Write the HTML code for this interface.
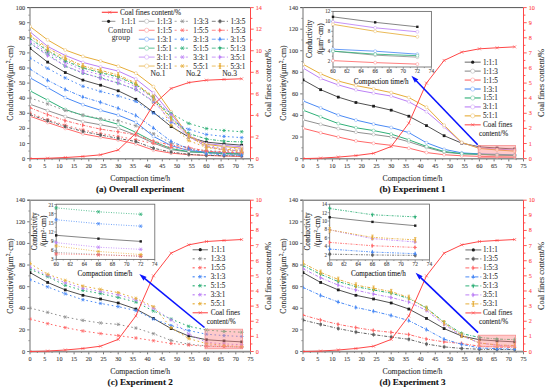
<!DOCTYPE html>
<html><head><meta charset="utf-8"><style>
html,body{margin:0;padding:0;background:#fff;width:550px;height:389px;overflow:hidden}
svg{display:block;font-family:"Liberation Serif",serif}
text{stroke-width:0.1px}
</style></head><body>
<svg width="550" height="389" viewBox="0 0 550 389" font-family="Liberation Serif, serif">
<path d="M27.40 7.60H250.50" stroke="#555" stroke-width="1.0"/>
<path d="M30.00 158.60V161.40" stroke="#555" stroke-width="0.8"/>
<text transform="translate(30.00 168.10) scale(0.920 1)" font-size="6.70" text-anchor="middle" fill="#3a3a3a" stroke="#3a3a3a">0</text>
<path d="M37.35 158.60V160.10" stroke="#555" stroke-width="0.8"/>
<path d="M44.70 158.60V161.40" stroke="#555" stroke-width="0.8"/>
<text transform="translate(44.70 168.10) scale(0.920 1)" font-size="6.70" text-anchor="middle" fill="#3a3a3a" stroke="#3a3a3a">5</text>
<path d="M52.05 158.60V160.10" stroke="#555" stroke-width="0.8"/>
<path d="M59.40 158.60V161.40" stroke="#555" stroke-width="0.8"/>
<text transform="translate(59.40 168.10) scale(0.920 1)" font-size="6.70" text-anchor="middle" fill="#3a3a3a" stroke="#3a3a3a">10</text>
<path d="M66.75 158.60V160.10" stroke="#555" stroke-width="0.8"/>
<path d="M74.10 158.60V161.40" stroke="#555" stroke-width="0.8"/>
<text transform="translate(74.10 168.10) scale(0.920 1)" font-size="6.70" text-anchor="middle" fill="#3a3a3a" stroke="#3a3a3a">15</text>
<path d="M81.45 158.60V160.10" stroke="#555" stroke-width="0.8"/>
<path d="M88.80 158.60V161.40" stroke="#555" stroke-width="0.8"/>
<text transform="translate(88.80 168.10) scale(0.920 1)" font-size="6.70" text-anchor="middle" fill="#3a3a3a" stroke="#3a3a3a">20</text>
<path d="M96.15 158.60V160.10" stroke="#555" stroke-width="0.8"/>
<path d="M103.50 158.60V161.40" stroke="#555" stroke-width="0.8"/>
<text transform="translate(103.50 168.10) scale(0.920 1)" font-size="6.70" text-anchor="middle" fill="#3a3a3a" stroke="#3a3a3a">25</text>
<path d="M110.85 158.60V160.10" stroke="#555" stroke-width="0.8"/>
<path d="M118.20 158.60V161.40" stroke="#555" stroke-width="0.8"/>
<text transform="translate(118.20 168.10) scale(0.920 1)" font-size="6.70" text-anchor="middle" fill="#3a3a3a" stroke="#3a3a3a">30</text>
<path d="M125.55 158.60V160.10" stroke="#555" stroke-width="0.8"/>
<path d="M132.90 158.60V161.40" stroke="#555" stroke-width="0.8"/>
<text transform="translate(132.90 168.10) scale(0.920 1)" font-size="6.70" text-anchor="middle" fill="#3a3a3a" stroke="#3a3a3a">35</text>
<path d="M140.25 158.60V160.10" stroke="#555" stroke-width="0.8"/>
<path d="M147.60 158.60V161.40" stroke="#555" stroke-width="0.8"/>
<text transform="translate(147.60 168.10) scale(0.920 1)" font-size="6.70" text-anchor="middle" fill="#3a3a3a" stroke="#3a3a3a">40</text>
<path d="M154.95 158.60V160.10" stroke="#555" stroke-width="0.8"/>
<path d="M162.30 158.60V161.40" stroke="#555" stroke-width="0.8"/>
<text transform="translate(162.30 168.10) scale(0.920 1)" font-size="6.70" text-anchor="middle" fill="#3a3a3a" stroke="#3a3a3a">45</text>
<path d="M169.65 158.60V160.10" stroke="#555" stroke-width="0.8"/>
<path d="M177.00 158.60V161.40" stroke="#555" stroke-width="0.8"/>
<text transform="translate(177.00 168.10) scale(0.920 1)" font-size="6.70" text-anchor="middle" fill="#3a3a3a" stroke="#3a3a3a">50</text>
<path d="M184.35 158.60V160.10" stroke="#555" stroke-width="0.8"/>
<path d="M191.70 158.60V161.40" stroke="#555" stroke-width="0.8"/>
<text transform="translate(191.70 168.10) scale(0.920 1)" font-size="6.70" text-anchor="middle" fill="#3a3a3a" stroke="#3a3a3a">55</text>
<path d="M199.05 158.60V160.10" stroke="#555" stroke-width="0.8"/>
<path d="M206.40 158.60V161.40" stroke="#555" stroke-width="0.8"/>
<text transform="translate(206.40 168.10) scale(0.920 1)" font-size="6.70" text-anchor="middle" fill="#3a3a3a" stroke="#3a3a3a">60</text>
<path d="M213.75 158.60V160.10" stroke="#555" stroke-width="0.8"/>
<path d="M221.10 158.60V161.40" stroke="#555" stroke-width="0.8"/>
<text transform="translate(221.10 168.10) scale(0.920 1)" font-size="6.70" text-anchor="middle" fill="#3a3a3a" stroke="#3a3a3a">65</text>
<path d="M228.45 158.60V160.10" stroke="#555" stroke-width="0.8"/>
<path d="M235.80 158.60V161.40" stroke="#555" stroke-width="0.8"/>
<text transform="translate(235.80 168.10) scale(0.920 1)" font-size="6.70" text-anchor="middle" fill="#3a3a3a" stroke="#3a3a3a">70</text>
<path d="M243.15 158.60V160.10" stroke="#555" stroke-width="0.8"/>
<path d="M250.50 158.60V161.40" stroke="#555" stroke-width="0.8"/>
<text transform="translate(250.50 168.10) scale(0.920 1)" font-size="6.70" text-anchor="middle" fill="#3a3a3a" stroke="#3a3a3a">75</text>
<path d="M30.00 158.60H27.20" stroke="#555" stroke-width="0.8"/>
<text transform="translate(25.10 160.60) scale(0.920 1)" font-size="6.70" text-anchor="end" fill="#3a3a3a" stroke="#3a3a3a">0</text>
<path d="M30.00 151.05H28.50" stroke="#555" stroke-width="0.8"/>
<path d="M30.00 143.50H27.20" stroke="#555" stroke-width="0.8"/>
<text transform="translate(25.10 145.50) scale(0.920 1)" font-size="6.70" text-anchor="end" fill="#3a3a3a" stroke="#3a3a3a">10</text>
<path d="M30.00 135.95H28.50" stroke="#555" stroke-width="0.8"/>
<path d="M30.00 128.40H27.20" stroke="#555" stroke-width="0.8"/>
<text transform="translate(25.10 130.40) scale(0.920 1)" font-size="6.70" text-anchor="end" fill="#3a3a3a" stroke="#3a3a3a">20</text>
<path d="M30.00 120.85H28.50" stroke="#555" stroke-width="0.8"/>
<path d="M30.00 113.30H27.20" stroke="#555" stroke-width="0.8"/>
<text transform="translate(25.10 115.30) scale(0.920 1)" font-size="6.70" text-anchor="end" fill="#3a3a3a" stroke="#3a3a3a">30</text>
<path d="M30.00 105.75H28.50" stroke="#555" stroke-width="0.8"/>
<path d="M30.00 98.20H27.20" stroke="#555" stroke-width="0.8"/>
<text transform="translate(25.10 100.20) scale(0.920 1)" font-size="6.70" text-anchor="end" fill="#3a3a3a" stroke="#3a3a3a">40</text>
<path d="M30.00 90.65H28.50" stroke="#555" stroke-width="0.8"/>
<path d="M30.00 83.10H27.20" stroke="#555" stroke-width="0.8"/>
<text transform="translate(25.10 85.10) scale(0.920 1)" font-size="6.70" text-anchor="end" fill="#3a3a3a" stroke="#3a3a3a">50</text>
<path d="M30.00 75.55H28.50" stroke="#555" stroke-width="0.8"/>
<path d="M30.00 68.00H27.20" stroke="#555" stroke-width="0.8"/>
<text transform="translate(25.10 70.00) scale(0.920 1)" font-size="6.70" text-anchor="end" fill="#3a3a3a" stroke="#3a3a3a">60</text>
<path d="M30.00 60.45H28.50" stroke="#555" stroke-width="0.8"/>
<path d="M30.00 52.90H27.20" stroke="#555" stroke-width="0.8"/>
<text transform="translate(25.10 54.90) scale(0.920 1)" font-size="6.70" text-anchor="end" fill="#3a3a3a" stroke="#3a3a3a">70</text>
<path d="M30.00 45.35H28.50" stroke="#555" stroke-width="0.8"/>
<path d="M30.00 37.80H27.20" stroke="#555" stroke-width="0.8"/>
<text transform="translate(25.10 39.80) scale(0.920 1)" font-size="6.70" text-anchor="end" fill="#3a3a3a" stroke="#3a3a3a">80</text>
<path d="M30.00 30.25H28.50" stroke="#555" stroke-width="0.8"/>
<path d="M30.00 22.70H27.20" stroke="#555" stroke-width="0.8"/>
<text transform="translate(25.10 24.70) scale(0.920 1)" font-size="6.70" text-anchor="end" fill="#3a3a3a" stroke="#3a3a3a">90</text>
<path d="M30.00 15.15H28.50" stroke="#555" stroke-width="0.8"/>
<path d="M30.00 7.60H27.20" stroke="#555" stroke-width="0.8"/>
<text transform="translate(25.10 9.60) scale(0.920 1)" font-size="6.70" text-anchor="end" fill="#3a3a3a" stroke="#3a3a3a">100</text>
<path d="M250.50 158.60H253.70" stroke="#ff4646" stroke-width="0.9"/>
<text transform="translate(255.80 160.60) scale(0.920 1)" font-size="6.70" text-anchor="start" fill="#ff4646" stroke="#ff4646">0</text>
<path d="M250.50 147.81H252.40" stroke="#ff4646" stroke-width="0.9"/>
<path d="M250.50 137.03H253.70" stroke="#ff4646" stroke-width="0.9"/>
<text transform="translate(255.80 139.03) scale(0.920 1)" font-size="6.70" text-anchor="start" fill="#ff4646" stroke="#ff4646">2</text>
<path d="M250.50 126.24H252.40" stroke="#ff4646" stroke-width="0.9"/>
<path d="M250.50 115.46H253.70" stroke="#ff4646" stroke-width="0.9"/>
<text transform="translate(255.80 117.46) scale(0.920 1)" font-size="6.70" text-anchor="start" fill="#ff4646" stroke="#ff4646">4</text>
<path d="M250.50 104.67H252.40" stroke="#ff4646" stroke-width="0.9"/>
<path d="M250.50 93.89H253.70" stroke="#ff4646" stroke-width="0.9"/>
<text transform="translate(255.80 95.89) scale(0.920 1)" font-size="6.70" text-anchor="start" fill="#ff4646" stroke="#ff4646">6</text>
<path d="M250.50 83.10H252.40" stroke="#ff4646" stroke-width="0.9"/>
<path d="M250.50 72.31H253.70" stroke="#ff4646" stroke-width="0.9"/>
<text transform="translate(255.80 74.31) scale(0.920 1)" font-size="6.70" text-anchor="start" fill="#ff4646" stroke="#ff4646">8</text>
<path d="M250.50 61.53H252.40" stroke="#ff4646" stroke-width="0.9"/>
<path d="M250.50 50.74H253.70" stroke="#ff4646" stroke-width="0.9"/>
<text transform="translate(255.80 52.74) scale(0.920 1)" font-size="6.70" text-anchor="start" fill="#ff4646" stroke="#ff4646">10</text>
<path d="M250.50 39.96H252.40" stroke="#ff4646" stroke-width="0.9"/>
<path d="M250.50 29.17H253.70" stroke="#ff4646" stroke-width="0.9"/>
<text transform="translate(255.80 31.17) scale(0.920 1)" font-size="6.70" text-anchor="start" fill="#ff4646" stroke="#ff4646">12</text>
<path d="M250.50 18.39H252.40" stroke="#ff4646" stroke-width="0.9"/>
<path d="M250.50 7.60H253.70" stroke="#ff4646" stroke-width="0.9"/>
<text transform="translate(255.80 9.60) scale(0.920 1)" font-size="6.70" text-anchor="start" fill="#ff4646" stroke="#ff4646">14</text>
<path d="M30.00 7.60V158.60" stroke="#999999" stroke-width="1.4"/>
<path d="M250.50 7.60V158.60" stroke="#ff4646" stroke-width="1"/>
<path d="M29.30 158.70H250.50" stroke="#8e8e8e" stroke-width="1.6"/>
<defs><clipPath id="clipa"><rect x="30.00" y="7.60" width="220.50" height="152.00"/></clipPath></defs>
<g clip-path="url(#clipa)">
<polyline points="30.00,48.37 47.64,62.11 65.28,72.53 82.92,80.08 100.56,85.21 118.20,90.80 135.84,99.26 153.48,112.39 171.12,126.59 188.76,137.01 206.40,142.14 224.04,143.80 241.68,145.16" fill="none" stroke="#505050" stroke-width="1.00" />
<polyline points="30.00,104.24 47.64,110.58 65.28,116.62 82.92,121.60 100.56,124.78 118.20,128.25 135.84,135.04 153.48,143.05 171.12,149.69 188.76,151.96 206.40,152.56 224.04,153.77 241.68,154.37" fill="none" stroke="#909090" stroke-width="1.00" />
<polyline points="30.00,116.17 47.64,122.51 65.28,128.40 82.92,133.84 100.56,137.16 118.20,140.03 135.84,143.95 153.48,150.14 171.12,153.16 188.76,154.67 206.40,155.43 224.04,156.03 241.68,156.49" fill="none" stroke="#ff6868" stroke-width="1.00" />
<polyline points="30.00,77.81 47.64,87.63 65.28,97.60 82.92,104.69 100.56,110.28 118.20,115.11 135.84,122.21 153.48,136.40 171.12,145.61 188.76,150.60 206.40,151.96 224.04,152.56 241.68,153.47" fill="none" stroke="#4a8af5" stroke-width="1.00" />
<polyline points="30.00,90.80 47.64,100.16 65.28,109.52 82.92,115.41 100.56,119.34 118.20,124.32 135.84,132.33 153.48,141.54 171.12,148.63 188.76,151.65 206.40,152.56 224.04,153.47 241.68,153.92" fill="none" stroke="#30b078" stroke-width="1.00" />
<polyline points="30.00,31.76 47.64,46.41 65.28,55.47 82.92,62.41 100.56,66.94 118.20,71.02 135.84,79.02 153.48,92.91 171.12,114.05 188.76,136.40 206.40,143.65 224.04,145.46 241.68,146.67" fill="none" stroke="#bc80f5" stroke-width="1.00" />
<polyline points="30.00,26.47 47.64,39.91 65.28,50.03 82.92,56.37 100.56,61.05 118.20,66.19 135.84,73.13 153.48,86.57 171.12,111.79 188.76,135.95 206.40,144.41 224.04,146.52 241.68,148.18" fill="none" stroke="#e6ad3a" stroke-width="1.00" />
<polyline points="30.00,97.90 47.64,103.94 65.28,110.43 82.92,115.11 100.56,118.74 118.20,120.70 135.84,125.83 153.48,133.69 171.12,143.20 188.76,148.48 206.40,150.60 224.04,151.65 241.68,152.56" fill="none" stroke="#909090" stroke-width="1.00" stroke-dasharray="1.6 2.7"/>
<polyline points="30.00,113.15 47.64,119.64 65.28,125.23 82.92,129.91 100.56,133.53 118.20,136.40 135.84,139.72 153.48,143.50 171.12,147.43 188.76,149.54 206.40,151.35 224.04,151.81 241.68,152.41" fill="none" stroke="#ff6868" stroke-width="1.00" stroke-dasharray="1.6 2.7"/>
<polyline points="30.00,58.18 47.64,68.30 65.28,77.97 82.92,86.27 100.56,91.41 118.20,95.94 135.84,101.37 153.48,113.15 171.12,122.36 188.76,129.31 206.40,134.44 224.04,136.40 241.68,137.61" fill="none" stroke="#4a8af5" stroke-width="1.00" stroke-dasharray="1.6 2.7"/>
<polyline points="30.00,43.54 47.64,53.96 65.28,66.19 82.92,73.28 100.56,77.66 118.20,83.10 135.84,89.44 153.48,101.97 171.12,113.30 188.76,123.42 206.40,128.55 224.04,130.51 241.68,131.72" fill="none" stroke="#30b078" stroke-width="1.00" stroke-dasharray="1.6 2.7"/>
<polyline points="30.00,40.97 47.64,52.45 65.28,62.56 82.92,70.27 100.56,74.79 118.20,79.32 135.84,86.57 153.48,98.20 171.12,114.51 188.76,134.14 206.40,145.76 224.04,148.03 241.68,149.09" fill="none" stroke="#bc80f5" stroke-width="1.00" stroke-dasharray="1.6 2.7"/>
<polyline points="30.00,35.53 47.64,50.63 65.28,59.24 82.92,67.24 100.56,71.77 118.20,76.30 135.84,84.31 153.48,95.94 171.12,125.23 188.76,140.63 206.40,147.43 224.04,150.14 241.68,151.65" fill="none" stroke="#e6ad3a" stroke-width="1.00" stroke-dasharray="1.6 2.7"/>
<polyline points="30.00,114.66 47.64,120.70 65.28,126.59 82.92,131.42 100.56,135.04 118.20,138.37 135.84,141.54 153.48,148.18 171.12,152.11 188.76,154.37 206.40,155.43 224.04,155.73 241.68,155.88" fill="none" stroke="#606060" stroke-width="1.00" stroke-dasharray="3.0 1.5 0.9 1.5"/>
<polyline points="30.00,107.71 47.64,114.66 65.28,120.70 82.92,125.23 100.56,129.16 118.20,131.87 135.84,134.89 153.48,141.23 171.12,145.16 188.76,147.43 206.40,151.20 224.04,152.41 241.68,153.01" fill="none" stroke="#ff6868" stroke-width="1.00" stroke-dasharray="3.0 1.5 0.9 1.5"/>
<polyline points="30.00,69.06 47.64,80.23 65.28,89.44 82.92,96.99 100.56,102.28 118.20,108.32 135.84,115.41 153.48,127.95 171.12,141.39 188.76,148.63 206.40,153.62 224.04,154.67 241.68,155.28" fill="none" stroke="#4a8af5" stroke-width="1.00" stroke-dasharray="3.0 1.5 0.9 1.5"/>
<polyline points="30.00,38.55 47.64,50.79 65.28,60.90 82.92,68.00 100.56,72.68 118.20,77.06 135.84,84.61 153.48,97.60 171.12,117.83 188.76,133.53 206.40,138.97 224.04,141.23 241.68,141.99" fill="none" stroke="#30b078" stroke-width="1.00" stroke-dasharray="3.0 1.5 0.9 1.5"/>
<polyline points="30.00,42.78 47.64,55.62 65.28,65.89 82.92,72.83 100.56,78.42 118.20,83.10 135.84,89.59 153.48,101.22 171.12,120.85 188.76,136.70 206.40,146.67 224.04,149.84 241.68,151.05" fill="none" stroke="#bc80f5" stroke-width="1.00" stroke-dasharray="3.0 1.5 0.9 1.5"/>
<polyline points="30.00,35.08 47.64,48.07 65.28,57.88 82.92,65.89 100.56,70.27 118.20,74.95 135.84,83.10 153.48,98.50 171.12,118.58 188.76,135.95 206.40,146.67 224.04,149.39 241.68,150.29" fill="none" stroke="#e6ad3a" stroke-width="1.00" stroke-dasharray="3.0 1.5 0.9 1.5"/>
<rect x="28.62" y="46.99" width="2.76" height="2.76" fill="#1e1e1e"/>
<rect x="46.26" y="60.73" width="2.76" height="2.76" fill="#1e1e1e"/>
<rect x="63.90" y="71.15" width="2.76" height="2.76" fill="#1e1e1e"/>
<rect x="81.54" y="78.70" width="2.76" height="2.76" fill="#1e1e1e"/>
<rect x="99.18" y="83.83" width="2.76" height="2.76" fill="#1e1e1e"/>
<rect x="116.82" y="89.42" width="2.76" height="2.76" fill="#1e1e1e"/>
<rect x="134.46" y="97.88" width="2.76" height="2.76" fill="#1e1e1e"/>
<rect x="152.10" y="111.01" width="2.76" height="2.76" fill="#1e1e1e"/>
<rect x="169.74" y="125.21" width="2.76" height="2.76" fill="#1e1e1e"/>
<rect x="187.38" y="135.63" width="2.76" height="2.76" fill="#1e1e1e"/>
<rect x="205.02" y="140.76" width="2.76" height="2.76" fill="#1e1e1e"/>
<rect x="222.66" y="142.42" width="2.76" height="2.76" fill="#1e1e1e"/>
<rect x="240.30" y="143.78" width="2.76" height="2.76" fill="#1e1e1e"/>
<circle cx="30.00" cy="104.24" r="1.50" fill="#fff" stroke="#909090" stroke-width="0.5" stroke-opacity="0.75"/>
<circle cx="47.64" cy="110.58" r="1.50" fill="#fff" stroke="#909090" stroke-width="0.5" stroke-opacity="0.75"/>
<circle cx="65.28" cy="116.62" r="1.50" fill="#fff" stroke="#909090" stroke-width="0.5" stroke-opacity="0.75"/>
<circle cx="82.92" cy="121.60" r="1.50" fill="#fff" stroke="#909090" stroke-width="0.5" stroke-opacity="0.75"/>
<circle cx="100.56" cy="124.78" r="1.50" fill="#fff" stroke="#909090" stroke-width="0.5" stroke-opacity="0.75"/>
<circle cx="118.20" cy="128.25" r="1.50" fill="#fff" stroke="#909090" stroke-width="0.5" stroke-opacity="0.75"/>
<circle cx="135.84" cy="135.04" r="1.50" fill="#fff" stroke="#909090" stroke-width="0.5" stroke-opacity="0.75"/>
<circle cx="153.48" cy="143.05" r="1.50" fill="#fff" stroke="#909090" stroke-width="0.5" stroke-opacity="0.75"/>
<circle cx="171.12" cy="149.69" r="1.50" fill="#fff" stroke="#909090" stroke-width="0.5" stroke-opacity="0.75"/>
<circle cx="188.76" cy="151.96" r="1.50" fill="#fff" stroke="#909090" stroke-width="0.5" stroke-opacity="0.75"/>
<circle cx="206.40" cy="152.56" r="1.50" fill="#fff" stroke="#909090" stroke-width="0.5" stroke-opacity="0.75"/>
<circle cx="224.04" cy="153.77" r="1.50" fill="#fff" stroke="#909090" stroke-width="0.5" stroke-opacity="0.75"/>
<circle cx="241.68" cy="154.37" r="1.50" fill="#fff" stroke="#909090" stroke-width="0.5" stroke-opacity="0.75"/>
<circle cx="30.00" cy="116.17" r="1.50" fill="#fff" stroke="#ff6868" stroke-width="0.5" stroke-opacity="0.75"/>
<circle cx="47.64" cy="122.51" r="1.50" fill="#fff" stroke="#ff6868" stroke-width="0.5" stroke-opacity="0.75"/>
<circle cx="65.28" cy="128.40" r="1.50" fill="#fff" stroke="#ff6868" stroke-width="0.5" stroke-opacity="0.75"/>
<circle cx="82.92" cy="133.84" r="1.50" fill="#fff" stroke="#ff6868" stroke-width="0.5" stroke-opacity="0.75"/>
<circle cx="100.56" cy="137.16" r="1.50" fill="#fff" stroke="#ff6868" stroke-width="0.5" stroke-opacity="0.75"/>
<circle cx="118.20" cy="140.03" r="1.50" fill="#fff" stroke="#ff6868" stroke-width="0.5" stroke-opacity="0.75"/>
<circle cx="135.84" cy="143.95" r="1.50" fill="#fff" stroke="#ff6868" stroke-width="0.5" stroke-opacity="0.75"/>
<circle cx="153.48" cy="150.14" r="1.50" fill="#fff" stroke="#ff6868" stroke-width="0.5" stroke-opacity="0.75"/>
<circle cx="171.12" cy="153.16" r="1.50" fill="#fff" stroke="#ff6868" stroke-width="0.5" stroke-opacity="0.75"/>
<circle cx="188.76" cy="154.67" r="1.50" fill="#fff" stroke="#ff6868" stroke-width="0.5" stroke-opacity="0.75"/>
<circle cx="206.40" cy="155.43" r="1.50" fill="#fff" stroke="#ff6868" stroke-width="0.5" stroke-opacity="0.75"/>
<circle cx="224.04" cy="156.03" r="1.50" fill="#fff" stroke="#ff6868" stroke-width="0.5" stroke-opacity="0.75"/>
<circle cx="241.68" cy="156.49" r="1.50" fill="#fff" stroke="#ff6868" stroke-width="0.5" stroke-opacity="0.75"/>
<circle cx="30.00" cy="77.81" r="1.50" fill="#fff" stroke="#4a8af5" stroke-width="0.5" stroke-opacity="0.75"/>
<circle cx="47.64" cy="87.63" r="1.50" fill="#fff" stroke="#4a8af5" stroke-width="0.5" stroke-opacity="0.75"/>
<circle cx="65.28" cy="97.60" r="1.50" fill="#fff" stroke="#4a8af5" stroke-width="0.5" stroke-opacity="0.75"/>
<circle cx="82.92" cy="104.69" r="1.50" fill="#fff" stroke="#4a8af5" stroke-width="0.5" stroke-opacity="0.75"/>
<circle cx="100.56" cy="110.28" r="1.50" fill="#fff" stroke="#4a8af5" stroke-width="0.5" stroke-opacity="0.75"/>
<circle cx="118.20" cy="115.11" r="1.50" fill="#fff" stroke="#4a8af5" stroke-width="0.5" stroke-opacity="0.75"/>
<circle cx="135.84" cy="122.21" r="1.50" fill="#fff" stroke="#4a8af5" stroke-width="0.5" stroke-opacity="0.75"/>
<circle cx="153.48" cy="136.40" r="1.50" fill="#fff" stroke="#4a8af5" stroke-width="0.5" stroke-opacity="0.75"/>
<circle cx="171.12" cy="145.61" r="1.50" fill="#fff" stroke="#4a8af5" stroke-width="0.5" stroke-opacity="0.75"/>
<circle cx="188.76" cy="150.60" r="1.50" fill="#fff" stroke="#4a8af5" stroke-width="0.5" stroke-opacity="0.75"/>
<circle cx="206.40" cy="151.96" r="1.50" fill="#fff" stroke="#4a8af5" stroke-width="0.5" stroke-opacity="0.75"/>
<circle cx="224.04" cy="152.56" r="1.50" fill="#fff" stroke="#4a8af5" stroke-width="0.5" stroke-opacity="0.75"/>
<circle cx="241.68" cy="153.47" r="1.50" fill="#fff" stroke="#4a8af5" stroke-width="0.5" stroke-opacity="0.75"/>
<circle cx="30.00" cy="90.80" r="1.50" fill="#fff" stroke="#30b078" stroke-width="0.5" stroke-opacity="0.75"/>
<circle cx="47.64" cy="100.16" r="1.50" fill="#fff" stroke="#30b078" stroke-width="0.5" stroke-opacity="0.75"/>
<circle cx="65.28" cy="109.52" r="1.50" fill="#fff" stroke="#30b078" stroke-width="0.5" stroke-opacity="0.75"/>
<circle cx="82.92" cy="115.41" r="1.50" fill="#fff" stroke="#30b078" stroke-width="0.5" stroke-opacity="0.75"/>
<circle cx="100.56" cy="119.34" r="1.50" fill="#fff" stroke="#30b078" stroke-width="0.5" stroke-opacity="0.75"/>
<circle cx="118.20" cy="124.32" r="1.50" fill="#fff" stroke="#30b078" stroke-width="0.5" stroke-opacity="0.75"/>
<circle cx="135.84" cy="132.33" r="1.50" fill="#fff" stroke="#30b078" stroke-width="0.5" stroke-opacity="0.75"/>
<circle cx="153.48" cy="141.54" r="1.50" fill="#fff" stroke="#30b078" stroke-width="0.5" stroke-opacity="0.75"/>
<circle cx="171.12" cy="148.63" r="1.50" fill="#fff" stroke="#30b078" stroke-width="0.5" stroke-opacity="0.75"/>
<circle cx="188.76" cy="151.65" r="1.50" fill="#fff" stroke="#30b078" stroke-width="0.5" stroke-opacity="0.75"/>
<circle cx="206.40" cy="152.56" r="1.50" fill="#fff" stroke="#30b078" stroke-width="0.5" stroke-opacity="0.75"/>
<circle cx="224.04" cy="153.47" r="1.50" fill="#fff" stroke="#30b078" stroke-width="0.5" stroke-opacity="0.75"/>
<circle cx="241.68" cy="153.92" r="1.50" fill="#fff" stroke="#30b078" stroke-width="0.5" stroke-opacity="0.75"/>
<circle cx="30.00" cy="31.76" r="1.50" fill="#fff" stroke="#bc80f5" stroke-width="0.5" stroke-opacity="0.75"/>
<circle cx="47.64" cy="46.41" r="1.50" fill="#fff" stroke="#bc80f5" stroke-width="0.5" stroke-opacity="0.75"/>
<circle cx="65.28" cy="55.47" r="1.50" fill="#fff" stroke="#bc80f5" stroke-width="0.5" stroke-opacity="0.75"/>
<circle cx="82.92" cy="62.41" r="1.50" fill="#fff" stroke="#bc80f5" stroke-width="0.5" stroke-opacity="0.75"/>
<circle cx="100.56" cy="66.94" r="1.50" fill="#fff" stroke="#bc80f5" stroke-width="0.5" stroke-opacity="0.75"/>
<circle cx="118.20" cy="71.02" r="1.50" fill="#fff" stroke="#bc80f5" stroke-width="0.5" stroke-opacity="0.75"/>
<circle cx="135.84" cy="79.02" r="1.50" fill="#fff" stroke="#bc80f5" stroke-width="0.5" stroke-opacity="0.75"/>
<circle cx="153.48" cy="92.91" r="1.50" fill="#fff" stroke="#bc80f5" stroke-width="0.5" stroke-opacity="0.75"/>
<circle cx="171.12" cy="114.05" r="1.50" fill="#fff" stroke="#bc80f5" stroke-width="0.5" stroke-opacity="0.75"/>
<circle cx="188.76" cy="136.40" r="1.50" fill="#fff" stroke="#bc80f5" stroke-width="0.5" stroke-opacity="0.75"/>
<circle cx="206.40" cy="143.65" r="1.50" fill="#fff" stroke="#bc80f5" stroke-width="0.5" stroke-opacity="0.75"/>
<circle cx="224.04" cy="145.46" r="1.50" fill="#fff" stroke="#bc80f5" stroke-width="0.5" stroke-opacity="0.75"/>
<circle cx="241.68" cy="146.67" r="1.50" fill="#fff" stroke="#bc80f5" stroke-width="0.5" stroke-opacity="0.75"/>
<circle cx="30.00" cy="26.47" r="1.50" fill="#fff" stroke="#e6ad3a" stroke-width="0.5" stroke-opacity="0.75"/>
<circle cx="47.64" cy="39.91" r="1.50" fill="#fff" stroke="#e6ad3a" stroke-width="0.5" stroke-opacity="0.75"/>
<circle cx="65.28" cy="50.03" r="1.50" fill="#fff" stroke="#e6ad3a" stroke-width="0.5" stroke-opacity="0.75"/>
<circle cx="82.92" cy="56.37" r="1.50" fill="#fff" stroke="#e6ad3a" stroke-width="0.5" stroke-opacity="0.75"/>
<circle cx="100.56" cy="61.05" r="1.50" fill="#fff" stroke="#e6ad3a" stroke-width="0.5" stroke-opacity="0.75"/>
<circle cx="118.20" cy="66.19" r="1.50" fill="#fff" stroke="#e6ad3a" stroke-width="0.5" stroke-opacity="0.75"/>
<circle cx="135.84" cy="73.13" r="1.50" fill="#fff" stroke="#e6ad3a" stroke-width="0.5" stroke-opacity="0.75"/>
<circle cx="153.48" cy="86.57" r="1.50" fill="#fff" stroke="#e6ad3a" stroke-width="0.5" stroke-opacity="0.75"/>
<circle cx="171.12" cy="111.79" r="1.50" fill="#fff" stroke="#e6ad3a" stroke-width="0.5" stroke-opacity="0.75"/>
<circle cx="188.76" cy="135.95" r="1.50" fill="#fff" stroke="#e6ad3a" stroke-width="0.5" stroke-opacity="0.75"/>
<circle cx="206.40" cy="144.41" r="1.50" fill="#fff" stroke="#e6ad3a" stroke-width="0.5" stroke-opacity="0.75"/>
<circle cx="224.04" cy="146.52" r="1.50" fill="#fff" stroke="#e6ad3a" stroke-width="0.5" stroke-opacity="0.75"/>
<circle cx="241.68" cy="148.18" r="1.50" fill="#fff" stroke="#e6ad3a" stroke-width="0.5" stroke-opacity="0.75"/>
<path d="M28.05 97.90L31.95 97.90M29.02 96.21L30.98 99.59M30.98 96.21L29.02 99.59" stroke="#909090" stroke-width="0.75" fill="none"/>
<path d="M45.69 103.94L49.59 103.94M46.66 102.25L48.62 105.63M48.62 102.25L46.66 105.63" stroke="#909090" stroke-width="0.75" fill="none"/>
<path d="M63.33 110.43L67.23 110.43M64.31 108.74L66.25 112.12M66.25 108.74L64.31 112.12" stroke="#909090" stroke-width="0.75" fill="none"/>
<path d="M80.97 115.11L84.87 115.11M81.95 113.42L83.89 116.80M83.89 113.42L81.95 116.80" stroke="#909090" stroke-width="0.75" fill="none"/>
<path d="M98.61 118.74L102.51 118.74M99.59 117.05L101.53 120.42M101.53 117.05L99.59 120.42" stroke="#909090" stroke-width="0.75" fill="none"/>
<path d="M116.25 120.70L120.15 120.70M117.23 119.01L119.17 122.39M119.17 119.01L117.23 122.39" stroke="#909090" stroke-width="0.75" fill="none"/>
<path d="M133.89 125.83L137.79 125.83M134.87 124.14L136.81 127.52M136.81 124.14L134.87 127.52" stroke="#909090" stroke-width="0.75" fill="none"/>
<path d="M151.53 133.69L155.43 133.69M152.51 132.00L154.46 135.37M154.46 132.00L152.51 135.37" stroke="#909090" stroke-width="0.75" fill="none"/>
<path d="M169.17 143.20L173.07 143.20M170.15 141.51L172.09 144.89M172.09 141.51L170.15 144.89" stroke="#909090" stroke-width="0.75" fill="none"/>
<path d="M186.81 148.48L190.71 148.48M187.78 146.79L189.73 150.17M189.73 146.79L187.78 150.17" stroke="#909090" stroke-width="0.75" fill="none"/>
<path d="M204.45 150.60L208.35 150.60M205.43 148.91L207.38 152.29M207.38 148.91L205.43 152.29" stroke="#909090" stroke-width="0.75" fill="none"/>
<path d="M222.09 151.65L225.99 151.65M223.06 149.97L225.01 153.34M225.01 149.97L223.06 153.34" stroke="#909090" stroke-width="0.75" fill="none"/>
<path d="M239.73 152.56L243.63 152.56M240.71 150.87L242.66 154.25M242.66 150.87L240.71 154.25" stroke="#909090" stroke-width="0.75" fill="none"/>
<path d="M28.05 113.15L31.95 113.15M29.02 111.46L30.98 114.84M30.98 111.46L29.02 114.84" stroke="#ff6868" stroke-width="0.75" fill="none"/>
<path d="M45.69 119.64L49.59 119.64M46.66 117.95L48.62 121.33M48.62 117.95L46.66 121.33" stroke="#ff6868" stroke-width="0.75" fill="none"/>
<path d="M63.33 125.23L67.23 125.23M64.31 123.54L66.25 126.92M66.25 123.54L64.31 126.92" stroke="#ff6868" stroke-width="0.75" fill="none"/>
<path d="M80.97 129.91L84.87 129.91M81.95 128.22L83.89 131.60M83.89 128.22L81.95 131.60" stroke="#ff6868" stroke-width="0.75" fill="none"/>
<path d="M98.61 133.53L102.51 133.53M99.59 131.85L101.53 135.22M101.53 131.85L99.59 135.22" stroke="#ff6868" stroke-width="0.75" fill="none"/>
<path d="M116.25 136.40L120.15 136.40M117.23 134.71L119.17 138.09M119.17 134.71L117.23 138.09" stroke="#ff6868" stroke-width="0.75" fill="none"/>
<path d="M133.89 139.72L137.79 139.72M134.87 138.04L136.81 141.41M136.81 138.04L134.87 141.41" stroke="#ff6868" stroke-width="0.75" fill="none"/>
<path d="M151.53 143.50L155.43 143.50M152.51 141.81L154.46 145.19M154.46 141.81L152.51 145.19" stroke="#ff6868" stroke-width="0.75" fill="none"/>
<path d="M169.17 147.43L173.07 147.43M170.15 145.74L172.09 149.11M172.09 145.74L170.15 149.11" stroke="#ff6868" stroke-width="0.75" fill="none"/>
<path d="M186.81 149.54L190.71 149.54M187.78 147.85L189.73 151.23M189.73 147.85L187.78 151.23" stroke="#ff6868" stroke-width="0.75" fill="none"/>
<path d="M204.45 151.35L208.35 151.35M205.43 149.66L207.38 153.04M207.38 149.66L205.43 153.04" stroke="#ff6868" stroke-width="0.75" fill="none"/>
<path d="M222.09 151.81L225.99 151.81M223.06 150.12L225.01 153.49M225.01 150.12L223.06 153.49" stroke="#ff6868" stroke-width="0.75" fill="none"/>
<path d="M239.73 152.41L243.63 152.41M240.71 150.72L242.66 154.10M242.66 150.72L240.71 154.10" stroke="#ff6868" stroke-width="0.75" fill="none"/>
<path d="M28.05 58.18L31.95 58.18M29.02 56.50L30.98 59.87M30.98 56.50L29.02 59.87" stroke="#4a8af5" stroke-width="0.75" fill="none"/>
<path d="M45.69 68.30L49.59 68.30M46.66 66.61L48.62 69.99M48.62 66.61L46.66 69.99" stroke="#4a8af5" stroke-width="0.75" fill="none"/>
<path d="M63.33 77.97L67.23 77.97M64.31 76.28L66.25 79.65M66.25 76.28L64.31 79.65" stroke="#4a8af5" stroke-width="0.75" fill="none"/>
<path d="M80.97 86.27L84.87 86.27M81.95 84.58L83.89 87.96M83.89 84.58L81.95 87.96" stroke="#4a8af5" stroke-width="0.75" fill="none"/>
<path d="M98.61 91.41L102.51 91.41M99.59 89.72L101.53 93.09M101.53 89.72L99.59 93.09" stroke="#4a8af5" stroke-width="0.75" fill="none"/>
<path d="M116.25 95.94L120.15 95.94M117.23 94.25L119.17 97.62M119.17 94.25L117.23 97.62" stroke="#4a8af5" stroke-width="0.75" fill="none"/>
<path d="M133.89 101.37L137.79 101.37M134.87 99.68L136.81 103.06M136.81 99.68L134.87 103.06" stroke="#4a8af5" stroke-width="0.75" fill="none"/>
<path d="M151.53 113.15L155.43 113.15M152.51 111.46L154.46 114.84M154.46 111.46L152.51 114.84" stroke="#4a8af5" stroke-width="0.75" fill="none"/>
<path d="M169.17 122.36L173.07 122.36M170.15 120.67L172.09 124.05M172.09 120.67L170.15 124.05" stroke="#4a8af5" stroke-width="0.75" fill="none"/>
<path d="M186.81 129.31L190.71 129.31M187.78 127.62L189.73 130.99M189.73 127.62L187.78 130.99" stroke="#4a8af5" stroke-width="0.75" fill="none"/>
<path d="M204.45 134.44L208.35 134.44M205.43 132.75L207.38 136.13M207.38 132.75L205.43 136.13" stroke="#4a8af5" stroke-width="0.75" fill="none"/>
<path d="M222.09 136.40L225.99 136.40M223.06 134.71L225.01 138.09M225.01 134.71L223.06 138.09" stroke="#4a8af5" stroke-width="0.75" fill="none"/>
<path d="M239.73 137.61L243.63 137.61M240.71 135.92L242.66 139.30M242.66 135.92L240.71 139.30" stroke="#4a8af5" stroke-width="0.75" fill="none"/>
<path d="M28.05 43.54L31.95 43.54M29.02 41.85L30.98 45.23M30.98 41.85L29.02 45.23" stroke="#30b078" stroke-width="0.75" fill="none"/>
<path d="M45.69 53.96L49.59 53.96M46.66 52.27L48.62 55.65M48.62 52.27L46.66 55.65" stroke="#30b078" stroke-width="0.75" fill="none"/>
<path d="M63.33 66.19L67.23 66.19M64.31 64.50L66.25 67.88M66.25 64.50L64.31 67.88" stroke="#30b078" stroke-width="0.75" fill="none"/>
<path d="M80.97 73.28L84.87 73.28M81.95 71.60L83.89 74.97M83.89 71.60L81.95 74.97" stroke="#30b078" stroke-width="0.75" fill="none"/>
<path d="M98.61 77.66L102.51 77.66M99.59 75.98L101.53 79.35M101.53 75.98L99.59 79.35" stroke="#30b078" stroke-width="0.75" fill="none"/>
<path d="M116.25 83.10L120.15 83.10M117.23 81.41L119.17 84.79M119.17 81.41L117.23 84.79" stroke="#30b078" stroke-width="0.75" fill="none"/>
<path d="M133.89 89.44L137.79 89.44M134.87 87.75L136.81 91.13M136.81 87.75L134.87 91.13" stroke="#30b078" stroke-width="0.75" fill="none"/>
<path d="M151.53 101.97L155.43 101.97M152.51 100.29L154.46 103.66M154.46 100.29L152.51 103.66" stroke="#30b078" stroke-width="0.75" fill="none"/>
<path d="M169.17 113.30L173.07 113.30M170.15 111.61L172.09 114.99M172.09 111.61L170.15 114.99" stroke="#30b078" stroke-width="0.75" fill="none"/>
<path d="M186.81 123.42L190.71 123.42M187.78 121.73L189.73 125.11M189.73 121.73L187.78 125.11" stroke="#30b078" stroke-width="0.75" fill="none"/>
<path d="M204.45 128.55L208.35 128.55M205.43 126.86L207.38 130.24M207.38 126.86L205.43 130.24" stroke="#30b078" stroke-width="0.75" fill="none"/>
<path d="M222.09 130.51L225.99 130.51M223.06 128.83L225.01 132.20M225.01 128.83L223.06 132.20" stroke="#30b078" stroke-width="0.75" fill="none"/>
<path d="M239.73 131.72L243.63 131.72M240.71 130.03L242.66 133.41M242.66 130.03L240.71 133.41" stroke="#30b078" stroke-width="0.75" fill="none"/>
<path d="M28.05 40.97L31.95 40.97M29.02 39.28L30.98 42.66M30.98 39.28L29.02 42.66" stroke="#bc80f5" stroke-width="0.75" fill="none"/>
<path d="M45.69 52.45L49.59 52.45M46.66 50.76L48.62 54.14M48.62 50.76L46.66 54.14" stroke="#bc80f5" stroke-width="0.75" fill="none"/>
<path d="M63.33 62.56L67.23 62.56M64.31 60.88L66.25 64.25M66.25 60.88L64.31 64.25" stroke="#bc80f5" stroke-width="0.75" fill="none"/>
<path d="M80.97 70.27L84.87 70.27M81.95 68.58L83.89 71.95M83.89 68.58L81.95 71.95" stroke="#bc80f5" stroke-width="0.75" fill="none"/>
<path d="M98.61 74.79L102.51 74.79M99.59 73.11L101.53 76.48M101.53 73.11L99.59 76.48" stroke="#bc80f5" stroke-width="0.75" fill="none"/>
<path d="M116.25 79.32L120.15 79.32M117.23 77.64L119.17 81.01M119.17 77.64L117.23 81.01" stroke="#bc80f5" stroke-width="0.75" fill="none"/>
<path d="M133.89 86.57L137.79 86.57M134.87 84.88L136.81 88.26M136.81 84.88L134.87 88.26" stroke="#bc80f5" stroke-width="0.75" fill="none"/>
<path d="M151.53 98.20L155.43 98.20M152.51 96.51L154.46 99.89M154.46 96.51L152.51 99.89" stroke="#bc80f5" stroke-width="0.75" fill="none"/>
<path d="M169.17 114.51L173.07 114.51M170.15 112.82L172.09 116.20M172.09 112.82L170.15 116.20" stroke="#bc80f5" stroke-width="0.75" fill="none"/>
<path d="M186.81 134.14L190.71 134.14M187.78 132.45L189.73 135.83M189.73 132.45L187.78 135.83" stroke="#bc80f5" stroke-width="0.75" fill="none"/>
<path d="M204.45 145.76L208.35 145.76M205.43 144.08L207.38 147.45M207.38 144.08L205.43 147.45" stroke="#bc80f5" stroke-width="0.75" fill="none"/>
<path d="M222.09 148.03L225.99 148.03M223.06 146.34L225.01 149.72M225.01 146.34L223.06 149.72" stroke="#bc80f5" stroke-width="0.75" fill="none"/>
<path d="M239.73 149.09L243.63 149.09M240.71 147.40L242.66 150.78M242.66 147.40L240.71 150.78" stroke="#bc80f5" stroke-width="0.75" fill="none"/>
<path d="M28.05 35.53L31.95 35.53M29.02 33.85L30.98 37.22M30.98 33.85L29.02 37.22" stroke="#e6ad3a" stroke-width="0.75" fill="none"/>
<path d="M45.69 50.63L49.59 50.63M46.66 48.95L48.62 52.32M48.62 48.95L46.66 52.32" stroke="#e6ad3a" stroke-width="0.75" fill="none"/>
<path d="M63.33 59.24L67.23 59.24M64.31 57.55L66.25 60.93M66.25 57.55L64.31 60.93" stroke="#e6ad3a" stroke-width="0.75" fill="none"/>
<path d="M80.97 67.24L84.87 67.24M81.95 65.56L83.89 68.93M83.89 65.56L81.95 68.93" stroke="#e6ad3a" stroke-width="0.75" fill="none"/>
<path d="M98.61 71.77L102.51 71.77M99.59 70.09L101.53 73.46M101.53 70.09L99.59 73.46" stroke="#e6ad3a" stroke-width="0.75" fill="none"/>
<path d="M116.25 76.30L120.15 76.30M117.23 74.62L119.17 77.99M119.17 74.62L117.23 77.99" stroke="#e6ad3a" stroke-width="0.75" fill="none"/>
<path d="M133.89 84.31L137.79 84.31M134.87 82.62L136.81 86.00M136.81 82.62L134.87 86.00" stroke="#e6ad3a" stroke-width="0.75" fill="none"/>
<path d="M151.53 95.94L155.43 95.94M152.51 94.25L154.46 97.62M154.46 94.25L152.51 97.62" stroke="#e6ad3a" stroke-width="0.75" fill="none"/>
<path d="M169.17 125.23L173.07 125.23M170.15 123.54L172.09 126.92M172.09 123.54L170.15 126.92" stroke="#e6ad3a" stroke-width="0.75" fill="none"/>
<path d="M186.81 140.63L190.71 140.63M187.78 138.94L189.73 142.32M189.73 138.94L187.78 142.32" stroke="#e6ad3a" stroke-width="0.75" fill="none"/>
<path d="M204.45 147.43L208.35 147.43M205.43 145.74L207.38 149.11M207.38 145.74L205.43 149.11" stroke="#e6ad3a" stroke-width="0.75" fill="none"/>
<path d="M222.09 150.14L225.99 150.14M223.06 148.46L225.01 151.83M225.01 148.46L223.06 151.83" stroke="#e6ad3a" stroke-width="0.75" fill="none"/>
<path d="M239.73 151.65L243.63 151.65M240.71 149.97L242.66 153.34M242.66 149.97L240.71 153.34" stroke="#e6ad3a" stroke-width="0.75" fill="none"/>
<rect x="28.73" y="113.38" width="2.55" height="2.55" fill="#606060"/><path d="M30.00 112.48V116.83" stroke="#606060" stroke-width="0.7"/>
<rect x="46.37" y="119.42" width="2.55" height="2.55" fill="#606060"/><path d="M47.64 118.52V122.87" stroke="#606060" stroke-width="0.7"/>
<rect x="64.00" y="125.31" width="2.55" height="2.55" fill="#606060"/><path d="M65.28 124.41V128.76" stroke="#606060" stroke-width="0.7"/>
<rect x="81.64" y="130.14" width="2.55" height="2.55" fill="#606060"/><path d="M82.92 129.24V133.59" stroke="#606060" stroke-width="0.7"/>
<rect x="99.28" y="133.77" width="2.55" height="2.55" fill="#606060"/><path d="M100.56 132.87V137.22" stroke="#606060" stroke-width="0.7"/>
<rect x="116.92" y="137.09" width="2.55" height="2.55" fill="#606060"/><path d="M118.20 136.19V140.54" stroke="#606060" stroke-width="0.7"/>
<rect x="134.56" y="140.26" width="2.55" height="2.55" fill="#606060"/><path d="M135.84 139.36V143.71" stroke="#606060" stroke-width="0.7"/>
<rect x="152.21" y="146.91" width="2.55" height="2.55" fill="#606060"/><path d="M153.48 146.01V150.36" stroke="#606060" stroke-width="0.7"/>
<rect x="169.84" y="150.83" width="2.55" height="2.55" fill="#606060"/><path d="M171.12 149.93V154.28" stroke="#606060" stroke-width="0.7"/>
<rect x="187.48" y="153.10" width="2.55" height="2.55" fill="#606060"/><path d="M188.76 152.20V156.55" stroke="#606060" stroke-width="0.7"/>
<rect x="205.12" y="154.15" width="2.55" height="2.55" fill="#606060"/><path d="M206.40 153.25V157.60" stroke="#606060" stroke-width="0.7"/>
<rect x="222.76" y="154.46" width="2.55" height="2.55" fill="#606060"/><path d="M224.04 153.56V157.91" stroke="#606060" stroke-width="0.7"/>
<rect x="240.41" y="154.61" width="2.55" height="2.55" fill="#606060"/><path d="M241.68 153.71V158.06" stroke="#606060" stroke-width="0.7"/>
<polygon points="31.95,107.71 29.02,109.40 29.02,106.02" fill="#ff6868"/><path d="M29.80 105.54V109.89" stroke="#ff6868" stroke-width="0.7"/>
<polygon points="49.59,114.66 46.66,116.35 46.66,112.97" fill="#ff6868"/><path d="M47.44 112.48V116.83" stroke="#ff6868" stroke-width="0.7"/>
<polygon points="67.23,120.70 64.31,122.39 64.31,119.01" fill="#ff6868"/><path d="M65.08 118.52V122.87" stroke="#ff6868" stroke-width="0.7"/>
<polygon points="84.87,125.23 81.95,126.92 81.95,123.54" fill="#ff6868"/><path d="M82.72 123.05V127.40" stroke="#ff6868" stroke-width="0.7"/>
<polygon points="102.51,129.16 99.59,130.84 99.59,127.47" fill="#ff6868"/><path d="M100.36 126.98V131.33" stroke="#ff6868" stroke-width="0.7"/>
<polygon points="120.15,131.87 117.23,133.56 117.23,130.18" fill="#ff6868"/><path d="M118.00 129.70V134.05" stroke="#ff6868" stroke-width="0.7"/>
<polygon points="137.79,134.89 134.87,136.58 134.87,133.20" fill="#ff6868"/><path d="M135.64 132.72V137.07" stroke="#ff6868" stroke-width="0.7"/>
<polygon points="155.43,141.23 152.51,142.92 152.51,139.55" fill="#ff6868"/><path d="M153.28 139.06V143.41" stroke="#ff6868" stroke-width="0.7"/>
<polygon points="173.07,145.16 170.15,146.85 170.15,143.47" fill="#ff6868"/><path d="M170.92 142.99V147.34" stroke="#ff6868" stroke-width="0.7"/>
<polygon points="190.71,147.43 187.78,149.11 187.78,145.74" fill="#ff6868"/><path d="M188.56 145.25V149.60" stroke="#ff6868" stroke-width="0.7"/>
<polygon points="208.35,151.20 205.43,152.89 205.43,149.51" fill="#ff6868"/><path d="M206.20 149.03V153.38" stroke="#ff6868" stroke-width="0.7"/>
<polygon points="225.99,152.41 223.06,154.10 223.06,150.72" fill="#ff6868"/><path d="M223.84 150.23V154.58" stroke="#ff6868" stroke-width="0.7"/>
<polygon points="243.63,153.01 240.71,154.70 240.71,151.32" fill="#ff6868"/><path d="M241.48 150.84V155.19" stroke="#ff6868" stroke-width="0.7"/>
<polygon points="30.00,67.11 31.69,70.03 28.31,70.03" fill="#4a8af5"/><path d="M29.80 66.88V71.23" stroke="#4a8af5" stroke-width="0.7"/>
<polygon points="47.64,78.28 49.33,81.21 45.95,81.21" fill="#4a8af5"/><path d="M47.44 78.06V82.41" stroke="#4a8af5" stroke-width="0.7"/>
<polygon points="65.28,87.49 66.97,90.42 63.59,90.42" fill="#4a8af5"/><path d="M65.08 87.27V91.62" stroke="#4a8af5" stroke-width="0.7"/>
<polygon points="82.92,95.04 84.61,97.97 81.23,97.97" fill="#4a8af5"/><path d="M82.72 94.82V99.17" stroke="#4a8af5" stroke-width="0.7"/>
<polygon points="100.56,100.33 102.25,103.25 98.87,103.25" fill="#4a8af5"/><path d="M100.36 100.10V104.45" stroke="#4a8af5" stroke-width="0.7"/>
<polygon points="118.20,106.37 119.89,109.29 116.51,109.29" fill="#4a8af5"/><path d="M118.00 106.14V110.49" stroke="#4a8af5" stroke-width="0.7"/>
<polygon points="135.84,113.46 137.53,116.39 134.15,116.39" fill="#4a8af5"/><path d="M135.64 113.24V117.59" stroke="#4a8af5" stroke-width="0.7"/>
<polygon points="153.48,126.00 155.17,128.92 151.79,128.92" fill="#4a8af5"/><path d="M153.28 125.77V130.12" stroke="#4a8af5" stroke-width="0.7"/>
<polygon points="171.12,139.44 172.81,142.36 169.43,142.36" fill="#4a8af5"/><path d="M170.92 139.21V143.56" stroke="#4a8af5" stroke-width="0.7"/>
<polygon points="188.76,146.68 190.45,149.61 187.07,149.61" fill="#4a8af5"/><path d="M188.56 146.46V150.81" stroke="#4a8af5" stroke-width="0.7"/>
<polygon points="206.40,151.67 208.09,154.59 204.71,154.59" fill="#4a8af5"/><path d="M206.20 151.44V155.79" stroke="#4a8af5" stroke-width="0.7"/>
<polygon points="224.04,152.72 225.73,155.65 222.35,155.65" fill="#4a8af5"/><path d="M223.84 152.50V156.85" stroke="#4a8af5" stroke-width="0.7"/>
<polygon points="241.68,153.33 243.37,156.25 239.99,156.25" fill="#4a8af5"/><path d="M241.48 153.10V157.45" stroke="#4a8af5" stroke-width="0.7"/>
<polygon points="30.00,40.50 28.31,37.58 31.69,37.58" fill="#30b078"/><path d="M29.80 36.38V40.73" stroke="#30b078" stroke-width="0.7"/>
<polygon points="47.64,52.74 45.95,49.81 49.33,49.81" fill="#30b078"/><path d="M47.44 48.61V52.96" stroke="#30b078" stroke-width="0.7"/>
<polygon points="65.28,62.85 63.59,59.93 66.97,59.93" fill="#30b078"/><path d="M65.08 58.73V63.08" stroke="#30b078" stroke-width="0.7"/>
<polygon points="82.92,69.95 81.23,67.03 84.61,67.03" fill="#30b078"/><path d="M82.72 65.83V70.17" stroke="#30b078" stroke-width="0.7"/>
<polygon points="100.56,74.63 98.87,71.71 102.25,71.71" fill="#30b078"/><path d="M100.36 70.51V74.86" stroke="#30b078" stroke-width="0.7"/>
<polygon points="118.20,79.01 116.51,76.08 119.89,76.08" fill="#30b078"/><path d="M118.00 74.88V79.23" stroke="#30b078" stroke-width="0.7"/>
<polygon points="135.84,86.56 134.15,83.64 137.53,83.64" fill="#30b078"/><path d="M135.64 82.44V86.78" stroke="#30b078" stroke-width="0.7"/>
<polygon points="153.48,99.55 151.79,96.62 155.17,96.62" fill="#30b078"/><path d="M153.28 95.42V99.77" stroke="#30b078" stroke-width="0.7"/>
<polygon points="171.12,119.78 169.43,116.85 172.81,116.85" fill="#30b078"/><path d="M170.92 115.65V120.00" stroke="#30b078" stroke-width="0.7"/>
<polygon points="188.76,135.48 187.07,132.56 190.45,132.56" fill="#30b078"/><path d="M188.56 131.36V135.71" stroke="#30b078" stroke-width="0.7"/>
<polygon points="206.40,140.92 204.71,138.00 208.09,138.00" fill="#30b078"/><path d="M206.20 136.79V141.15" stroke="#30b078" stroke-width="0.7"/>
<polygon points="224.04,143.18 222.35,140.26 225.73,140.26" fill="#30b078"/><path d="M223.84 139.06V143.41" stroke="#30b078" stroke-width="0.7"/>
<polygon points="241.68,143.94 239.99,141.02 243.37,141.02" fill="#30b078"/><path d="M241.48 139.81V144.17" stroke="#30b078" stroke-width="0.7"/>
<polygon points="31.95,42.78 29.02,44.47 29.02,41.09" fill="#bc80f5"/><path d="M29.80 40.61V44.96" stroke="#bc80f5" stroke-width="0.7"/>
<polygon points="49.59,55.62 46.66,57.31 46.66,53.93" fill="#bc80f5"/><path d="M47.44 53.44V57.79" stroke="#bc80f5" stroke-width="0.7"/>
<polygon points="67.23,65.89 64.31,67.57 64.31,64.20" fill="#bc80f5"/><path d="M65.08 63.71V68.06" stroke="#bc80f5" stroke-width="0.7"/>
<polygon points="84.87,72.83 81.95,74.52 81.95,71.14" fill="#bc80f5"/><path d="M82.72 70.66V75.01" stroke="#bc80f5" stroke-width="0.7"/>
<polygon points="102.51,78.42 99.59,80.11 99.59,76.73" fill="#bc80f5"/><path d="M100.36 76.24V80.59" stroke="#bc80f5" stroke-width="0.7"/>
<polygon points="120.15,83.10 117.23,84.79 117.23,81.41" fill="#bc80f5"/><path d="M118.00 80.92V85.27" stroke="#bc80f5" stroke-width="0.7"/>
<polygon points="137.79,89.59 134.87,91.28 134.87,87.90" fill="#bc80f5"/><path d="M135.64 87.42V91.77" stroke="#bc80f5" stroke-width="0.7"/>
<polygon points="155.43,101.22 152.51,102.91 152.51,99.53" fill="#bc80f5"/><path d="M153.28 99.05V103.39" stroke="#bc80f5" stroke-width="0.7"/>
<polygon points="173.07,120.85 170.15,122.54 170.15,119.16" fill="#bc80f5"/><path d="M170.92 118.67V123.02" stroke="#bc80f5" stroke-width="0.7"/>
<polygon points="190.71,136.70 187.78,138.39 187.78,135.02" fill="#bc80f5"/><path d="M188.56 134.53V138.88" stroke="#bc80f5" stroke-width="0.7"/>
<polygon points="208.35,146.67 205.43,148.36 205.43,144.98" fill="#bc80f5"/><path d="M206.20 144.50V148.85" stroke="#bc80f5" stroke-width="0.7"/>
<polygon points="225.99,149.84 223.06,151.53 223.06,148.15" fill="#bc80f5"/><path d="M223.84 147.67V152.02" stroke="#bc80f5" stroke-width="0.7"/>
<polygon points="243.63,151.05 240.71,152.74 240.71,149.36" fill="#bc80f5"/><path d="M241.48 148.87V153.22" stroke="#bc80f5" stroke-width="0.7"/>
<path d="M28.80 32.83H31.20M30.00 32.83V37.33M28.80 37.33H31.20" stroke="#e6ad3a" stroke-width="0.8" fill="none"/><rect x="29.15" y="33.73" width="1.7" height="2.70" fill="#e6ad3a"/>
<path d="M46.44 45.82H48.84M47.64 45.82V50.32M46.44 50.32H48.84" stroke="#e6ad3a" stroke-width="0.8" fill="none"/><rect x="46.79" y="46.72" width="1.7" height="2.70" fill="#e6ad3a"/>
<path d="M64.08 55.63H66.48M65.28 55.63V60.13M64.08 60.13H66.48" stroke="#e6ad3a" stroke-width="0.8" fill="none"/><rect x="64.43" y="56.53" width="1.7" height="2.70" fill="#e6ad3a"/>
<path d="M81.72 63.64H84.12M82.92 63.64V68.14M81.72 68.14H84.12" stroke="#e6ad3a" stroke-width="0.8" fill="none"/><rect x="82.07" y="64.54" width="1.7" height="2.70" fill="#e6ad3a"/>
<path d="M99.36 68.02H101.76M100.56 68.02V72.52M99.36 72.52H101.76" stroke="#e6ad3a" stroke-width="0.8" fill="none"/><rect x="99.71" y="68.92" width="1.7" height="2.70" fill="#e6ad3a"/>
<path d="M117.00 72.70H119.40M118.20 72.70V77.20M117.00 77.20H119.40" stroke="#e6ad3a" stroke-width="0.8" fill="none"/><rect x="117.35" y="73.60" width="1.7" height="2.70" fill="#e6ad3a"/>
<path d="M134.64 80.85H137.04M135.84 80.85V85.35M134.64 85.35H137.04" stroke="#e6ad3a" stroke-width="0.8" fill="none"/><rect x="134.99" y="81.75" width="1.7" height="2.70" fill="#e6ad3a"/>
<path d="M152.28 96.25H154.68M153.48 96.25V100.75M152.28 100.75H154.68" stroke="#e6ad3a" stroke-width="0.8" fill="none"/><rect x="152.63" y="97.15" width="1.7" height="2.70" fill="#e6ad3a"/>
<path d="M169.92 116.33H172.32M171.12 116.33V120.83M169.92 120.83H172.32" stroke="#e6ad3a" stroke-width="0.8" fill="none"/><rect x="170.27" y="117.23" width="1.7" height="2.70" fill="#e6ad3a"/>
<path d="M187.56 133.70H189.96M188.76 133.70V138.20M187.56 138.20H189.96" stroke="#e6ad3a" stroke-width="0.8" fill="none"/><rect x="187.91" y="134.60" width="1.7" height="2.70" fill="#e6ad3a"/>
<path d="M205.20 144.42H207.60M206.40 144.42V148.92M205.20 148.92H207.60" stroke="#e6ad3a" stroke-width="0.8" fill="none"/><rect x="205.55" y="145.32" width="1.7" height="2.70" fill="#e6ad3a"/>
<path d="M222.84 147.14H225.24M224.04 147.14V151.64M222.84 151.64H225.24" stroke="#e6ad3a" stroke-width="0.8" fill="none"/><rect x="223.19" y="148.04" width="1.7" height="2.70" fill="#e6ad3a"/>
<path d="M240.48 148.04H242.88M241.68 148.04V152.54M240.48 152.54H242.88" stroke="#e6ad3a" stroke-width="0.8" fill="none"/><rect x="240.83" y="148.94" width="1.7" height="2.70" fill="#e6ad3a"/>
<polyline points="30.00,158.60 47.64,158.28 65.28,157.52 82.92,156.44 100.56,154.82 118.20,149.97 135.84,133.25 153.48,104.67 171.12,88.49 188.76,82.56 206.40,80.19 224.04,79.43 241.68,78.79" fill="none" stroke="#ff4646" stroke-width="1"/>
<path d="M28.50 157.10L31.50 160.10M28.50 160.10L31.50 157.10" stroke="#ff4646" stroke-width="0.6" fill="none"/>
<path d="M46.14 156.78L49.14 159.78M46.14 159.78L49.14 156.78" stroke="#ff4646" stroke-width="0.6" fill="none"/>
<path d="M63.78 156.02L66.78 159.02M63.78 159.02L66.78 156.02" stroke="#ff4646" stroke-width="0.6" fill="none"/>
<path d="M81.42 154.94L84.42 157.94M81.42 157.94L84.42 154.94" stroke="#ff4646" stroke-width="0.6" fill="none"/>
<path d="M99.06 153.32L102.06 156.32M99.06 156.32L102.06 153.32" stroke="#ff4646" stroke-width="0.6" fill="none"/>
<path d="M116.70 148.47L119.70 151.47M116.70 151.47L119.70 148.47" stroke="#ff4646" stroke-width="0.6" fill="none"/>
<path d="M134.34 131.75L137.34 134.75M134.34 134.75L137.34 131.75" stroke="#ff4646" stroke-width="0.6" fill="none"/>
<path d="M151.98 103.17L154.98 106.17M151.98 106.17L154.98 103.17" stroke="#ff4646" stroke-width="0.6" fill="none"/>
<path d="M169.62 86.99L172.62 89.99M169.62 89.99L172.62 86.99" stroke="#ff4646" stroke-width="0.6" fill="none"/>
<path d="M187.26 81.06L190.26 84.06M187.26 84.06L190.26 81.06" stroke="#ff4646" stroke-width="0.6" fill="none"/>
<path d="M204.90 78.69L207.90 81.69M204.90 81.69L207.90 78.69" stroke="#ff4646" stroke-width="0.6" fill="none"/>
<path d="M222.54 77.93L225.54 80.93M222.54 80.93L225.54 77.93" stroke="#ff4646" stroke-width="0.6" fill="none"/>
<path d="M240.18 77.29L243.18 80.29M240.18 80.29L243.18 77.29" stroke="#ff4646" stroke-width="0.6" fill="none"/>
</g>
<path d="M101.8 12.3H117.8" stroke="#ff4646" stroke-width="1.2"/>
<path d="M108.30 10.80L111.30 13.80M108.30 13.80L111.30 10.80" stroke="#ff4646" stroke-width="0.6" fill="none"/>
<text x="120.00" y="14.80" font-size="7.30" text-anchor="start" fill="#333" stroke="#333" font-weight="normal" >Coal fines content/%</text>
<path d="M101.80 21.30H115.40" stroke="#777" stroke-width="1.00" stroke-opacity="0.8" />
<circle cx="108.60" cy="21.30" r="1.6" fill="#1e1e1e"/>
<text x="121.00" y="23.80" font-size="7.30" text-anchor="start" fill="#333" stroke="#333" font-weight="normal" >1:1:1</text>
<path d="M138.80 21.30H154.60" stroke="#909090" stroke-width="1.00" stroke-opacity="0.8" />
<circle cx="146.70" cy="21.30" r="2.10" fill="#fff" stroke="#909090" stroke-width="0.5" stroke-opacity="0.75"/>
<text x="156.80" y="23.80" font-size="7.30" text-anchor="start" fill="#333" stroke="#333" font-weight="normal" >1:1:3</text>
<path d="M138.80 30.25H154.60" stroke="#ff6868" stroke-width="1.00" stroke-opacity="0.8" />
<circle cx="146.70" cy="30.25" r="2.10" fill="#fff" stroke="#ff6868" stroke-width="0.5" stroke-opacity="0.75"/>
<text x="156.80" y="32.75" font-size="7.30" text-anchor="start" fill="#333" stroke="#333" font-weight="normal" >1:1:5</text>
<path d="M138.80 39.20H154.60" stroke="#4a8af5" stroke-width="1.00" stroke-opacity="0.8" />
<circle cx="146.70" cy="39.20" r="2.10" fill="#fff" stroke="#4a8af5" stroke-width="0.5" stroke-opacity="0.75"/>
<text x="156.80" y="41.70" font-size="7.30" text-anchor="start" fill="#333" stroke="#333" font-weight="normal" >1:3:1</text>
<path d="M138.80 48.15H154.60" stroke="#30b078" stroke-width="1.00" stroke-opacity="0.8" />
<circle cx="146.70" cy="48.15" r="2.10" fill="#fff" stroke="#30b078" stroke-width="0.5" stroke-opacity="0.75"/>
<text x="156.80" y="50.65" font-size="7.30" text-anchor="start" fill="#333" stroke="#333" font-weight="normal" >1:5:1</text>
<path d="M138.80 57.10H154.60" stroke="#bc80f5" stroke-width="1.00" stroke-opacity="0.8" />
<circle cx="146.70" cy="57.10" r="2.10" fill="#fff" stroke="#bc80f5" stroke-width="0.5" stroke-opacity="0.75"/>
<text x="156.80" y="59.60" font-size="7.30" text-anchor="start" fill="#333" stroke="#333" font-weight="normal" >3:1:1</text>
<path d="M138.80 66.05H154.60" stroke="#e6ad3a" stroke-width="1.00" stroke-opacity="0.8" />
<circle cx="146.70" cy="66.05" r="2.10" fill="#fff" stroke="#e6ad3a" stroke-width="0.5" stroke-opacity="0.75"/>
<text x="156.80" y="68.55" font-size="7.30" text-anchor="start" fill="#333" stroke="#333" font-weight="normal" >5:1:1</text>
<path d="M174.60 21.30H190.60" stroke="#909090" stroke-width="1.00" stroke-opacity="0.8" stroke-dasharray="2.1 3.5"/>
<path d="M180.52 21.30L184.68 21.30M181.56 19.50L183.64 23.10M183.64 19.50L181.56 23.10" stroke="#909090" stroke-width="0.75" fill="none"/>
<text x="193.30" y="23.80" font-size="7.30" text-anchor="start" fill="#333" stroke="#333" font-weight="normal" >1:3:3</text>
<path d="M174.60 30.25H190.60" stroke="#ff6868" stroke-width="1.00" stroke-opacity="0.8" stroke-dasharray="2.1 3.5"/>
<path d="M180.52 30.25L184.68 30.25M181.56 28.45L183.64 32.05M183.64 28.45L181.56 32.05" stroke="#ff6868" stroke-width="0.75" fill="none"/>
<text x="193.30" y="32.75" font-size="7.30" text-anchor="start" fill="#333" stroke="#333" font-weight="normal" >1:5:5</text>
<path d="M174.60 39.20H190.60" stroke="#4a8af5" stroke-width="1.00" stroke-opacity="0.8" stroke-dasharray="2.1 3.5"/>
<path d="M180.52 39.20L184.68 39.20M181.56 37.40L183.64 41.00M183.64 37.40L181.56 41.00" stroke="#4a8af5" stroke-width="0.75" fill="none"/>
<text x="193.30" y="41.70" font-size="7.30" text-anchor="start" fill="#333" stroke="#333" font-weight="normal" >3:1:3</text>
<path d="M174.60 48.15H190.60" stroke="#30b078" stroke-width="1.00" stroke-opacity="0.8" stroke-dasharray="2.1 3.5"/>
<path d="M180.52 48.15L184.68 48.15M181.56 46.35L183.64 49.95M183.64 46.35L181.56 49.95" stroke="#30b078" stroke-width="0.75" fill="none"/>
<text x="193.30" y="50.65" font-size="7.30" text-anchor="start" fill="#333" stroke="#333" font-weight="normal" >5:1:5</text>
<path d="M174.60 57.10H190.60" stroke="#bc80f5" stroke-width="1.00" stroke-opacity="0.8" stroke-dasharray="2.1 3.5"/>
<path d="M180.52 57.10L184.68 57.10M181.56 55.30L183.64 58.90M183.64 55.30L181.56 58.90" stroke="#bc80f5" stroke-width="0.75" fill="none"/>
<text x="193.30" y="59.60" font-size="7.30" text-anchor="start" fill="#333" stroke="#333" font-weight="normal" >3:3:1</text>
<path d="M174.60 66.05H190.60" stroke="#e6ad3a" stroke-width="1.00" stroke-opacity="0.8" stroke-dasharray="2.1 3.5"/>
<path d="M180.52 66.05L184.68 66.05M181.56 64.25L183.64 67.85M183.64 64.25L181.56 67.85" stroke="#e6ad3a" stroke-width="0.75" fill="none"/>
<text x="193.30" y="68.55" font-size="7.30" text-anchor="start" fill="#333" stroke="#333" font-weight="normal" >5:5:1</text>
<path d="M211.80 21.30H228.20" stroke="#606060" stroke-width="1.00" stroke-opacity="0.8" stroke-dasharray="3.9 2.0 1.2 2.0"/>
<rect x="218.64" y="19.94" width="2.72" height="2.72" fill="#606060"/><path d="M220.00 18.98V23.62" stroke="#606060" stroke-width="0.7"/>
<text x="230.40" y="23.80" font-size="7.30" text-anchor="start" fill="#333" stroke="#333" font-weight="normal" >1:3:5</text>
<path d="M211.80 30.25H228.20" stroke="#ff6868" stroke-width="1.00" stroke-opacity="0.8" stroke-dasharray="3.9 2.0 1.2 2.0"/>
<polygon points="222.08,30.25 218.96,32.05 218.96,28.45" fill="#ff6868"/><path d="M219.80 27.93V32.57" stroke="#ff6868" stroke-width="0.7"/>
<text x="230.40" y="32.75" font-size="7.30" text-anchor="start" fill="#333" stroke="#333" font-weight="normal" >1:5:3</text>
<path d="M211.80 39.20H228.20" stroke="#4a8af5" stroke-width="1.00" stroke-opacity="0.8" stroke-dasharray="3.9 2.0 1.2 2.0"/>
<polygon points="220.00,37.12 221.80,40.24 218.20,40.24" fill="#4a8af5"/><path d="M219.80 36.88V41.52" stroke="#4a8af5" stroke-width="0.7"/>
<text x="230.40" y="41.70" font-size="7.30" text-anchor="start" fill="#333" stroke="#333" font-weight="normal" >3:1:5</text>
<path d="M211.80 48.15H228.20" stroke="#30b078" stroke-width="1.00" stroke-opacity="0.8" stroke-dasharray="3.9 2.0 1.2 2.0"/>
<polygon points="220.00,50.23 218.20,47.11 221.80,47.11" fill="#30b078"/><path d="M219.80 45.83V50.47" stroke="#30b078" stroke-width="0.7"/>
<text x="230.40" y="50.65" font-size="7.30" text-anchor="start" fill="#333" stroke="#333" font-weight="normal" >5:1:3</text>
<path d="M211.80 57.10H228.20" stroke="#bc80f5" stroke-width="1.00" stroke-opacity="0.8" stroke-dasharray="3.9 2.0 1.2 2.0"/>
<polygon points="222.08,57.10 218.96,58.90 218.96,55.30" fill="#bc80f5"/><path d="M219.80 54.78V59.42" stroke="#bc80f5" stroke-width="0.7"/>
<text x="230.40" y="59.60" font-size="7.30" text-anchor="start" fill="#333" stroke="#333" font-weight="normal" >3:5:1</text>
<path d="M211.80 66.05H228.20" stroke="#e6ad3a" stroke-width="1.00" stroke-opacity="0.8" stroke-dasharray="3.9 2.0 1.2 2.0"/>
<path d="M218.80 63.65H221.20M220.00 63.65V68.45M218.80 68.45H221.20" stroke="#e6ad3a" stroke-width="0.8" fill="none"/><rect x="219.15" y="64.61" width="1.7" height="2.88" fill="#e6ad3a"/>
<text x="230.40" y="68.55" font-size="7.30" text-anchor="start" fill="#333" stroke="#333" font-weight="normal" >5:3:1</text>
<text x="120.50" y="32.80" font-size="7.70" text-anchor="middle" fill="#4a4a4a" stroke="#4a4a4a" font-weight="normal" letter-spacing="0.2">Control</text>
<text x="120.90" y="39.70" font-size="7.70" text-anchor="middle" fill="#4a4a4a" stroke="#4a4a4a" font-weight="normal" letter-spacing="0.1">group</text>
<text x="158.00" y="76.20" font-size="7.50" text-anchor="middle" fill="#333" stroke="#333" font-weight="normal" >No.1</text>
<text x="193.30" y="76.20" font-size="7.50" text-anchor="middle" fill="#333" stroke="#333" font-weight="normal" >No.2</text>
<text x="229.60" y="76.20" font-size="7.50" text-anchor="middle" fill="#333" stroke="#333" font-weight="normal" >No.3</text>
<path d="M300.40 7.60H523.50" stroke="#555" stroke-width="1.0"/>
<path d="M303.00 158.60V161.40" stroke="#555" stroke-width="0.8"/>
<text transform="translate(303.00 168.10) scale(0.920 1)" font-size="6.70" text-anchor="middle" fill="#3a3a3a" stroke="#3a3a3a">0</text>
<path d="M310.35 158.60V160.10" stroke="#555" stroke-width="0.8"/>
<path d="M317.70 158.60V161.40" stroke="#555" stroke-width="0.8"/>
<text transform="translate(317.70 168.10) scale(0.920 1)" font-size="6.70" text-anchor="middle" fill="#3a3a3a" stroke="#3a3a3a">5</text>
<path d="M325.05 158.60V160.10" stroke="#555" stroke-width="0.8"/>
<path d="M332.40 158.60V161.40" stroke="#555" stroke-width="0.8"/>
<text transform="translate(332.40 168.10) scale(0.920 1)" font-size="6.70" text-anchor="middle" fill="#3a3a3a" stroke="#3a3a3a">10</text>
<path d="M339.75 158.60V160.10" stroke="#555" stroke-width="0.8"/>
<path d="M347.10 158.60V161.40" stroke="#555" stroke-width="0.8"/>
<text transform="translate(347.10 168.10) scale(0.920 1)" font-size="6.70" text-anchor="middle" fill="#3a3a3a" stroke="#3a3a3a">15</text>
<path d="M354.45 158.60V160.10" stroke="#555" stroke-width="0.8"/>
<path d="M361.80 158.60V161.40" stroke="#555" stroke-width="0.8"/>
<text transform="translate(361.80 168.10) scale(0.920 1)" font-size="6.70" text-anchor="middle" fill="#3a3a3a" stroke="#3a3a3a">20</text>
<path d="M369.15 158.60V160.10" stroke="#555" stroke-width="0.8"/>
<path d="M376.50 158.60V161.40" stroke="#555" stroke-width="0.8"/>
<text transform="translate(376.50 168.10) scale(0.920 1)" font-size="6.70" text-anchor="middle" fill="#3a3a3a" stroke="#3a3a3a">25</text>
<path d="M383.85 158.60V160.10" stroke="#555" stroke-width="0.8"/>
<path d="M391.20 158.60V161.40" stroke="#555" stroke-width="0.8"/>
<text transform="translate(391.20 168.10) scale(0.920 1)" font-size="6.70" text-anchor="middle" fill="#3a3a3a" stroke="#3a3a3a">30</text>
<path d="M398.55 158.60V160.10" stroke="#555" stroke-width="0.8"/>
<path d="M405.90 158.60V161.40" stroke="#555" stroke-width="0.8"/>
<text transform="translate(405.90 168.10) scale(0.920 1)" font-size="6.70" text-anchor="middle" fill="#3a3a3a" stroke="#3a3a3a">35</text>
<path d="M413.25 158.60V160.10" stroke="#555" stroke-width="0.8"/>
<path d="M420.60 158.60V161.40" stroke="#555" stroke-width="0.8"/>
<text transform="translate(420.60 168.10) scale(0.920 1)" font-size="6.70" text-anchor="middle" fill="#3a3a3a" stroke="#3a3a3a">40</text>
<path d="M427.95 158.60V160.10" stroke="#555" stroke-width="0.8"/>
<path d="M435.30 158.60V161.40" stroke="#555" stroke-width="0.8"/>
<text transform="translate(435.30 168.10) scale(0.920 1)" font-size="6.70" text-anchor="middle" fill="#3a3a3a" stroke="#3a3a3a">45</text>
<path d="M442.65 158.60V160.10" stroke="#555" stroke-width="0.8"/>
<path d="M450.00 158.60V161.40" stroke="#555" stroke-width="0.8"/>
<text transform="translate(450.00 168.10) scale(0.920 1)" font-size="6.70" text-anchor="middle" fill="#3a3a3a" stroke="#3a3a3a">50</text>
<path d="M457.35 158.60V160.10" stroke="#555" stroke-width="0.8"/>
<path d="M464.70 158.60V161.40" stroke="#555" stroke-width="0.8"/>
<text transform="translate(464.70 168.10) scale(0.920 1)" font-size="6.70" text-anchor="middle" fill="#3a3a3a" stroke="#3a3a3a">55</text>
<path d="M472.05 158.60V160.10" stroke="#555" stroke-width="0.8"/>
<path d="M479.40 158.60V161.40" stroke="#555" stroke-width="0.8"/>
<text transform="translate(479.40 168.10) scale(0.920 1)" font-size="6.70" text-anchor="middle" fill="#3a3a3a" stroke="#3a3a3a">60</text>
<path d="M486.75 158.60V160.10" stroke="#555" stroke-width="0.8"/>
<path d="M494.10 158.60V161.40" stroke="#555" stroke-width="0.8"/>
<text transform="translate(494.10 168.10) scale(0.920 1)" font-size="6.70" text-anchor="middle" fill="#3a3a3a" stroke="#3a3a3a">65</text>
<path d="M501.45 158.60V160.10" stroke="#555" stroke-width="0.8"/>
<path d="M508.80 158.60V161.40" stroke="#555" stroke-width="0.8"/>
<text transform="translate(508.80 168.10) scale(0.920 1)" font-size="6.70" text-anchor="middle" fill="#3a3a3a" stroke="#3a3a3a">70</text>
<path d="M516.15 158.60V160.10" stroke="#555" stroke-width="0.8"/>
<path d="M523.50 158.60V161.40" stroke="#555" stroke-width="0.8"/>
<text transform="translate(523.50 168.10) scale(0.920 1)" font-size="6.70" text-anchor="middle" fill="#3a3a3a" stroke="#3a3a3a">75</text>
<path d="M303.00 158.60H300.20" stroke="#555" stroke-width="0.8"/>
<text transform="translate(298.10 160.60) scale(0.920 1)" font-size="6.70" text-anchor="end" fill="#3a3a3a" stroke="#3a3a3a">0</text>
<path d="M303.00 147.81H301.50" stroke="#555" stroke-width="0.8"/>
<path d="M303.00 137.03H300.20" stroke="#555" stroke-width="0.8"/>
<text transform="translate(298.10 139.03) scale(0.920 1)" font-size="6.70" text-anchor="end" fill="#3a3a3a" stroke="#3a3a3a">20</text>
<path d="M303.00 126.24H301.50" stroke="#555" stroke-width="0.8"/>
<path d="M303.00 115.46H300.20" stroke="#555" stroke-width="0.8"/>
<text transform="translate(298.10 117.46) scale(0.920 1)" font-size="6.70" text-anchor="end" fill="#3a3a3a" stroke="#3a3a3a">40</text>
<path d="M303.00 104.67H301.50" stroke="#555" stroke-width="0.8"/>
<path d="M303.00 93.89H300.20" stroke="#555" stroke-width="0.8"/>
<text transform="translate(298.10 95.89) scale(0.920 1)" font-size="6.70" text-anchor="end" fill="#3a3a3a" stroke="#3a3a3a">60</text>
<path d="M303.00 83.10H301.50" stroke="#555" stroke-width="0.8"/>
<path d="M303.00 72.31H300.20" stroke="#555" stroke-width="0.8"/>
<text transform="translate(298.10 74.31) scale(0.920 1)" font-size="6.70" text-anchor="end" fill="#3a3a3a" stroke="#3a3a3a">80</text>
<path d="M303.00 61.53H301.50" stroke="#555" stroke-width="0.8"/>
<path d="M303.00 50.74H300.20" stroke="#555" stroke-width="0.8"/>
<text transform="translate(298.10 52.74) scale(0.920 1)" font-size="6.70" text-anchor="end" fill="#3a3a3a" stroke="#3a3a3a">100</text>
<path d="M303.00 39.96H301.50" stroke="#555" stroke-width="0.8"/>
<path d="M303.00 29.17H300.20" stroke="#555" stroke-width="0.8"/>
<text transform="translate(298.10 31.17) scale(0.920 1)" font-size="6.70" text-anchor="end" fill="#3a3a3a" stroke="#3a3a3a">120</text>
<path d="M303.00 18.39H301.50" stroke="#555" stroke-width="0.8"/>
<path d="M303.00 7.60H300.20" stroke="#555" stroke-width="0.8"/>
<text transform="translate(298.10 9.60) scale(0.920 1)" font-size="6.70" text-anchor="end" fill="#3a3a3a" stroke="#3a3a3a">140</text>
<path d="M523.50 158.60H526.70" stroke="#ff4646" stroke-width="0.9"/>
<text transform="translate(528.80 160.60) scale(0.920 1)" font-size="6.70" text-anchor="start" fill="#ff4646" stroke="#ff4646">0</text>
<path d="M523.50 151.05H525.40" stroke="#ff4646" stroke-width="0.9"/>
<path d="M523.50 143.50H526.70" stroke="#ff4646" stroke-width="0.9"/>
<text transform="translate(528.80 145.50) scale(0.920 1)" font-size="6.70" text-anchor="start" fill="#ff4646" stroke="#ff4646">1</text>
<path d="M523.50 135.95H525.40" stroke="#ff4646" stroke-width="0.9"/>
<path d="M523.50 128.40H526.70" stroke="#ff4646" stroke-width="0.9"/>
<text transform="translate(528.80 130.40) scale(0.920 1)" font-size="6.70" text-anchor="start" fill="#ff4646" stroke="#ff4646">2</text>
<path d="M523.50 120.85H525.40" stroke="#ff4646" stroke-width="0.9"/>
<path d="M523.50 113.30H526.70" stroke="#ff4646" stroke-width="0.9"/>
<text transform="translate(528.80 115.30) scale(0.920 1)" font-size="6.70" text-anchor="start" fill="#ff4646" stroke="#ff4646">3</text>
<path d="M523.50 105.75H525.40" stroke="#ff4646" stroke-width="0.9"/>
<path d="M523.50 98.20H526.70" stroke="#ff4646" stroke-width="0.9"/>
<text transform="translate(528.80 100.20) scale(0.920 1)" font-size="6.70" text-anchor="start" fill="#ff4646" stroke="#ff4646">4</text>
<path d="M523.50 90.65H525.40" stroke="#ff4646" stroke-width="0.9"/>
<path d="M523.50 83.10H526.70" stroke="#ff4646" stroke-width="0.9"/>
<text transform="translate(528.80 85.10) scale(0.920 1)" font-size="6.70" text-anchor="start" fill="#ff4646" stroke="#ff4646">5</text>
<path d="M523.50 75.55H525.40" stroke="#ff4646" stroke-width="0.9"/>
<path d="M523.50 68.00H526.70" stroke="#ff4646" stroke-width="0.9"/>
<text transform="translate(528.80 70.00) scale(0.920 1)" font-size="6.70" text-anchor="start" fill="#ff4646" stroke="#ff4646">6</text>
<path d="M523.50 60.45H525.40" stroke="#ff4646" stroke-width="0.9"/>
<path d="M523.50 52.90H526.70" stroke="#ff4646" stroke-width="0.9"/>
<text transform="translate(528.80 54.90) scale(0.920 1)" font-size="6.70" text-anchor="start" fill="#ff4646" stroke="#ff4646">7</text>
<path d="M523.50 45.35H525.40" stroke="#ff4646" stroke-width="0.9"/>
<path d="M523.50 37.80H526.70" stroke="#ff4646" stroke-width="0.9"/>
<text transform="translate(528.80 39.80) scale(0.920 1)" font-size="6.70" text-anchor="start" fill="#ff4646" stroke="#ff4646">8</text>
<path d="M523.50 30.25H525.40" stroke="#ff4646" stroke-width="0.9"/>
<path d="M523.50 22.70H526.70" stroke="#ff4646" stroke-width="0.9"/>
<text transform="translate(528.80 24.70) scale(0.920 1)" font-size="6.70" text-anchor="start" fill="#ff4646" stroke="#ff4646">9</text>
<path d="M523.50 15.15H525.40" stroke="#ff4646" stroke-width="0.9"/>
<path d="M523.50 7.60H526.70" stroke="#ff4646" stroke-width="0.9"/>
<text transform="translate(528.80 9.60) scale(0.920 1)" font-size="6.70" text-anchor="start" fill="#ff4646" stroke="#ff4646">10</text>
<path d="M303.00 7.60V158.60" stroke="#999999" stroke-width="1.4"/>
<path d="M523.50 7.60V158.60" stroke="#ff4646" stroke-width="1"/>
<path d="M302.30 158.70H523.50" stroke="#8e8e8e" stroke-width="1.6"/>
<defs><clipPath id="clipb"><rect x="303.00" y="7.60" width="220.50" height="152.00"/></clipPath></defs>
<g clip-path="url(#clipb)">
<polyline points="303.00,79.86 320.64,89.68 338.28,97.12 355.92,102.51 373.56,106.18 391.20,110.17 408.84,116.21 426.48,125.60 444.12,135.73 461.76,143.18 479.40,146.84 497.04,148.03 514.68,149.00" fill="none" stroke="#505050" stroke-width="1.00" />
<polyline points="303.00,119.77 320.64,124.30 338.28,128.62 355.92,132.17 373.56,134.44 391.20,136.92 408.84,141.77 426.48,147.49 444.12,152.24 461.76,153.85 479.40,154.29 497.04,155.15 514.68,155.58" fill="none" stroke="#909090" stroke-width="1.00" />
<polyline points="303.00,128.29 320.64,132.82 338.28,137.03 355.92,140.91 373.56,143.28 391.20,145.33 408.84,148.14 426.48,152.56 444.12,154.72 461.76,155.80 479.40,156.34 497.04,156.77 514.68,157.09" fill="none" stroke="#ff6868" stroke-width="1.00" />
<polyline points="303.00,100.90 320.64,107.91 338.28,115.03 355.92,120.09 373.56,124.09 391.20,127.54 408.84,132.61 426.48,142.75 444.12,149.32 461.76,152.88 479.40,153.85 497.04,154.29 514.68,154.93" fill="none" stroke="#4a8af5" stroke-width="1.00" />
<polyline points="303.00,110.17 320.64,116.86 338.28,123.55 355.92,127.75 373.56,130.56 391.20,134.12 408.84,139.83 426.48,146.41 444.12,151.48 461.76,153.64 479.40,154.29 497.04,154.93 514.68,155.26" fill="none" stroke="#30b078" stroke-width="1.00" />
<polyline points="303.00,68.00 320.64,78.46 338.28,84.93 355.92,89.89 373.56,93.13 391.20,96.04 408.84,101.76 426.48,111.68 444.12,126.78 461.76,142.75 479.40,147.92 497.04,149.22 514.68,150.08" fill="none" stroke="#bc80f5" stroke-width="1.00" />
<polyline points="303.00,64.22 320.64,73.82 338.28,81.05 355.92,85.58 373.56,88.92 391.20,92.59 408.84,97.55 426.48,107.15 444.12,125.16 461.76,142.42 479.40,148.46 497.04,149.97 514.68,151.16" fill="none" stroke="#e6ad3a" stroke-width="1.00" />
<rect x="301.62" y="78.48" width="2.76" height="2.76" fill="#1e1e1e"/>
<rect x="319.26" y="88.30" width="2.76" height="2.76" fill="#1e1e1e"/>
<rect x="336.90" y="95.74" width="2.76" height="2.76" fill="#1e1e1e"/>
<rect x="354.54" y="101.13" width="2.76" height="2.76" fill="#1e1e1e"/>
<rect x="372.18" y="104.80" width="2.76" height="2.76" fill="#1e1e1e"/>
<rect x="389.82" y="108.79" width="2.76" height="2.76" fill="#1e1e1e"/>
<rect x="407.46" y="114.83" width="2.76" height="2.76" fill="#1e1e1e"/>
<rect x="425.10" y="124.22" width="2.76" height="2.76" fill="#1e1e1e"/>
<rect x="442.74" y="134.35" width="2.76" height="2.76" fill="#1e1e1e"/>
<rect x="460.38" y="141.80" width="2.76" height="2.76" fill="#1e1e1e"/>
<rect x="478.02" y="145.46" width="2.76" height="2.76" fill="#1e1e1e"/>
<rect x="495.66" y="146.65" width="2.76" height="2.76" fill="#1e1e1e"/>
<rect x="513.30" y="147.62" width="2.76" height="2.76" fill="#1e1e1e"/>
<circle cx="303.00" cy="119.77" r="1.50" fill="#fff" stroke="#909090" stroke-width="0.5" stroke-opacity="0.75"/>
<circle cx="320.64" cy="124.30" r="1.50" fill="#fff" stroke="#909090" stroke-width="0.5" stroke-opacity="0.75"/>
<circle cx="338.28" cy="128.62" r="1.50" fill="#fff" stroke="#909090" stroke-width="0.5" stroke-opacity="0.75"/>
<circle cx="355.92" cy="132.17" r="1.50" fill="#fff" stroke="#909090" stroke-width="0.5" stroke-opacity="0.75"/>
<circle cx="373.56" cy="134.44" r="1.50" fill="#fff" stroke="#909090" stroke-width="0.5" stroke-opacity="0.75"/>
<circle cx="391.20" cy="136.92" r="1.50" fill="#fff" stroke="#909090" stroke-width="0.5" stroke-opacity="0.75"/>
<circle cx="408.84" cy="141.77" r="1.50" fill="#fff" stroke="#909090" stroke-width="0.5" stroke-opacity="0.75"/>
<circle cx="426.48" cy="147.49" r="1.50" fill="#fff" stroke="#909090" stroke-width="0.5" stroke-opacity="0.75"/>
<circle cx="444.12" cy="152.24" r="1.50" fill="#fff" stroke="#909090" stroke-width="0.5" stroke-opacity="0.75"/>
<circle cx="461.76" cy="153.85" r="1.50" fill="#fff" stroke="#909090" stroke-width="0.5" stroke-opacity="0.75"/>
<circle cx="479.40" cy="154.29" r="1.50" fill="#fff" stroke="#909090" stroke-width="0.5" stroke-opacity="0.75"/>
<circle cx="497.04" cy="155.15" r="1.50" fill="#fff" stroke="#909090" stroke-width="0.5" stroke-opacity="0.75"/>
<circle cx="514.68" cy="155.58" r="1.50" fill="#fff" stroke="#909090" stroke-width="0.5" stroke-opacity="0.75"/>
<circle cx="303.00" cy="128.29" r="1.50" fill="#fff" stroke="#ff6868" stroke-width="0.5" stroke-opacity="0.75"/>
<circle cx="320.64" cy="132.82" r="1.50" fill="#fff" stroke="#ff6868" stroke-width="0.5" stroke-opacity="0.75"/>
<circle cx="338.28" cy="137.03" r="1.50" fill="#fff" stroke="#ff6868" stroke-width="0.5" stroke-opacity="0.75"/>
<circle cx="355.92" cy="140.91" r="1.50" fill="#fff" stroke="#ff6868" stroke-width="0.5" stroke-opacity="0.75"/>
<circle cx="373.56" cy="143.28" r="1.50" fill="#fff" stroke="#ff6868" stroke-width="0.5" stroke-opacity="0.75"/>
<circle cx="391.20" cy="145.33" r="1.50" fill="#fff" stroke="#ff6868" stroke-width="0.5" stroke-opacity="0.75"/>
<circle cx="408.84" cy="148.14" r="1.50" fill="#fff" stroke="#ff6868" stroke-width="0.5" stroke-opacity="0.75"/>
<circle cx="426.48" cy="152.56" r="1.50" fill="#fff" stroke="#ff6868" stroke-width="0.5" stroke-opacity="0.75"/>
<circle cx="444.12" cy="154.72" r="1.50" fill="#fff" stroke="#ff6868" stroke-width="0.5" stroke-opacity="0.75"/>
<circle cx="461.76" cy="155.80" r="1.50" fill="#fff" stroke="#ff6868" stroke-width="0.5" stroke-opacity="0.75"/>
<circle cx="479.40" cy="156.34" r="1.50" fill="#fff" stroke="#ff6868" stroke-width="0.5" stroke-opacity="0.75"/>
<circle cx="497.04" cy="156.77" r="1.50" fill="#fff" stroke="#ff6868" stroke-width="0.5" stroke-opacity="0.75"/>
<circle cx="514.68" cy="157.09" r="1.50" fill="#fff" stroke="#ff6868" stroke-width="0.5" stroke-opacity="0.75"/>
<circle cx="303.00" cy="100.90" r="1.50" fill="#fff" stroke="#4a8af5" stroke-width="0.5" stroke-opacity="0.75"/>
<circle cx="320.64" cy="107.91" r="1.50" fill="#fff" stroke="#4a8af5" stroke-width="0.5" stroke-opacity="0.75"/>
<circle cx="338.28" cy="115.03" r="1.50" fill="#fff" stroke="#4a8af5" stroke-width="0.5" stroke-opacity="0.75"/>
<circle cx="355.92" cy="120.09" r="1.50" fill="#fff" stroke="#4a8af5" stroke-width="0.5" stroke-opacity="0.75"/>
<circle cx="373.56" cy="124.09" r="1.50" fill="#fff" stroke="#4a8af5" stroke-width="0.5" stroke-opacity="0.75"/>
<circle cx="391.20" cy="127.54" r="1.50" fill="#fff" stroke="#4a8af5" stroke-width="0.5" stroke-opacity="0.75"/>
<circle cx="408.84" cy="132.61" r="1.50" fill="#fff" stroke="#4a8af5" stroke-width="0.5" stroke-opacity="0.75"/>
<circle cx="426.48" cy="142.75" r="1.50" fill="#fff" stroke="#4a8af5" stroke-width="0.5" stroke-opacity="0.75"/>
<circle cx="444.12" cy="149.32" r="1.50" fill="#fff" stroke="#4a8af5" stroke-width="0.5" stroke-opacity="0.75"/>
<circle cx="461.76" cy="152.88" r="1.50" fill="#fff" stroke="#4a8af5" stroke-width="0.5" stroke-opacity="0.75"/>
<circle cx="479.40" cy="153.85" r="1.50" fill="#fff" stroke="#4a8af5" stroke-width="0.5" stroke-opacity="0.75"/>
<circle cx="497.04" cy="154.29" r="1.50" fill="#fff" stroke="#4a8af5" stroke-width="0.5" stroke-opacity="0.75"/>
<circle cx="514.68" cy="154.93" r="1.50" fill="#fff" stroke="#4a8af5" stroke-width="0.5" stroke-opacity="0.75"/>
<circle cx="303.00" cy="110.17" r="1.50" fill="#fff" stroke="#30b078" stroke-width="0.5" stroke-opacity="0.75"/>
<circle cx="320.64" cy="116.86" r="1.50" fill="#fff" stroke="#30b078" stroke-width="0.5" stroke-opacity="0.75"/>
<circle cx="338.28" cy="123.55" r="1.50" fill="#fff" stroke="#30b078" stroke-width="0.5" stroke-opacity="0.75"/>
<circle cx="355.92" cy="127.75" r="1.50" fill="#fff" stroke="#30b078" stroke-width="0.5" stroke-opacity="0.75"/>
<circle cx="373.56" cy="130.56" r="1.50" fill="#fff" stroke="#30b078" stroke-width="0.5" stroke-opacity="0.75"/>
<circle cx="391.20" cy="134.12" r="1.50" fill="#fff" stroke="#30b078" stroke-width="0.5" stroke-opacity="0.75"/>
<circle cx="408.84" cy="139.83" r="1.50" fill="#fff" stroke="#30b078" stroke-width="0.5" stroke-opacity="0.75"/>
<circle cx="426.48" cy="146.41" r="1.50" fill="#fff" stroke="#30b078" stroke-width="0.5" stroke-opacity="0.75"/>
<circle cx="444.12" cy="151.48" r="1.50" fill="#fff" stroke="#30b078" stroke-width="0.5" stroke-opacity="0.75"/>
<circle cx="461.76" cy="153.64" r="1.50" fill="#fff" stroke="#30b078" stroke-width="0.5" stroke-opacity="0.75"/>
<circle cx="479.40" cy="154.29" r="1.50" fill="#fff" stroke="#30b078" stroke-width="0.5" stroke-opacity="0.75"/>
<circle cx="497.04" cy="154.93" r="1.50" fill="#fff" stroke="#30b078" stroke-width="0.5" stroke-opacity="0.75"/>
<circle cx="514.68" cy="155.26" r="1.50" fill="#fff" stroke="#30b078" stroke-width="0.5" stroke-opacity="0.75"/>
<circle cx="303.00" cy="68.00" r="1.50" fill="#fff" stroke="#bc80f5" stroke-width="0.5" stroke-opacity="0.75"/>
<circle cx="320.64" cy="78.46" r="1.50" fill="#fff" stroke="#bc80f5" stroke-width="0.5" stroke-opacity="0.75"/>
<circle cx="338.28" cy="84.93" r="1.50" fill="#fff" stroke="#bc80f5" stroke-width="0.5" stroke-opacity="0.75"/>
<circle cx="355.92" cy="89.89" r="1.50" fill="#fff" stroke="#bc80f5" stroke-width="0.5" stroke-opacity="0.75"/>
<circle cx="373.56" cy="93.13" r="1.50" fill="#fff" stroke="#bc80f5" stroke-width="0.5" stroke-opacity="0.75"/>
<circle cx="391.20" cy="96.04" r="1.50" fill="#fff" stroke="#bc80f5" stroke-width="0.5" stroke-opacity="0.75"/>
<circle cx="408.84" cy="101.76" r="1.50" fill="#fff" stroke="#bc80f5" stroke-width="0.5" stroke-opacity="0.75"/>
<circle cx="426.48" cy="111.68" r="1.50" fill="#fff" stroke="#bc80f5" stroke-width="0.5" stroke-opacity="0.75"/>
<circle cx="444.12" cy="126.78" r="1.50" fill="#fff" stroke="#bc80f5" stroke-width="0.5" stroke-opacity="0.75"/>
<circle cx="461.76" cy="142.75" r="1.50" fill="#fff" stroke="#bc80f5" stroke-width="0.5" stroke-opacity="0.75"/>
<circle cx="479.40" cy="147.92" r="1.50" fill="#fff" stroke="#bc80f5" stroke-width="0.5" stroke-opacity="0.75"/>
<circle cx="497.04" cy="149.22" r="1.50" fill="#fff" stroke="#bc80f5" stroke-width="0.5" stroke-opacity="0.75"/>
<circle cx="514.68" cy="150.08" r="1.50" fill="#fff" stroke="#bc80f5" stroke-width="0.5" stroke-opacity="0.75"/>
<circle cx="303.00" cy="64.22" r="1.50" fill="#fff" stroke="#e6ad3a" stroke-width="0.5" stroke-opacity="0.75"/>
<circle cx="320.64" cy="73.82" r="1.50" fill="#fff" stroke="#e6ad3a" stroke-width="0.5" stroke-opacity="0.75"/>
<circle cx="338.28" cy="81.05" r="1.50" fill="#fff" stroke="#e6ad3a" stroke-width="0.5" stroke-opacity="0.75"/>
<circle cx="355.92" cy="85.58" r="1.50" fill="#fff" stroke="#e6ad3a" stroke-width="0.5" stroke-opacity="0.75"/>
<circle cx="373.56" cy="88.92" r="1.50" fill="#fff" stroke="#e6ad3a" stroke-width="0.5" stroke-opacity="0.75"/>
<circle cx="391.20" cy="92.59" r="1.50" fill="#fff" stroke="#e6ad3a" stroke-width="0.5" stroke-opacity="0.75"/>
<circle cx="408.84" cy="97.55" r="1.50" fill="#fff" stroke="#e6ad3a" stroke-width="0.5" stroke-opacity="0.75"/>
<circle cx="426.48" cy="107.15" r="1.50" fill="#fff" stroke="#e6ad3a" stroke-width="0.5" stroke-opacity="0.75"/>
<circle cx="444.12" cy="125.16" r="1.50" fill="#fff" stroke="#e6ad3a" stroke-width="0.5" stroke-opacity="0.75"/>
<circle cx="461.76" cy="142.42" r="1.50" fill="#fff" stroke="#e6ad3a" stroke-width="0.5" stroke-opacity="0.75"/>
<circle cx="479.40" cy="148.46" r="1.50" fill="#fff" stroke="#e6ad3a" stroke-width="0.5" stroke-opacity="0.75"/>
<circle cx="497.04" cy="149.97" r="1.50" fill="#fff" stroke="#e6ad3a" stroke-width="0.5" stroke-opacity="0.75"/>
<circle cx="514.68" cy="151.16" r="1.50" fill="#fff" stroke="#e6ad3a" stroke-width="0.5" stroke-opacity="0.75"/>
<rect x="478.20" y="145.60" width="37.40" height="12.00" fill="#ff8a8a" fill-opacity="0.45" stroke="#f79090" stroke-width="0.8"/>
<polyline points="303.00,158.60 320.64,158.15 338.28,157.09 355.92,155.58 373.56,153.31 391.20,146.52 408.84,123.11 426.48,83.10 444.12,60.45 461.76,52.14 479.40,48.82 497.04,47.77 514.68,46.86" fill="none" stroke="#ff4646" stroke-width="1"/>
<path d="M301.50 157.10L304.50 160.10M301.50 160.10L304.50 157.10" stroke="#ff4646" stroke-width="0.6" fill="none"/>
<path d="M319.14 156.65L322.14 159.65M319.14 159.65L322.14 156.65" stroke="#ff4646" stroke-width="0.6" fill="none"/>
<path d="M336.78 155.59L339.78 158.59M336.78 158.59L339.78 155.59" stroke="#ff4646" stroke-width="0.6" fill="none"/>
<path d="M354.42 154.08L357.42 157.08M354.42 157.08L357.42 154.08" stroke="#ff4646" stroke-width="0.6" fill="none"/>
<path d="M372.06 151.81L375.06 154.81M372.06 154.81L375.06 151.81" stroke="#ff4646" stroke-width="0.6" fill="none"/>
<path d="M389.70 145.02L392.70 148.02M389.70 148.02L392.70 145.02" stroke="#ff4646" stroke-width="0.6" fill="none"/>
<path d="M407.34 121.61L410.34 124.61M407.34 124.61L410.34 121.61" stroke="#ff4646" stroke-width="0.6" fill="none"/>
<path d="M424.98 81.60L427.98 84.60M424.98 84.60L427.98 81.60" stroke="#ff4646" stroke-width="0.6" fill="none"/>
<path d="M442.62 58.95L445.62 61.95M442.62 61.95L445.62 58.95" stroke="#ff4646" stroke-width="0.6" fill="none"/>
<path d="M460.26 50.64L463.26 53.64M460.26 53.64L463.26 50.64" stroke="#ff4646" stroke-width="0.6" fill="none"/>
<path d="M477.90 47.32L480.90 50.32M477.90 50.32L480.90 47.32" stroke="#ff4646" stroke-width="0.6" fill="none"/>
<path d="M495.54 46.27L498.54 49.27M495.54 49.27L498.54 46.27" stroke="#ff4646" stroke-width="0.6" fill="none"/>
<path d="M513.18 45.36L516.18 48.36M513.18 48.36L516.18 45.36" stroke="#ff4646" stroke-width="0.6" fill="none"/>
</g>
<rect x="333.00" y="11.40" width="98.40" height="55.60" fill="#fff" stroke="#6a6a6a" stroke-width="0.85"/>
<path d="M333.00 67.00V69.00" stroke="#666" stroke-width="0.6"/>
<text transform="translate(333.00 73.10) scale(0.900 1)" font-size="6.00" text-anchor="middle" fill="#444" stroke="#444">60</text>
<path d="M340.03 67.00V68.10" stroke="#666" stroke-width="0.6"/>
<path d="M347.06 67.00V69.00" stroke="#666" stroke-width="0.6"/>
<text transform="translate(347.06 73.10) scale(0.900 1)" font-size="6.00" text-anchor="middle" fill="#444" stroke="#444">62</text>
<path d="M354.09 67.00V68.10" stroke="#666" stroke-width="0.6"/>
<path d="M361.11 67.00V69.00" stroke="#666" stroke-width="0.6"/>
<text transform="translate(361.11 73.10) scale(0.900 1)" font-size="6.00" text-anchor="middle" fill="#444" stroke="#444">64</text>
<path d="M368.14 67.00V68.10" stroke="#666" stroke-width="0.6"/>
<path d="M375.17 67.00V69.00" stroke="#666" stroke-width="0.6"/>
<text transform="translate(375.17 73.10) scale(0.900 1)" font-size="6.00" text-anchor="middle" fill="#444" stroke="#444">66</text>
<path d="M382.20 67.00V68.10" stroke="#666" stroke-width="0.6"/>
<path d="M389.23 67.00V69.00" stroke="#666" stroke-width="0.6"/>
<text transform="translate(389.23 73.10) scale(0.900 1)" font-size="6.00" text-anchor="middle" fill="#444" stroke="#444">68</text>
<path d="M396.26 67.00V68.10" stroke="#666" stroke-width="0.6"/>
<path d="M403.29 67.00V69.00" stroke="#666" stroke-width="0.6"/>
<text transform="translate(403.29 73.10) scale(0.900 1)" font-size="6.00" text-anchor="middle" fill="#444" stroke="#444">70</text>
<path d="M410.31 67.00V68.10" stroke="#666" stroke-width="0.6"/>
<path d="M417.34 67.00V69.00" stroke="#666" stroke-width="0.6"/>
<text transform="translate(417.34 73.10) scale(0.900 1)" font-size="6.00" text-anchor="middle" fill="#444" stroke="#444">72</text>
<path d="M424.37 67.00V68.10" stroke="#666" stroke-width="0.6"/>
<path d="M431.40 67.00V69.00" stroke="#666" stroke-width="0.6"/>
<text transform="translate(431.40 73.10) scale(0.900 1)" font-size="6.00" text-anchor="middle" fill="#444" stroke="#444">74</text>
<path d="M333.00 61.13H331.00" stroke="#666" stroke-width="0.6"/>
<text transform="translate(330.40 63.13) scale(0.850 1)" font-size="6.00" text-anchor="end" fill="#444" stroke="#444">2</text>
<path d="M333.00 56.16H331.90" stroke="#666" stroke-width="0.6"/>
<path d="M333.00 51.19H331.00" stroke="#666" stroke-width="0.6"/>
<text transform="translate(330.40 53.19) scale(0.850 1)" font-size="6.00" text-anchor="end" fill="#444" stroke="#444">4</text>
<path d="M333.00 46.21H331.90" stroke="#666" stroke-width="0.6"/>
<path d="M333.00 41.24H331.00" stroke="#666" stroke-width="0.6"/>
<text transform="translate(330.40 43.24) scale(0.850 1)" font-size="6.00" text-anchor="end" fill="#444" stroke="#444">6</text>
<path d="M333.00 36.27H331.90" stroke="#666" stroke-width="0.6"/>
<path d="M333.00 31.29H331.00" stroke="#666" stroke-width="0.6"/>
<text transform="translate(330.40 33.29) scale(0.850 1)" font-size="6.00" text-anchor="end" fill="#444" stroke="#444">8</text>
<path d="M333.00 26.32H331.90" stroke="#666" stroke-width="0.6"/>
<path d="M333.00 21.35H331.00" stroke="#666" stroke-width="0.6"/>
<text transform="translate(330.40 23.35) scale(0.850 1)" font-size="6.00" text-anchor="end" fill="#444" stroke="#444">10</text>
<path d="M333.00 16.37H331.90" stroke="#666" stroke-width="0.6"/>
<path d="M333.00 11.40H331.00" stroke="#666" stroke-width="0.6"/>
<text transform="translate(330.40 13.40) scale(0.850 1)" font-size="6.00" text-anchor="end" fill="#444" stroke="#444">12</text>
<polyline points="333.00,16.87 375.17,22.34 417.34,26.82" fill="none" stroke="#505050" stroke-width="0.70" />
<rect x="331.80" y="15.67" width="2.39" height="2.39" fill="#1e1e1e"/>
<rect x="373.98" y="21.14" width="2.39" height="2.39" fill="#1e1e1e"/>
<rect x="416.15" y="25.62" width="2.39" height="2.39" fill="#1e1e1e"/>
<polyline points="333.00,51.19 375.17,55.16 417.34,57.15" fill="none" stroke="#909090" stroke-width="0.85" />
<circle cx="333.00" cy="51.19" r="1.50" fill="#fff" stroke="#909090" stroke-width="0.5" stroke-opacity="0.75"/>
<circle cx="375.17" cy="55.16" r="1.50" fill="#fff" stroke="#909090" stroke-width="0.5" stroke-opacity="0.75"/>
<circle cx="417.34" cy="57.15" r="1.50" fill="#fff" stroke="#909090" stroke-width="0.5" stroke-opacity="0.75"/>
<polyline points="333.00,60.63 375.17,62.62 417.34,64.12" fill="none" stroke="#ff6868" stroke-width="0.85" />
<circle cx="333.00" cy="60.63" r="1.50" fill="#fff" stroke="#ff6868" stroke-width="0.5" stroke-opacity="0.75"/>
<circle cx="375.17" cy="62.62" r="1.50" fill="#fff" stroke="#ff6868" stroke-width="0.5" stroke-opacity="0.75"/>
<circle cx="417.34" cy="64.12" r="1.50" fill="#fff" stroke="#ff6868" stroke-width="0.5" stroke-opacity="0.75"/>
<polyline points="333.00,49.20 375.17,51.19 417.34,54.17" fill="none" stroke="#4a8af5" stroke-width="0.85" />
<circle cx="333.00" cy="49.20" r="1.50" fill="#fff" stroke="#4a8af5" stroke-width="0.5" stroke-opacity="0.75"/>
<circle cx="375.17" cy="51.19" r="1.50" fill="#fff" stroke="#4a8af5" stroke-width="0.5" stroke-opacity="0.75"/>
<circle cx="417.34" cy="54.17" r="1.50" fill="#fff" stroke="#4a8af5" stroke-width="0.5" stroke-opacity="0.75"/>
<polyline points="333.00,51.19 375.17,54.17 417.34,55.66" fill="none" stroke="#30b078" stroke-width="0.85" />
<circle cx="333.00" cy="51.19" r="1.50" fill="#fff" stroke="#30b078" stroke-width="0.5" stroke-opacity="0.75"/>
<circle cx="375.17" cy="54.17" r="1.50" fill="#fff" stroke="#30b078" stroke-width="0.5" stroke-opacity="0.75"/>
<circle cx="417.34" cy="55.66" r="1.50" fill="#fff" stroke="#30b078" stroke-width="0.5" stroke-opacity="0.75"/>
<polyline points="333.00,21.84 375.17,27.81 417.34,31.79" fill="none" stroke="#bc80f5" stroke-width="0.85" />
<circle cx="333.00" cy="21.84" r="1.50" fill="#fff" stroke="#bc80f5" stroke-width="0.5" stroke-opacity="0.75"/>
<circle cx="375.17" cy="27.81" r="1.50" fill="#fff" stroke="#bc80f5" stroke-width="0.5" stroke-opacity="0.75"/>
<circle cx="417.34" cy="31.79" r="1.50" fill="#fff" stroke="#bc80f5" stroke-width="0.5" stroke-opacity="0.75"/>
<polyline points="333.00,24.33 375.17,31.29 417.34,36.76" fill="none" stroke="#e6ad3a" stroke-width="0.85" />
<circle cx="333.00" cy="24.33" r="1.50" fill="#fff" stroke="#e6ad3a" stroke-width="0.5" stroke-opacity="0.75"/>
<circle cx="375.17" cy="31.29" r="1.50" fill="#fff" stroke="#e6ad3a" stroke-width="0.5" stroke-opacity="0.75"/>
<circle cx="417.34" cy="36.76" r="1.50" fill="#fff" stroke="#e6ad3a" stroke-width="0.5" stroke-opacity="0.75"/>
<text transform="translate(312.39 38.90) rotate(-90)" font-size="7.30" text-anchor="middle" fill="#222" stroke="#222">Conductivity</text>
<text transform="translate(322.70 38.90) rotate(-90)" font-size="7.60" text-anchor="middle" fill="#222" stroke="#222">/(μm<tspan dy="-2.66" font-size="4.71">2</tspan><tspan dy="2.66">·cm)</tspan></text>
<text transform="translate(353.80 83.50) scale(0.87 1)" font-size="8.2" fill="#222" stroke="#222">Compaction time/h</text>
<path d="M464.70 62.20H480.70" stroke="#777" stroke-width="1.40" stroke-opacity="0.8" />
<circle cx="472.70" cy="62.20" r="1.6" fill="#1e1e1e"/>
<text x="483.00" y="64.70" font-size="7.20" text-anchor="start" fill="#333" stroke="#333" font-weight="normal" >1:1:1</text>
<path d="M464.70 71.14H480.70" stroke="#909090" stroke-width="1.40" stroke-opacity="0.8" />
<circle cx="472.70" cy="71.14" r="2.10" fill="#fff" stroke="#909090" stroke-width="0.5" stroke-opacity="0.75"/>
<text x="483.00" y="73.64" font-size="7.20" text-anchor="start" fill="#333" stroke="#333" font-weight="normal" >1:1:3</text>
<path d="M464.70 80.08H480.70" stroke="#ff6868" stroke-width="1.40" stroke-opacity="0.8" />
<circle cx="472.70" cy="80.08" r="2.10" fill="#fff" stroke="#ff6868" stroke-width="0.5" stroke-opacity="0.75"/>
<text x="483.00" y="82.58" font-size="7.20" text-anchor="start" fill="#333" stroke="#333" font-weight="normal" >1:1:5</text>
<path d="M464.70 89.02H480.70" stroke="#4a8af5" stroke-width="1.40" stroke-opacity="0.8" />
<circle cx="472.70" cy="89.02" r="2.10" fill="#fff" stroke="#4a8af5" stroke-width="0.5" stroke-opacity="0.75"/>
<text x="483.00" y="91.52" font-size="7.20" text-anchor="start" fill="#333" stroke="#333" font-weight="normal" >1:3:1</text>
<path d="M464.70 97.96H480.70" stroke="#30b078" stroke-width="1.40" stroke-opacity="0.8" />
<circle cx="472.70" cy="97.96" r="2.10" fill="#fff" stroke="#30b078" stroke-width="0.5" stroke-opacity="0.75"/>
<text x="483.00" y="100.46" font-size="7.20" text-anchor="start" fill="#333" stroke="#333" font-weight="normal" >1:5:1</text>
<path d="M464.70 106.90H480.70" stroke="#bc80f5" stroke-width="1.40" stroke-opacity="0.8" />
<circle cx="472.70" cy="106.90" r="2.10" fill="#fff" stroke="#bc80f5" stroke-width="0.5" stroke-opacity="0.75"/>
<text x="483.00" y="109.40" font-size="7.20" text-anchor="start" fill="#333" stroke="#333" font-weight="normal" >3:1:1</text>
<path d="M464.70 115.84H480.70" stroke="#e6ad3a" stroke-width="1.40" stroke-opacity="0.8" />
<circle cx="472.70" cy="115.84" r="2.10" fill="#fff" stroke="#e6ad3a" stroke-width="0.5" stroke-opacity="0.75"/>
<text x="483.00" y="118.34" font-size="7.20" text-anchor="start" fill="#333" stroke="#333" font-weight="normal" >5:1:1</text>
<path d="M464.70 124.78H480.70" stroke="#ff4646" stroke-width="1.4" stroke-opacity="0.75"/>
<path d="M471.20 123.28L474.20 126.28M471.20 126.28L474.20 123.28" stroke="#ff4646" stroke-width="0.6" fill="none"/>
<text x="483.00" y="127.28" font-size="7.20" text-anchor="start" fill="#333" stroke="#333" font-weight="normal" >Coal fines</text>
<text x="479.00" y="136.22" font-size="7.20" text-anchor="start" fill="#333" stroke="#333" font-weight="normal" >content/%</text>
<path d="M477.70 144.70L415.28 79.74" stroke="#0a14ff" stroke-width="1.6"/><polygon points="411.40,75.70 418.40,79.52 416.14,80.63 414.94,82.84" fill="#0a14ff"/>
<path d="M27.40 200.20H250.50" stroke="#555" stroke-width="1.0"/>
<path d="M30.00 351.50V354.30" stroke="#555" stroke-width="0.8"/>
<text transform="translate(30.00 361.00) scale(0.920 1)" font-size="6.70" text-anchor="middle" fill="#3a3a3a" stroke="#3a3a3a">0</text>
<path d="M37.35 351.50V353.00" stroke="#555" stroke-width="0.8"/>
<path d="M44.70 351.50V354.30" stroke="#555" stroke-width="0.8"/>
<text transform="translate(44.70 361.00) scale(0.920 1)" font-size="6.70" text-anchor="middle" fill="#3a3a3a" stroke="#3a3a3a">5</text>
<path d="M52.05 351.50V353.00" stroke="#555" stroke-width="0.8"/>
<path d="M59.40 351.50V354.30" stroke="#555" stroke-width="0.8"/>
<text transform="translate(59.40 361.00) scale(0.920 1)" font-size="6.70" text-anchor="middle" fill="#3a3a3a" stroke="#3a3a3a">10</text>
<path d="M66.75 351.50V353.00" stroke="#555" stroke-width="0.8"/>
<path d="M74.10 351.50V354.30" stroke="#555" stroke-width="0.8"/>
<text transform="translate(74.10 361.00) scale(0.920 1)" font-size="6.70" text-anchor="middle" fill="#3a3a3a" stroke="#3a3a3a">15</text>
<path d="M81.45 351.50V353.00" stroke="#555" stroke-width="0.8"/>
<path d="M88.80 351.50V354.30" stroke="#555" stroke-width="0.8"/>
<text transform="translate(88.80 361.00) scale(0.920 1)" font-size="6.70" text-anchor="middle" fill="#3a3a3a" stroke="#3a3a3a">20</text>
<path d="M96.15 351.50V353.00" stroke="#555" stroke-width="0.8"/>
<path d="M103.50 351.50V354.30" stroke="#555" stroke-width="0.8"/>
<text transform="translate(103.50 361.00) scale(0.920 1)" font-size="6.70" text-anchor="middle" fill="#3a3a3a" stroke="#3a3a3a">25</text>
<path d="M110.85 351.50V353.00" stroke="#555" stroke-width="0.8"/>
<path d="M118.20 351.50V354.30" stroke="#555" stroke-width="0.8"/>
<text transform="translate(118.20 361.00) scale(0.920 1)" font-size="6.70" text-anchor="middle" fill="#3a3a3a" stroke="#3a3a3a">30</text>
<path d="M125.55 351.50V353.00" stroke="#555" stroke-width="0.8"/>
<path d="M132.90 351.50V354.30" stroke="#555" stroke-width="0.8"/>
<text transform="translate(132.90 361.00) scale(0.920 1)" font-size="6.70" text-anchor="middle" fill="#3a3a3a" stroke="#3a3a3a">35</text>
<path d="M140.25 351.50V353.00" stroke="#555" stroke-width="0.8"/>
<path d="M147.60 351.50V354.30" stroke="#555" stroke-width="0.8"/>
<text transform="translate(147.60 361.00) scale(0.920 1)" font-size="6.70" text-anchor="middle" fill="#3a3a3a" stroke="#3a3a3a">40</text>
<path d="M154.95 351.50V353.00" stroke="#555" stroke-width="0.8"/>
<path d="M162.30 351.50V354.30" stroke="#555" stroke-width="0.8"/>
<text transform="translate(162.30 361.00) scale(0.920 1)" font-size="6.70" text-anchor="middle" fill="#3a3a3a" stroke="#3a3a3a">45</text>
<path d="M169.65 351.50V353.00" stroke="#555" stroke-width="0.8"/>
<path d="M177.00 351.50V354.30" stroke="#555" stroke-width="0.8"/>
<text transform="translate(177.00 361.00) scale(0.920 1)" font-size="6.70" text-anchor="middle" fill="#3a3a3a" stroke="#3a3a3a">50</text>
<path d="M184.35 351.50V353.00" stroke="#555" stroke-width="0.8"/>
<path d="M191.70 351.50V354.30" stroke="#555" stroke-width="0.8"/>
<text transform="translate(191.70 361.00) scale(0.920 1)" font-size="6.70" text-anchor="middle" fill="#3a3a3a" stroke="#3a3a3a">55</text>
<path d="M199.05 351.50V353.00" stroke="#555" stroke-width="0.8"/>
<path d="M206.40 351.50V354.30" stroke="#555" stroke-width="0.8"/>
<text transform="translate(206.40 361.00) scale(0.920 1)" font-size="6.70" text-anchor="middle" fill="#3a3a3a" stroke="#3a3a3a">60</text>
<path d="M213.75 351.50V353.00" stroke="#555" stroke-width="0.8"/>
<path d="M221.10 351.50V354.30" stroke="#555" stroke-width="0.8"/>
<text transform="translate(221.10 361.00) scale(0.920 1)" font-size="6.70" text-anchor="middle" fill="#3a3a3a" stroke="#3a3a3a">65</text>
<path d="M228.45 351.50V353.00" stroke="#555" stroke-width="0.8"/>
<path d="M235.80 351.50V354.30" stroke="#555" stroke-width="0.8"/>
<text transform="translate(235.80 361.00) scale(0.920 1)" font-size="6.70" text-anchor="middle" fill="#3a3a3a" stroke="#3a3a3a">70</text>
<path d="M243.15 351.50V353.00" stroke="#555" stroke-width="0.8"/>
<path d="M250.50 351.50V354.30" stroke="#555" stroke-width="0.8"/>
<text transform="translate(250.50 361.00) scale(0.920 1)" font-size="6.70" text-anchor="middle" fill="#3a3a3a" stroke="#3a3a3a">75</text>
<path d="M30.00 351.50H27.20" stroke="#555" stroke-width="0.8"/>
<text transform="translate(25.10 353.50) scale(0.920 1)" font-size="6.70" text-anchor="end" fill="#3a3a3a" stroke="#3a3a3a">0</text>
<path d="M30.00 340.69H28.50" stroke="#555" stroke-width="0.8"/>
<path d="M30.00 329.89H27.20" stroke="#555" stroke-width="0.8"/>
<text transform="translate(25.10 331.89) scale(0.920 1)" font-size="6.70" text-anchor="end" fill="#3a3a3a" stroke="#3a3a3a">20</text>
<path d="M30.00 319.08H28.50" stroke="#555" stroke-width="0.8"/>
<path d="M30.00 308.27H27.20" stroke="#555" stroke-width="0.8"/>
<text transform="translate(25.10 310.27) scale(0.920 1)" font-size="6.70" text-anchor="end" fill="#3a3a3a" stroke="#3a3a3a">40</text>
<path d="M30.00 297.46H28.50" stroke="#555" stroke-width="0.8"/>
<path d="M30.00 286.66H27.20" stroke="#555" stroke-width="0.8"/>
<text transform="translate(25.10 288.66) scale(0.920 1)" font-size="6.70" text-anchor="end" fill="#3a3a3a" stroke="#3a3a3a">60</text>
<path d="M30.00 275.85H28.50" stroke="#555" stroke-width="0.8"/>
<path d="M30.00 265.04H27.20" stroke="#555" stroke-width="0.8"/>
<text transform="translate(25.10 267.04) scale(0.920 1)" font-size="6.70" text-anchor="end" fill="#3a3a3a" stroke="#3a3a3a">80</text>
<path d="M30.00 254.24H28.50" stroke="#555" stroke-width="0.8"/>
<path d="M30.00 243.43H27.20" stroke="#555" stroke-width="0.8"/>
<text transform="translate(25.10 245.43) scale(0.920 1)" font-size="6.70" text-anchor="end" fill="#3a3a3a" stroke="#3a3a3a">100</text>
<path d="M30.00 232.62H28.50" stroke="#555" stroke-width="0.8"/>
<path d="M30.00 221.81H27.20" stroke="#555" stroke-width="0.8"/>
<text transform="translate(25.10 223.81) scale(0.920 1)" font-size="6.70" text-anchor="end" fill="#3a3a3a" stroke="#3a3a3a">120</text>
<path d="M30.00 211.01H28.50" stroke="#555" stroke-width="0.8"/>
<path d="M30.00 200.20H27.20" stroke="#555" stroke-width="0.8"/>
<text transform="translate(25.10 202.20) scale(0.920 1)" font-size="6.70" text-anchor="end" fill="#3a3a3a" stroke="#3a3a3a">140</text>
<path d="M250.50 351.50H253.70" stroke="#ff4646" stroke-width="0.9"/>
<text transform="translate(255.80 353.50) scale(0.920 1)" font-size="6.70" text-anchor="start" fill="#ff4646" stroke="#ff4646">0</text>
<path d="M250.50 343.94H252.40" stroke="#ff4646" stroke-width="0.9"/>
<path d="M250.50 336.37H253.70" stroke="#ff4646" stroke-width="0.9"/>
<text transform="translate(255.80 338.37) scale(0.920 1)" font-size="6.70" text-anchor="start" fill="#ff4646" stroke="#ff4646">1</text>
<path d="M250.50 328.81H252.40" stroke="#ff4646" stroke-width="0.9"/>
<path d="M250.50 321.24H253.70" stroke="#ff4646" stroke-width="0.9"/>
<text transform="translate(255.80 323.24) scale(0.920 1)" font-size="6.70" text-anchor="start" fill="#ff4646" stroke="#ff4646">2</text>
<path d="M250.50 313.68H252.40" stroke="#ff4646" stroke-width="0.9"/>
<path d="M250.50 306.11H253.70" stroke="#ff4646" stroke-width="0.9"/>
<text transform="translate(255.80 308.11) scale(0.920 1)" font-size="6.70" text-anchor="start" fill="#ff4646" stroke="#ff4646">3</text>
<path d="M250.50 298.55H252.40" stroke="#ff4646" stroke-width="0.9"/>
<path d="M250.50 290.98H253.70" stroke="#ff4646" stroke-width="0.9"/>
<text transform="translate(255.80 292.98) scale(0.920 1)" font-size="6.70" text-anchor="start" fill="#ff4646" stroke="#ff4646">4</text>
<path d="M250.50 283.41H252.40" stroke="#ff4646" stroke-width="0.9"/>
<path d="M250.50 275.85H253.70" stroke="#ff4646" stroke-width="0.9"/>
<text transform="translate(255.80 277.85) scale(0.920 1)" font-size="6.70" text-anchor="start" fill="#ff4646" stroke="#ff4646">5</text>
<path d="M250.50 268.28H252.40" stroke="#ff4646" stroke-width="0.9"/>
<path d="M250.50 260.72H253.70" stroke="#ff4646" stroke-width="0.9"/>
<text transform="translate(255.80 262.72) scale(0.920 1)" font-size="6.70" text-anchor="start" fill="#ff4646" stroke="#ff4646">6</text>
<path d="M250.50 253.16H252.40" stroke="#ff4646" stroke-width="0.9"/>
<path d="M250.50 245.59H253.70" stroke="#ff4646" stroke-width="0.9"/>
<text transform="translate(255.80 247.59) scale(0.920 1)" font-size="6.70" text-anchor="start" fill="#ff4646" stroke="#ff4646">7</text>
<path d="M250.50 238.03H252.40" stroke="#ff4646" stroke-width="0.9"/>
<path d="M250.50 230.46H253.70" stroke="#ff4646" stroke-width="0.9"/>
<text transform="translate(255.80 232.46) scale(0.920 1)" font-size="6.70" text-anchor="start" fill="#ff4646" stroke="#ff4646">8</text>
<path d="M250.50 222.89H252.40" stroke="#ff4646" stroke-width="0.9"/>
<path d="M250.50 215.33H253.70" stroke="#ff4646" stroke-width="0.9"/>
<text transform="translate(255.80 217.33) scale(0.920 1)" font-size="6.70" text-anchor="start" fill="#ff4646" stroke="#ff4646">9</text>
<path d="M250.50 207.76H252.40" stroke="#ff4646" stroke-width="0.9"/>
<path d="M250.50 200.20H253.70" stroke="#ff4646" stroke-width="0.9"/>
<text transform="translate(255.80 202.20) scale(0.920 1)" font-size="6.70" text-anchor="start" fill="#ff4646" stroke="#ff4646">10</text>
<path d="M30.00 200.20V351.50" stroke="#999999" stroke-width="1.4"/>
<path d="M250.50 200.20V351.50" stroke="#ff4646" stroke-width="1"/>
<path d="M29.30 351.60H250.50" stroke="#8e8e8e" stroke-width="1.6"/>
<defs><clipPath id="clipc"><rect x="30.00" y="200.20" width="220.50" height="152.30"/></clipPath></defs>
<g clip-path="url(#clipc)">
<polyline points="30.00,272.61 47.64,282.44 65.28,289.90 82.92,295.30 100.56,298.98 118.20,302.98 135.84,309.03 153.48,318.43 171.12,328.59 188.76,336.05 206.40,339.72 224.04,340.91 241.68,341.88" fill="none" stroke="#505050" stroke-width="1.00" />
<polyline points="30.00,308.06 47.64,312.38 65.28,317.03 82.92,320.38 100.56,322.97 118.20,324.37 135.84,328.05 153.48,333.67 171.12,340.48 188.76,344.26 206.40,345.77 224.04,346.53 241.68,347.18" fill="none" stroke="#909090" stroke-width="1.00" stroke-dasharray="1.6 2.7"/>
<polyline points="30.00,318.97 47.64,323.62 65.28,327.62 82.92,330.97 100.56,333.56 118.20,335.61 135.84,337.99 153.48,340.69 171.12,343.50 188.76,345.02 206.40,346.31 224.04,346.64 241.68,347.07" fill="none" stroke="#ff6868" stroke-width="1.00" stroke-dasharray="1.6 2.7"/>
<polyline points="30.00,279.63 47.64,286.87 65.28,293.79 82.92,299.73 100.56,303.41 118.20,306.65 135.84,310.54 153.48,318.97 171.12,325.56 188.76,330.53 206.40,334.21 224.04,335.61 241.68,336.48" fill="none" stroke="#4a8af5" stroke-width="1.00" stroke-dasharray="1.6 2.7"/>
<polyline points="30.00,269.15 47.64,276.61 65.28,285.36 82.92,290.44 100.56,293.57 118.20,297.46 135.84,302.00 153.48,310.97 171.12,319.08 188.76,326.32 206.40,329.99 224.04,331.40 241.68,332.26" fill="none" stroke="#30b078" stroke-width="1.00" stroke-dasharray="1.6 2.7"/>
<polyline points="30.00,267.31 47.64,275.53 65.28,282.77 82.92,288.28 100.56,291.52 118.20,294.76 135.84,299.95 153.48,308.27 171.12,319.94 188.76,333.99 206.40,342.31 224.04,343.94 241.68,344.69" fill="none" stroke="#bc80f5" stroke-width="1.00" stroke-dasharray="1.6 2.7"/>
<polyline points="30.00,263.42 47.64,274.23 65.28,280.39 82.92,286.12 100.56,289.36 118.20,292.60 135.84,298.33 153.48,306.65 171.12,327.62 188.76,338.64 206.40,343.50 224.04,345.45 241.68,346.53" fill="none" stroke="#e6ad3a" stroke-width="1.00" stroke-dasharray="1.6 2.7"/>
<rect x="28.62" y="271.23" width="2.76" height="2.76" fill="#1e1e1e"/>
<rect x="46.26" y="281.06" width="2.76" height="2.76" fill="#1e1e1e"/>
<rect x="63.90" y="288.52" width="2.76" height="2.76" fill="#1e1e1e"/>
<rect x="81.54" y="293.92" width="2.76" height="2.76" fill="#1e1e1e"/>
<rect x="99.18" y="297.60" width="2.76" height="2.76" fill="#1e1e1e"/>
<rect x="116.82" y="301.60" width="2.76" height="2.76" fill="#1e1e1e"/>
<rect x="134.46" y="307.65" width="2.76" height="2.76" fill="#1e1e1e"/>
<rect x="152.10" y="317.05" width="2.76" height="2.76" fill="#1e1e1e"/>
<rect x="169.74" y="327.21" width="2.76" height="2.76" fill="#1e1e1e"/>
<rect x="187.38" y="334.67" width="2.76" height="2.76" fill="#1e1e1e"/>
<rect x="205.02" y="338.34" width="2.76" height="2.76" fill="#1e1e1e"/>
<rect x="222.66" y="339.53" width="2.76" height="2.76" fill="#1e1e1e"/>
<rect x="240.30" y="340.50" width="2.76" height="2.76" fill="#1e1e1e"/>
<path d="M28.05 308.06L31.95 308.06M29.02 306.37L30.98 309.74M30.98 306.37L29.02 309.74" stroke="#909090" stroke-width="0.75" fill="none"/>
<path d="M45.69 312.38L49.59 312.38M46.66 310.69L48.62 314.07M48.62 310.69L46.66 314.07" stroke="#909090" stroke-width="0.75" fill="none"/>
<path d="M63.33 317.03L67.23 317.03M64.31 315.34L66.25 318.71M66.25 315.34L64.31 318.71" stroke="#909090" stroke-width="0.75" fill="none"/>
<path d="M80.97 320.38L84.87 320.38M81.95 318.69L83.89 322.06M83.89 318.69L81.95 322.06" stroke="#909090" stroke-width="0.75" fill="none"/>
<path d="M98.61 322.97L102.51 322.97M99.59 321.28L101.53 324.66M101.53 321.28L99.59 324.66" stroke="#909090" stroke-width="0.75" fill="none"/>
<path d="M116.25 324.37L120.15 324.37M117.23 322.69L119.17 326.06M119.17 322.69L117.23 326.06" stroke="#909090" stroke-width="0.75" fill="none"/>
<path d="M133.89 328.05L137.79 328.05M134.87 326.36L136.81 329.74M136.81 326.36L134.87 329.74" stroke="#909090" stroke-width="0.75" fill="none"/>
<path d="M151.53 333.67L155.43 333.67M152.51 331.98L154.46 335.36M154.46 331.98L152.51 335.36" stroke="#909090" stroke-width="0.75" fill="none"/>
<path d="M169.17 340.48L173.07 340.48M170.15 338.79L172.09 342.17M172.09 338.79L170.15 342.17" stroke="#909090" stroke-width="0.75" fill="none"/>
<path d="M186.81 344.26L190.71 344.26M187.78 342.57L189.73 345.95M189.73 342.57L187.78 345.95" stroke="#909090" stroke-width="0.75" fill="none"/>
<path d="M204.45 345.77L208.35 345.77M205.43 344.08L207.38 347.46M207.38 344.08L205.43 347.46" stroke="#909090" stroke-width="0.75" fill="none"/>
<path d="M222.09 346.53L225.99 346.53M223.06 344.84L225.01 348.22M225.01 344.84L223.06 348.22" stroke="#909090" stroke-width="0.75" fill="none"/>
<path d="M239.73 347.18L243.63 347.18M240.71 345.49L242.66 348.87M242.66 345.49L240.71 348.87" stroke="#909090" stroke-width="0.75" fill="none"/>
<path d="M28.05 318.97L31.95 318.97M29.02 317.28L30.98 320.66M30.98 317.28L29.02 320.66" stroke="#ff6868" stroke-width="0.75" fill="none"/>
<path d="M45.69 323.62L49.59 323.62M46.66 321.93L48.62 325.31M48.62 321.93L46.66 325.31" stroke="#ff6868" stroke-width="0.75" fill="none"/>
<path d="M63.33 327.62L67.23 327.62M64.31 325.93L66.25 329.30M66.25 325.93L64.31 329.30" stroke="#ff6868" stroke-width="0.75" fill="none"/>
<path d="M80.97 330.97L84.87 330.97M81.95 329.28L83.89 332.66M83.89 329.28L81.95 332.66" stroke="#ff6868" stroke-width="0.75" fill="none"/>
<path d="M98.61 333.56L102.51 333.56M99.59 331.87L101.53 335.25M101.53 331.87L99.59 335.25" stroke="#ff6868" stroke-width="0.75" fill="none"/>
<path d="M116.25 335.61L120.15 335.61M117.23 333.92L119.17 337.30M119.17 333.92L117.23 337.30" stroke="#ff6868" stroke-width="0.75" fill="none"/>
<path d="M133.89 337.99L137.79 337.99M134.87 336.30L136.81 339.68M136.81 336.30L134.87 339.68" stroke="#ff6868" stroke-width="0.75" fill="none"/>
<path d="M151.53 340.69L155.43 340.69M152.51 339.00L154.46 342.38M154.46 339.00L152.51 342.38" stroke="#ff6868" stroke-width="0.75" fill="none"/>
<path d="M169.17 343.50L173.07 343.50M170.15 341.81L172.09 345.19M172.09 341.81L170.15 345.19" stroke="#ff6868" stroke-width="0.75" fill="none"/>
<path d="M186.81 345.02L190.71 345.02M187.78 343.33L189.73 346.70M189.73 343.33L187.78 346.70" stroke="#ff6868" stroke-width="0.75" fill="none"/>
<path d="M204.45 346.31L208.35 346.31M205.43 344.62L207.38 348.00M207.38 344.62L205.43 348.00" stroke="#ff6868" stroke-width="0.75" fill="none"/>
<path d="M222.09 346.64L225.99 346.64M223.06 344.95L225.01 348.33M225.01 344.95L223.06 348.33" stroke="#ff6868" stroke-width="0.75" fill="none"/>
<path d="M239.73 347.07L243.63 347.07M240.71 345.38L242.66 348.76M242.66 345.38L240.71 348.76" stroke="#ff6868" stroke-width="0.75" fill="none"/>
<path d="M28.05 279.63L31.95 279.63M29.02 277.94L30.98 281.32M30.98 277.94L29.02 281.32" stroke="#4a8af5" stroke-width="0.75" fill="none"/>
<path d="M45.69 286.87L49.59 286.87M46.66 285.18L48.62 288.56M48.62 285.18L46.66 288.56" stroke="#4a8af5" stroke-width="0.75" fill="none"/>
<path d="M63.33 293.79L67.23 293.79M64.31 292.10L66.25 295.48M66.25 292.10L64.31 295.48" stroke="#4a8af5" stroke-width="0.75" fill="none"/>
<path d="M80.97 299.73L84.87 299.73M81.95 298.05L83.89 301.42M83.89 298.05L81.95 301.42" stroke="#4a8af5" stroke-width="0.75" fill="none"/>
<path d="M98.61 303.41L102.51 303.41M99.59 301.72L101.53 305.10M101.53 301.72L99.59 305.10" stroke="#4a8af5" stroke-width="0.75" fill="none"/>
<path d="M116.25 306.65L120.15 306.65M117.23 304.96L119.17 308.34M119.17 304.96L117.23 308.34" stroke="#4a8af5" stroke-width="0.75" fill="none"/>
<path d="M133.89 310.54L137.79 310.54M134.87 308.85L136.81 312.23M136.81 308.85L134.87 312.23" stroke="#4a8af5" stroke-width="0.75" fill="none"/>
<path d="M151.53 318.97L155.43 318.97M152.51 317.28L154.46 320.66M154.46 317.28L152.51 320.66" stroke="#4a8af5" stroke-width="0.75" fill="none"/>
<path d="M169.17 325.56L173.07 325.56M170.15 323.87L172.09 327.25M172.09 323.87L170.15 327.25" stroke="#4a8af5" stroke-width="0.75" fill="none"/>
<path d="M186.81 330.53L190.71 330.53M187.78 328.85L189.73 332.22M189.73 328.85L187.78 332.22" stroke="#4a8af5" stroke-width="0.75" fill="none"/>
<path d="M204.45 334.21L208.35 334.21M205.43 332.52L207.38 335.90M207.38 332.52L205.43 335.90" stroke="#4a8af5" stroke-width="0.75" fill="none"/>
<path d="M222.09 335.61L225.99 335.61M223.06 333.92L225.01 337.30M225.01 333.92L223.06 337.30" stroke="#4a8af5" stroke-width="0.75" fill="none"/>
<path d="M239.73 336.48L243.63 336.48M240.71 334.79L242.66 338.17M242.66 334.79L240.71 338.17" stroke="#4a8af5" stroke-width="0.75" fill="none"/>
<path d="M28.05 269.15L31.95 269.15M29.02 267.46L30.98 270.84M30.98 267.46L29.02 270.84" stroke="#30b078" stroke-width="0.75" fill="none"/>
<path d="M45.69 276.61L49.59 276.61M46.66 274.92L48.62 278.30M48.62 274.92L46.66 278.30" stroke="#30b078" stroke-width="0.75" fill="none"/>
<path d="M63.33 285.36L67.23 285.36M64.31 283.67L66.25 287.05M66.25 283.67L64.31 287.05" stroke="#30b078" stroke-width="0.75" fill="none"/>
<path d="M80.97 290.44L84.87 290.44M81.95 288.75L83.89 292.13M83.89 288.75L81.95 292.13" stroke="#30b078" stroke-width="0.75" fill="none"/>
<path d="M98.61 293.57L102.51 293.57M99.59 291.88L101.53 295.26M101.53 291.88L99.59 295.26" stroke="#30b078" stroke-width="0.75" fill="none"/>
<path d="M116.25 297.46L120.15 297.46M117.23 295.78L119.17 299.15M119.17 295.78L117.23 299.15" stroke="#30b078" stroke-width="0.75" fill="none"/>
<path d="M133.89 302.00L137.79 302.00M134.87 300.31L136.81 303.69M136.81 300.31L134.87 303.69" stroke="#30b078" stroke-width="0.75" fill="none"/>
<path d="M151.53 310.97L155.43 310.97M152.51 309.28L154.46 312.66M154.46 309.28L152.51 312.66" stroke="#30b078" stroke-width="0.75" fill="none"/>
<path d="M169.17 319.08L173.07 319.08M170.15 317.39L172.09 320.77M172.09 317.39L170.15 320.77" stroke="#30b078" stroke-width="0.75" fill="none"/>
<path d="M186.81 326.32L190.71 326.32M187.78 324.63L189.73 328.01M189.73 324.63L187.78 328.01" stroke="#30b078" stroke-width="0.75" fill="none"/>
<path d="M204.45 329.99L208.35 329.99M205.43 328.31L207.38 331.68M207.38 328.31L205.43 331.68" stroke="#30b078" stroke-width="0.75" fill="none"/>
<path d="M222.09 331.40L225.99 331.40M223.06 329.71L225.01 333.09M225.01 329.71L223.06 333.09" stroke="#30b078" stroke-width="0.75" fill="none"/>
<path d="M239.73 332.26L243.63 332.26M240.71 330.57L242.66 333.95M242.66 330.57L240.71 333.95" stroke="#30b078" stroke-width="0.75" fill="none"/>
<path d="M28.05 267.31L31.95 267.31M29.02 265.62L30.98 269.00M30.98 265.62L29.02 269.00" stroke="#bc80f5" stroke-width="0.75" fill="none"/>
<path d="M45.69 275.53L49.59 275.53M46.66 273.84L48.62 277.21M48.62 273.84L46.66 277.21" stroke="#bc80f5" stroke-width="0.75" fill="none"/>
<path d="M63.33 282.77L67.23 282.77M64.31 281.08L66.25 284.46M66.25 281.08L64.31 284.46" stroke="#bc80f5" stroke-width="0.75" fill="none"/>
<path d="M80.97 288.28L84.87 288.28M81.95 286.59L83.89 289.97M83.89 286.59L81.95 289.97" stroke="#bc80f5" stroke-width="0.75" fill="none"/>
<path d="M98.61 291.52L102.51 291.52M99.59 289.83L101.53 293.21M101.53 289.83L99.59 293.21" stroke="#bc80f5" stroke-width="0.75" fill="none"/>
<path d="M116.25 294.76L120.15 294.76M117.23 293.07L119.17 296.45M119.17 293.07L117.23 296.45" stroke="#bc80f5" stroke-width="0.75" fill="none"/>
<path d="M133.89 299.95L137.79 299.95M134.87 298.26L136.81 301.64M136.81 298.26L134.87 301.64" stroke="#bc80f5" stroke-width="0.75" fill="none"/>
<path d="M151.53 308.27L155.43 308.27M152.51 306.58L154.46 309.96M154.46 306.58L152.51 309.96" stroke="#bc80f5" stroke-width="0.75" fill="none"/>
<path d="M169.17 319.94L173.07 319.94M170.15 318.25L172.09 321.63M172.09 318.25L170.15 321.63" stroke="#bc80f5" stroke-width="0.75" fill="none"/>
<path d="M186.81 333.99L190.71 333.99M187.78 332.30L189.73 335.68M189.73 332.30L187.78 335.68" stroke="#bc80f5" stroke-width="0.75" fill="none"/>
<path d="M204.45 342.31L208.35 342.31M205.43 340.63L207.38 344.00M207.38 340.63L205.43 344.00" stroke="#bc80f5" stroke-width="0.75" fill="none"/>
<path d="M222.09 343.94L225.99 343.94M223.06 342.25L225.01 345.62M225.01 342.25L223.06 345.62" stroke="#bc80f5" stroke-width="0.75" fill="none"/>
<path d="M239.73 344.69L243.63 344.69M240.71 343.00L242.66 346.38M242.66 343.00L240.71 346.38" stroke="#bc80f5" stroke-width="0.75" fill="none"/>
<path d="M28.05 263.42L31.95 263.42M29.02 261.73L30.98 265.11M30.98 261.73L29.02 265.11" stroke="#e6ad3a" stroke-width="0.75" fill="none"/>
<path d="M45.69 274.23L49.59 274.23M46.66 272.54L48.62 275.92M48.62 272.54L46.66 275.92" stroke="#e6ad3a" stroke-width="0.75" fill="none"/>
<path d="M63.33 280.39L67.23 280.39M64.31 278.70L66.25 282.08M66.25 278.70L64.31 282.08" stroke="#e6ad3a" stroke-width="0.75" fill="none"/>
<path d="M80.97 286.12L84.87 286.12M81.95 284.43L83.89 287.81M83.89 284.43L81.95 287.81" stroke="#e6ad3a" stroke-width="0.75" fill="none"/>
<path d="M98.61 289.36L102.51 289.36M99.59 287.67L101.53 291.05M101.53 287.67L99.59 291.05" stroke="#e6ad3a" stroke-width="0.75" fill="none"/>
<path d="M116.25 292.60L120.15 292.60M117.23 290.91L119.17 294.29M119.17 290.91L117.23 294.29" stroke="#e6ad3a" stroke-width="0.75" fill="none"/>
<path d="M133.89 298.33L137.79 298.33M134.87 296.64L136.81 300.02M136.81 296.64L134.87 300.02" stroke="#e6ad3a" stroke-width="0.75" fill="none"/>
<path d="M151.53 306.65L155.43 306.65M152.51 304.96L154.46 308.34M154.46 304.96L152.51 308.34" stroke="#e6ad3a" stroke-width="0.75" fill="none"/>
<path d="M169.17 327.62L173.07 327.62M170.15 325.93L172.09 329.30M172.09 325.93L170.15 329.30" stroke="#e6ad3a" stroke-width="0.75" fill="none"/>
<path d="M186.81 338.64L190.71 338.64M187.78 336.95L189.73 340.33M189.73 336.95L187.78 340.33" stroke="#e6ad3a" stroke-width="0.75" fill="none"/>
<path d="M204.45 343.50L208.35 343.50M205.43 341.81L207.38 345.19M207.38 341.81L205.43 345.19" stroke="#e6ad3a" stroke-width="0.75" fill="none"/>
<path d="M222.09 345.45L225.99 345.45M223.06 343.76L225.01 347.14M225.01 343.76L223.06 347.14" stroke="#e6ad3a" stroke-width="0.75" fill="none"/>
<path d="M239.73 346.53L243.63 346.53M240.71 344.84L242.66 348.22M242.66 344.84L240.71 348.22" stroke="#e6ad3a" stroke-width="0.75" fill="none"/>
<rect x="205.00" y="329.20" width="37.60" height="19.60" fill="#ff8a8a" fill-opacity="0.45" stroke="#f79090" stroke-width="0.8"/>
<polyline points="30.00,351.50 47.64,351.05 65.28,349.99 82.92,348.47 100.56,346.20 118.20,339.40 135.84,315.94 153.48,275.85 171.12,253.16 188.76,244.83 206.40,241.50 224.04,240.45 241.68,239.54" fill="none" stroke="#ff4646" stroke-width="1"/>
<path d="M28.50 350.00L31.50 353.00M28.50 353.00L31.50 350.00" stroke="#ff4646" stroke-width="0.6" fill="none"/>
<path d="M46.14 349.55L49.14 352.55M46.14 352.55L49.14 349.55" stroke="#ff4646" stroke-width="0.6" fill="none"/>
<path d="M63.78 348.49L66.78 351.49M63.78 351.49L66.78 348.49" stroke="#ff4646" stroke-width="0.6" fill="none"/>
<path d="M81.42 346.97L84.42 349.97M81.42 349.97L84.42 346.97" stroke="#ff4646" stroke-width="0.6" fill="none"/>
<path d="M99.06 344.70L102.06 347.70M99.06 347.70L102.06 344.70" stroke="#ff4646" stroke-width="0.6" fill="none"/>
<path d="M116.70 337.90L119.70 340.90M116.70 340.90L119.70 337.90" stroke="#ff4646" stroke-width="0.6" fill="none"/>
<path d="M134.34 314.44L137.34 317.44M134.34 317.44L137.34 314.44" stroke="#ff4646" stroke-width="0.6" fill="none"/>
<path d="M151.98 274.35L154.98 277.35M151.98 277.35L154.98 274.35" stroke="#ff4646" stroke-width="0.6" fill="none"/>
<path d="M169.62 251.66L172.62 254.66M169.62 254.66L172.62 251.66" stroke="#ff4646" stroke-width="0.6" fill="none"/>
<path d="M187.26 243.33L190.26 246.33M187.26 246.33L190.26 243.33" stroke="#ff4646" stroke-width="0.6" fill="none"/>
<path d="M204.90 240.00L207.90 243.00M204.90 243.00L207.90 240.00" stroke="#ff4646" stroke-width="0.6" fill="none"/>
<path d="M222.54 238.95L225.54 241.95M222.54 241.95L225.54 238.95" stroke="#ff4646" stroke-width="0.6" fill="none"/>
<path d="M240.18 238.04L243.18 241.04M240.18 241.04L243.18 238.04" stroke="#ff4646" stroke-width="0.6" fill="none"/>
</g>
<rect x="56.20" y="204.20" width="98.60" height="55.20" fill="#fff" stroke="#6a6a6a" stroke-width="0.85"/>
<path d="M56.20 259.40V261.40" stroke="#666" stroke-width="0.6"/>
<text transform="translate(56.20 265.50) scale(0.900 1)" font-size="6.00" text-anchor="middle" fill="#444" stroke="#444">60</text>
<path d="M63.24 259.40V260.50" stroke="#666" stroke-width="0.6"/>
<path d="M70.29 259.40V261.40" stroke="#666" stroke-width="0.6"/>
<text transform="translate(70.29 265.50) scale(0.900 1)" font-size="6.00" text-anchor="middle" fill="#444" stroke="#444">62</text>
<path d="M77.33 259.40V260.50" stroke="#666" stroke-width="0.6"/>
<path d="M84.37 259.40V261.40" stroke="#666" stroke-width="0.6"/>
<text transform="translate(84.37 265.50) scale(0.900 1)" font-size="6.00" text-anchor="middle" fill="#444" stroke="#444">64</text>
<path d="M91.41 259.40V260.50" stroke="#666" stroke-width="0.6"/>
<path d="M98.46 259.40V261.40" stroke="#666" stroke-width="0.6"/>
<text transform="translate(98.46 265.50) scale(0.900 1)" font-size="6.00" text-anchor="middle" fill="#444" stroke="#444">66</text>
<path d="M105.50 259.40V260.50" stroke="#666" stroke-width="0.6"/>
<path d="M112.54 259.40V261.40" stroke="#666" stroke-width="0.6"/>
<text transform="translate(112.54 265.50) scale(0.900 1)" font-size="6.00" text-anchor="middle" fill="#444" stroke="#444">68</text>
<path d="M119.59 259.40V260.50" stroke="#666" stroke-width="0.6"/>
<path d="M126.63 259.40V261.40" stroke="#666" stroke-width="0.6"/>
<text transform="translate(126.63 265.50) scale(0.900 1)" font-size="6.00" text-anchor="middle" fill="#444" stroke="#444">70</text>
<path d="M133.67 259.40V260.50" stroke="#666" stroke-width="0.6"/>
<path d="M140.71 259.40V261.40" stroke="#666" stroke-width="0.6"/>
<text transform="translate(140.71 265.50) scale(0.900 1)" font-size="6.00" text-anchor="middle" fill="#444" stroke="#444">72</text>
<path d="M147.76 259.40V260.50" stroke="#666" stroke-width="0.6"/>
<path d="M154.80 259.40V261.40" stroke="#666" stroke-width="0.6"/>
<text transform="translate(154.80 265.50) scale(0.900 1)" font-size="6.00" text-anchor="middle" fill="#444" stroke="#444">74</text>
<path d="M56.20 259.40H54.20" stroke="#666" stroke-width="0.6"/>
<text transform="translate(53.60 261.40) scale(0.850 1)" font-size="6.00" text-anchor="end" fill="#444" stroke="#444">3</text>
<path d="M56.20 254.83H55.10" stroke="#666" stroke-width="0.6"/>
<path d="M56.20 250.25H54.20" stroke="#666" stroke-width="0.6"/>
<text transform="translate(53.60 252.25) scale(0.850 1)" font-size="6.00" text-anchor="end" fill="#444" stroke="#444">6</text>
<path d="M56.20 245.68H55.10" stroke="#666" stroke-width="0.6"/>
<path d="M56.20 241.10H54.20" stroke="#666" stroke-width="0.6"/>
<text transform="translate(53.60 243.10) scale(0.850 1)" font-size="6.00" text-anchor="end" fill="#444" stroke="#444">9</text>
<path d="M56.20 236.53H55.10" stroke="#666" stroke-width="0.6"/>
<path d="M56.20 231.95H54.20" stroke="#666" stroke-width="0.6"/>
<text transform="translate(53.60 233.95) scale(0.850 1)" font-size="6.00" text-anchor="end" fill="#444" stroke="#444">12</text>
<path d="M56.20 227.38H55.10" stroke="#666" stroke-width="0.6"/>
<path d="M56.20 222.80H54.20" stroke="#666" stroke-width="0.6"/>
<text transform="translate(53.60 224.80) scale(0.850 1)" font-size="6.00" text-anchor="end" fill="#444" stroke="#444">15</text>
<path d="M56.20 218.23H55.10" stroke="#666" stroke-width="0.6"/>
<path d="M56.20 213.65H54.20" stroke="#666" stroke-width="0.6"/>
<text transform="translate(53.60 215.65) scale(0.850 1)" font-size="6.00" text-anchor="end" fill="#444" stroke="#444">18</text>
<path d="M56.20 209.08H55.10" stroke="#666" stroke-width="0.6"/>
<path d="M56.20 204.50H54.20" stroke="#666" stroke-width="0.6"/>
<text transform="translate(53.60 206.50) scale(0.850 1)" font-size="6.00" text-anchor="end" fill="#444" stroke="#444">21</text>
<polyline points="56.20,235.31 98.46,238.66 140.71,241.41" fill="none" stroke="#505050" stroke-width="0.70" />
<rect x="55.00" y="234.11" width="2.39" height="2.39" fill="#1e1e1e"/>
<rect x="97.26" y="237.47" width="2.39" height="2.39" fill="#1e1e1e"/>
<rect x="139.52" y="240.21" width="2.39" height="2.39" fill="#1e1e1e"/>
<polyline points="56.20,252.39 98.46,254.52 140.71,256.35" fill="none" stroke="#909090" stroke-width="0.85" stroke-dasharray="0.9 1.6"/>
<path d="M54.25 252.39L58.15 252.39M55.23 250.70L57.18 254.07M57.18 250.70L55.23 254.07" stroke="#909090" stroke-width="0.75" fill="none"/>
<path d="M96.51 254.52L100.41 254.52M97.48 252.83L99.43 256.21M99.43 252.83L97.48 256.21" stroke="#909090" stroke-width="0.75" fill="none"/>
<path d="M138.76 256.35L142.66 256.35M139.74 254.66L141.69 258.04M141.69 254.66L139.74 258.04" stroke="#909090" stroke-width="0.75" fill="none"/>
<polyline points="56.20,253.91 98.46,254.83 140.71,256.05" fill="none" stroke="#ff6868" stroke-width="0.85" stroke-dasharray="0.9 1.6"/>
<path d="M54.25 253.91L58.15 253.91M55.23 252.22L57.18 255.60M57.18 252.22L55.23 255.60" stroke="#ff6868" stroke-width="0.75" fill="none"/>
<path d="M96.51 254.83L100.41 254.83M97.48 253.14L99.43 256.51M99.43 253.14L97.48 256.51" stroke="#ff6868" stroke-width="0.75" fill="none"/>
<path d="M138.76 256.05L142.66 256.05M139.74 254.36L141.69 257.73M141.69 254.36L139.74 257.73" stroke="#ff6868" stroke-width="0.75" fill="none"/>
<polyline points="56.20,219.75 98.46,223.72 140.71,226.16" fill="none" stroke="#4a8af5" stroke-width="0.85" stroke-dasharray="0.9 1.6"/>
<path d="M54.25 219.75L58.15 219.75M55.23 218.06L57.18 221.44M57.18 218.06L55.23 221.44" stroke="#4a8af5" stroke-width="0.75" fill="none"/>
<path d="M96.51 223.72L100.41 223.72M97.48 222.03L99.43 225.41M99.43 222.03L97.48 225.41" stroke="#4a8af5" stroke-width="0.75" fill="none"/>
<path d="M138.76 226.16L142.66 226.16M139.74 224.47L141.69 227.85M141.69 224.47L139.74 227.85" stroke="#4a8af5" stroke-width="0.75" fill="none"/>
<polyline points="56.20,207.86 98.46,211.82 140.71,214.26" fill="none" stroke="#30b078" stroke-width="0.85" stroke-dasharray="0.9 1.6"/>
<path d="M54.25 207.86L58.15 207.86M55.23 206.17L57.18 209.55M57.18 206.17L55.23 209.55" stroke="#30b078" stroke-width="0.75" fill="none"/>
<path d="M96.51 211.82L100.41 211.82M97.48 210.14L99.43 213.51M99.43 210.14L97.48 213.51" stroke="#30b078" stroke-width="0.75" fill="none"/>
<path d="M138.76 214.26L142.66 214.26M139.74 212.58L141.69 215.95M141.69 212.58L139.74 215.95" stroke="#30b078" stroke-width="0.75" fill="none"/>
<polyline points="56.20,242.63 98.46,247.20 140.71,249.34" fill="none" stroke="#bc80f5" stroke-width="0.85" stroke-dasharray="0.9 1.6"/>
<path d="M54.25 242.63L58.15 242.63M55.23 240.94L57.18 244.32M57.18 240.94L55.23 244.32" stroke="#bc80f5" stroke-width="0.75" fill="none"/>
<path d="M96.51 247.20L100.41 247.20M97.48 245.51L99.43 248.89M99.43 245.51L97.48 248.89" stroke="#bc80f5" stroke-width="0.75" fill="none"/>
<path d="M138.76 249.34L142.66 249.34M139.74 247.65L141.69 251.02M141.69 247.65L139.74 251.02" stroke="#bc80f5" stroke-width="0.75" fill="none"/>
<polyline points="56.20,245.98 98.46,251.47 140.71,254.52" fill="none" stroke="#e6ad3a" stroke-width="0.85" stroke-dasharray="0.9 1.6"/>
<path d="M54.25 245.98L58.15 245.98M55.23 244.29L57.18 247.67M57.18 244.29L55.23 247.67" stroke="#e6ad3a" stroke-width="0.75" fill="none"/>
<path d="M96.51 251.47L100.41 251.47M97.48 249.78L99.43 253.16M99.43 249.78L97.48 253.16" stroke="#e6ad3a" stroke-width="0.75" fill="none"/>
<path d="M138.76 254.52L142.66 254.52M139.74 252.83L141.69 256.21M141.69 252.83L139.74 256.21" stroke="#e6ad3a" stroke-width="0.75" fill="none"/>
<text transform="translate(36.59 231.30) rotate(-90)" font-size="7.30" text-anchor="middle" fill="#222" stroke="#222">Conductivity</text>
<text transform="translate(46.40 231.20) rotate(-90)" font-size="7.60" text-anchor="middle" fill="#222" stroke="#222">/(μm<tspan dy="-2.66" font-size="4.71">2</tspan><tspan dy="2.66">·cm)</tspan></text>
<text transform="translate(77.60 276.00) scale(0.87 1)" font-size="8.2" fill="#222" stroke="#222">Compaction time/h</text>
<path d="M192.60 249.70H207.90" stroke="#777" stroke-width="1.40" stroke-opacity="0.8" />
<circle cx="200.25" cy="249.70" r="1.6" fill="#1e1e1e"/>
<text x="210.70" y="252.20" font-size="7.20" text-anchor="start" fill="#333" stroke="#333" font-weight="normal" >1:1:1</text>
<path d="M192.60 258.70H207.90" stroke="#909090" stroke-width="1.40" stroke-opacity="0.8" stroke-dasharray="2.1 3.5"/>
<path d="M198.17 258.70L202.33 258.70M199.21 256.90L201.29 260.50M201.29 256.90L199.21 260.50" stroke="#909090" stroke-width="0.75" fill="none"/>
<text x="210.70" y="261.20" font-size="7.20" text-anchor="start" fill="#333" stroke="#333" font-weight="normal" >1:3:3</text>
<path d="M192.60 267.70H207.90" stroke="#ff6868" stroke-width="1.40" stroke-opacity="0.8" stroke-dasharray="2.1 3.5"/>
<path d="M198.17 267.70L202.33 267.70M199.21 265.90L201.29 269.50M201.29 265.90L199.21 269.50" stroke="#ff6868" stroke-width="0.75" fill="none"/>
<text x="210.70" y="270.20" font-size="7.20" text-anchor="start" fill="#333" stroke="#333" font-weight="normal" >1:5:5</text>
<path d="M192.60 276.70H207.90" stroke="#4a8af5" stroke-width="1.40" stroke-opacity="0.8" stroke-dasharray="2.1 3.5"/>
<path d="M198.17 276.70L202.33 276.70M199.21 274.90L201.29 278.50M201.29 274.90L199.21 278.50" stroke="#4a8af5" stroke-width="0.75" fill="none"/>
<text x="210.70" y="279.20" font-size="7.20" text-anchor="start" fill="#333" stroke="#333" font-weight="normal" >3:1:3</text>
<path d="M192.60 285.70H207.90" stroke="#30b078" stroke-width="1.40" stroke-opacity="0.8" stroke-dasharray="2.1 3.5"/>
<path d="M198.17 285.70L202.33 285.70M199.21 283.90L201.29 287.50M201.29 283.90L199.21 287.50" stroke="#30b078" stroke-width="0.75" fill="none"/>
<text x="210.70" y="288.20" font-size="7.20" text-anchor="start" fill="#333" stroke="#333" font-weight="normal" >5:1:5</text>
<path d="M192.60 294.70H207.90" stroke="#bc80f5" stroke-width="1.40" stroke-opacity="0.8" stroke-dasharray="2.1 3.5"/>
<path d="M198.17 294.70L202.33 294.70M199.21 292.90L201.29 296.50M201.29 292.90L199.21 296.50" stroke="#bc80f5" stroke-width="0.75" fill="none"/>
<text x="210.70" y="297.20" font-size="7.20" text-anchor="start" fill="#333" stroke="#333" font-weight="normal" >3:3:1</text>
<path d="M192.60 303.70H207.90" stroke="#e6ad3a" stroke-width="1.40" stroke-opacity="0.8" stroke-dasharray="2.1 3.5"/>
<path d="M198.17 303.70L202.33 303.70M199.21 301.90L201.29 305.50M201.29 301.90L199.21 305.50" stroke="#e6ad3a" stroke-width="0.75" fill="none"/>
<text x="210.70" y="306.20" font-size="7.20" text-anchor="start" fill="#333" stroke="#333" font-weight="normal" >5:5:1</text>
<path d="M192.60 312.70H207.90" stroke="#ff4646" stroke-width="1.4" stroke-opacity="0.75"/>
<path d="M198.75 311.20L201.75 314.20M198.75 314.20L201.75 311.20" stroke="#ff4646" stroke-width="0.6" fill="none"/>
<text x="210.70" y="315.20" font-size="7.20" text-anchor="start" fill="#333" stroke="#333" font-weight="normal" >Coal fines</text>
<text x="206.70" y="324.20" font-size="7.20" text-anchor="start" fill="#333" stroke="#333" font-weight="normal" >content/%</text>
<path d="M204.50 327.50L143.63 277.65" stroke="#0a14ff" stroke-width="1.6"/><polygon points="139.30,274.10 146.70,277.06 144.59,278.43 143.66,280.77" fill="#0a14ff"/>
<path d="M300.40 200.20H523.50" stroke="#555" stroke-width="1.0"/>
<path d="M303.00 351.50V354.30" stroke="#555" stroke-width="0.8"/>
<text transform="translate(303.00 361.00) scale(0.920 1)" font-size="6.70" text-anchor="middle" fill="#3a3a3a" stroke="#3a3a3a">0</text>
<path d="M310.35 351.50V353.00" stroke="#555" stroke-width="0.8"/>
<path d="M317.70 351.50V354.30" stroke="#555" stroke-width="0.8"/>
<text transform="translate(317.70 361.00) scale(0.920 1)" font-size="6.70" text-anchor="middle" fill="#3a3a3a" stroke="#3a3a3a">5</text>
<path d="M325.05 351.50V353.00" stroke="#555" stroke-width="0.8"/>
<path d="M332.40 351.50V354.30" stroke="#555" stroke-width="0.8"/>
<text transform="translate(332.40 361.00) scale(0.920 1)" font-size="6.70" text-anchor="middle" fill="#3a3a3a" stroke="#3a3a3a">10</text>
<path d="M339.75 351.50V353.00" stroke="#555" stroke-width="0.8"/>
<path d="M347.10 351.50V354.30" stroke="#555" stroke-width="0.8"/>
<text transform="translate(347.10 361.00) scale(0.920 1)" font-size="6.70" text-anchor="middle" fill="#3a3a3a" stroke="#3a3a3a">15</text>
<path d="M354.45 351.50V353.00" stroke="#555" stroke-width="0.8"/>
<path d="M361.80 351.50V354.30" stroke="#555" stroke-width="0.8"/>
<text transform="translate(361.80 361.00) scale(0.920 1)" font-size="6.70" text-anchor="middle" fill="#3a3a3a" stroke="#3a3a3a">20</text>
<path d="M369.15 351.50V353.00" stroke="#555" stroke-width="0.8"/>
<path d="M376.50 351.50V354.30" stroke="#555" stroke-width="0.8"/>
<text transform="translate(376.50 361.00) scale(0.920 1)" font-size="6.70" text-anchor="middle" fill="#3a3a3a" stroke="#3a3a3a">25</text>
<path d="M383.85 351.50V353.00" stroke="#555" stroke-width="0.8"/>
<path d="M391.20 351.50V354.30" stroke="#555" stroke-width="0.8"/>
<text transform="translate(391.20 361.00) scale(0.920 1)" font-size="6.70" text-anchor="middle" fill="#3a3a3a" stroke="#3a3a3a">30</text>
<path d="M398.55 351.50V353.00" stroke="#555" stroke-width="0.8"/>
<path d="M405.90 351.50V354.30" stroke="#555" stroke-width="0.8"/>
<text transform="translate(405.90 361.00) scale(0.920 1)" font-size="6.70" text-anchor="middle" fill="#3a3a3a" stroke="#3a3a3a">35</text>
<path d="M413.25 351.50V353.00" stroke="#555" stroke-width="0.8"/>
<path d="M420.60 351.50V354.30" stroke="#555" stroke-width="0.8"/>
<text transform="translate(420.60 361.00) scale(0.920 1)" font-size="6.70" text-anchor="middle" fill="#3a3a3a" stroke="#3a3a3a">40</text>
<path d="M427.95 351.50V353.00" stroke="#555" stroke-width="0.8"/>
<path d="M435.30 351.50V354.30" stroke="#555" stroke-width="0.8"/>
<text transform="translate(435.30 361.00) scale(0.920 1)" font-size="6.70" text-anchor="middle" fill="#3a3a3a" stroke="#3a3a3a">45</text>
<path d="M442.65 351.50V353.00" stroke="#555" stroke-width="0.8"/>
<path d="M450.00 351.50V354.30" stroke="#555" stroke-width="0.8"/>
<text transform="translate(450.00 361.00) scale(0.920 1)" font-size="6.70" text-anchor="middle" fill="#3a3a3a" stroke="#3a3a3a">50</text>
<path d="M457.35 351.50V353.00" stroke="#555" stroke-width="0.8"/>
<path d="M464.70 351.50V354.30" stroke="#555" stroke-width="0.8"/>
<text transform="translate(464.70 361.00) scale(0.920 1)" font-size="6.70" text-anchor="middle" fill="#3a3a3a" stroke="#3a3a3a">55</text>
<path d="M472.05 351.50V353.00" stroke="#555" stroke-width="0.8"/>
<path d="M479.40 351.50V354.30" stroke="#555" stroke-width="0.8"/>
<text transform="translate(479.40 361.00) scale(0.920 1)" font-size="6.70" text-anchor="middle" fill="#3a3a3a" stroke="#3a3a3a">60</text>
<path d="M486.75 351.50V353.00" stroke="#555" stroke-width="0.8"/>
<path d="M494.10 351.50V354.30" stroke="#555" stroke-width="0.8"/>
<text transform="translate(494.10 361.00) scale(0.920 1)" font-size="6.70" text-anchor="middle" fill="#3a3a3a" stroke="#3a3a3a">65</text>
<path d="M501.45 351.50V353.00" stroke="#555" stroke-width="0.8"/>
<path d="M508.80 351.50V354.30" stroke="#555" stroke-width="0.8"/>
<text transform="translate(508.80 361.00) scale(0.920 1)" font-size="6.70" text-anchor="middle" fill="#3a3a3a" stroke="#3a3a3a">70</text>
<path d="M516.15 351.50V353.00" stroke="#555" stroke-width="0.8"/>
<path d="M523.50 351.50V354.30" stroke="#555" stroke-width="0.8"/>
<text transform="translate(523.50 361.00) scale(0.920 1)" font-size="6.70" text-anchor="middle" fill="#3a3a3a" stroke="#3a3a3a">75</text>
<path d="M303.00 351.50H300.20" stroke="#555" stroke-width="0.8"/>
<text transform="translate(298.10 353.50) scale(0.920 1)" font-size="6.70" text-anchor="end" fill="#3a3a3a" stroke="#3a3a3a">0</text>
<path d="M303.00 340.69H301.50" stroke="#555" stroke-width="0.8"/>
<path d="M303.00 329.89H300.20" stroke="#555" stroke-width="0.8"/>
<text transform="translate(298.10 331.89) scale(0.920 1)" font-size="6.70" text-anchor="end" fill="#3a3a3a" stroke="#3a3a3a">20</text>
<path d="M303.00 319.08H301.50" stroke="#555" stroke-width="0.8"/>
<path d="M303.00 308.27H300.20" stroke="#555" stroke-width="0.8"/>
<text transform="translate(298.10 310.27) scale(0.920 1)" font-size="6.70" text-anchor="end" fill="#3a3a3a" stroke="#3a3a3a">40</text>
<path d="M303.00 297.46H301.50" stroke="#555" stroke-width="0.8"/>
<path d="M303.00 286.66H300.20" stroke="#555" stroke-width="0.8"/>
<text transform="translate(298.10 288.66) scale(0.920 1)" font-size="6.70" text-anchor="end" fill="#3a3a3a" stroke="#3a3a3a">60</text>
<path d="M303.00 275.85H301.50" stroke="#555" stroke-width="0.8"/>
<path d="M303.00 265.04H300.20" stroke="#555" stroke-width="0.8"/>
<text transform="translate(298.10 267.04) scale(0.920 1)" font-size="6.70" text-anchor="end" fill="#3a3a3a" stroke="#3a3a3a">80</text>
<path d="M303.00 254.24H301.50" stroke="#555" stroke-width="0.8"/>
<path d="M303.00 243.43H300.20" stroke="#555" stroke-width="0.8"/>
<text transform="translate(298.10 245.43) scale(0.920 1)" font-size="6.70" text-anchor="end" fill="#3a3a3a" stroke="#3a3a3a">100</text>
<path d="M303.00 232.62H301.50" stroke="#555" stroke-width="0.8"/>
<path d="M303.00 221.81H300.20" stroke="#555" stroke-width="0.8"/>
<text transform="translate(298.10 223.81) scale(0.920 1)" font-size="6.70" text-anchor="end" fill="#3a3a3a" stroke="#3a3a3a">120</text>
<path d="M303.00 211.01H301.50" stroke="#555" stroke-width="0.8"/>
<path d="M303.00 200.20H300.20" stroke="#555" stroke-width="0.8"/>
<text transform="translate(298.10 202.20) scale(0.920 1)" font-size="6.70" text-anchor="end" fill="#3a3a3a" stroke="#3a3a3a">140</text>
<path d="M523.50 351.50H526.70" stroke="#ff4646" stroke-width="0.9"/>
<text transform="translate(528.80 353.50) scale(0.920 1)" font-size="6.70" text-anchor="start" fill="#ff4646" stroke="#ff4646">0</text>
<path d="M523.50 343.94H525.40" stroke="#ff4646" stroke-width="0.9"/>
<path d="M523.50 336.37H526.70" stroke="#ff4646" stroke-width="0.9"/>
<text transform="translate(528.80 338.37) scale(0.920 1)" font-size="6.70" text-anchor="start" fill="#ff4646" stroke="#ff4646">1</text>
<path d="M523.50 328.81H525.40" stroke="#ff4646" stroke-width="0.9"/>
<path d="M523.50 321.24H526.70" stroke="#ff4646" stroke-width="0.9"/>
<text transform="translate(528.80 323.24) scale(0.920 1)" font-size="6.70" text-anchor="start" fill="#ff4646" stroke="#ff4646">2</text>
<path d="M523.50 313.68H525.40" stroke="#ff4646" stroke-width="0.9"/>
<path d="M523.50 306.11H526.70" stroke="#ff4646" stroke-width="0.9"/>
<text transform="translate(528.80 308.11) scale(0.920 1)" font-size="6.70" text-anchor="start" fill="#ff4646" stroke="#ff4646">3</text>
<path d="M523.50 298.55H525.40" stroke="#ff4646" stroke-width="0.9"/>
<path d="M523.50 290.98H526.70" stroke="#ff4646" stroke-width="0.9"/>
<text transform="translate(528.80 292.98) scale(0.920 1)" font-size="6.70" text-anchor="start" fill="#ff4646" stroke="#ff4646">4</text>
<path d="M523.50 283.41H525.40" stroke="#ff4646" stroke-width="0.9"/>
<path d="M523.50 275.85H526.70" stroke="#ff4646" stroke-width="0.9"/>
<text transform="translate(528.80 277.85) scale(0.920 1)" font-size="6.70" text-anchor="start" fill="#ff4646" stroke="#ff4646">5</text>
<path d="M523.50 268.28H525.40" stroke="#ff4646" stroke-width="0.9"/>
<path d="M523.50 260.72H526.70" stroke="#ff4646" stroke-width="0.9"/>
<text transform="translate(528.80 262.72) scale(0.920 1)" font-size="6.70" text-anchor="start" fill="#ff4646" stroke="#ff4646">6</text>
<path d="M523.50 253.16H525.40" stroke="#ff4646" stroke-width="0.9"/>
<path d="M523.50 245.59H526.70" stroke="#ff4646" stroke-width="0.9"/>
<text transform="translate(528.80 247.59) scale(0.920 1)" font-size="6.70" text-anchor="start" fill="#ff4646" stroke="#ff4646">7</text>
<path d="M523.50 238.03H525.40" stroke="#ff4646" stroke-width="0.9"/>
<path d="M523.50 230.46H526.70" stroke="#ff4646" stroke-width="0.9"/>
<text transform="translate(528.80 232.46) scale(0.920 1)" font-size="6.70" text-anchor="start" fill="#ff4646" stroke="#ff4646">8</text>
<path d="M523.50 222.89H525.40" stroke="#ff4646" stroke-width="0.9"/>
<path d="M523.50 215.33H526.70" stroke="#ff4646" stroke-width="0.9"/>
<text transform="translate(528.80 217.33) scale(0.920 1)" font-size="6.70" text-anchor="start" fill="#ff4646" stroke="#ff4646">9</text>
<path d="M523.50 207.76H525.40" stroke="#ff4646" stroke-width="0.9"/>
<path d="M523.50 200.20H526.70" stroke="#ff4646" stroke-width="0.9"/>
<text transform="translate(528.80 202.20) scale(0.920 1)" font-size="6.70" text-anchor="start" fill="#ff4646" stroke="#ff4646">10</text>
<path d="M303.00 200.20V351.50" stroke="#999999" stroke-width="1.4"/>
<path d="M523.50 200.20V351.50" stroke="#ff4646" stroke-width="1"/>
<path d="M302.30 351.60H523.50" stroke="#8e8e8e" stroke-width="1.6"/>
<defs><clipPath id="clipd"><rect x="303.00" y="200.20" width="220.50" height="152.30"/></clipPath></defs>
<g clip-path="url(#clipd)">
<polyline points="303.00,272.61 320.64,282.44 338.28,289.90 355.92,295.30 373.56,298.98 391.20,302.98 408.84,309.03 426.48,318.43 444.12,328.59 461.76,336.05 479.40,339.72 497.04,340.91 514.68,341.88" fill="none" stroke="#505050" stroke-width="1.00" />
<polyline points="303.00,320.05 320.64,324.37 338.28,328.59 355.92,332.05 373.56,334.64 391.20,337.02 408.84,339.29 426.48,344.04 444.12,346.85 461.76,348.47 479.40,349.23 497.04,349.45 514.68,349.55" fill="none" stroke="#606060" stroke-width="1.00" stroke-dasharray="3.0 1.5 0.9 1.5"/>
<polyline points="303.00,315.08 320.64,320.05 338.28,324.37 355.92,327.62 373.56,330.43 391.20,332.37 408.84,334.53 426.48,339.07 444.12,341.88 461.76,343.50 479.40,346.20 497.04,347.07 514.68,347.50" fill="none" stroke="#ff6868" stroke-width="1.00" stroke-dasharray="3.0 1.5 0.9 1.5"/>
<polyline points="303.00,287.41 320.64,295.41 338.28,302.00 355.92,307.41 373.56,311.19 391.20,315.51 408.84,320.59 426.48,329.56 444.12,339.18 461.76,344.37 479.40,347.93 497.04,348.69 514.68,349.12" fill="none" stroke="#4a8af5" stroke-width="1.00" stroke-dasharray="3.0 1.5 0.9 1.5"/>
<polyline points="303.00,265.58 320.64,274.34 338.28,281.58 355.92,286.66 373.56,290.01 391.20,293.14 408.84,298.55 426.48,307.84 444.12,322.32 461.76,333.56 479.40,337.45 497.04,339.07 514.68,339.61" fill="none" stroke="#30b078" stroke-width="1.00" stroke-dasharray="3.0 1.5 0.9 1.5"/>
<polyline points="303.00,268.61 320.64,277.80 338.28,285.14 355.92,290.12 373.56,294.11 391.20,297.46 408.84,302.11 426.48,310.43 444.12,324.48 461.76,335.83 479.40,342.96 497.04,345.23 514.68,346.10" fill="none" stroke="#bc80f5" stroke-width="1.00" stroke-dasharray="3.0 1.5 0.9 1.5"/>
<polyline points="303.00,263.10 320.64,272.39 338.28,279.42 355.92,285.14 373.56,288.28 391.20,291.63 408.84,297.46 426.48,308.49 444.12,322.86 461.76,335.29 479.40,342.96 497.04,344.91 514.68,345.56" fill="none" stroke="#e6ad3a" stroke-width="1.00" stroke-dasharray="3.0 1.5 0.9 1.5"/>
<rect x="301.62" y="271.23" width="2.76" height="2.76" fill="#1e1e1e"/>
<rect x="319.26" y="281.06" width="2.76" height="2.76" fill="#1e1e1e"/>
<rect x="336.90" y="288.52" width="2.76" height="2.76" fill="#1e1e1e"/>
<rect x="354.54" y="293.92" width="2.76" height="2.76" fill="#1e1e1e"/>
<rect x="372.18" y="297.60" width="2.76" height="2.76" fill="#1e1e1e"/>
<rect x="389.82" y="301.60" width="2.76" height="2.76" fill="#1e1e1e"/>
<rect x="407.46" y="307.65" width="2.76" height="2.76" fill="#1e1e1e"/>
<rect x="425.10" y="317.05" width="2.76" height="2.76" fill="#1e1e1e"/>
<rect x="442.74" y="327.21" width="2.76" height="2.76" fill="#1e1e1e"/>
<rect x="460.38" y="334.67" width="2.76" height="2.76" fill="#1e1e1e"/>
<rect x="478.02" y="338.34" width="2.76" height="2.76" fill="#1e1e1e"/>
<rect x="495.66" y="339.53" width="2.76" height="2.76" fill="#1e1e1e"/>
<rect x="513.30" y="340.50" width="2.76" height="2.76" fill="#1e1e1e"/>
<rect x="301.73" y="318.78" width="2.55" height="2.55" fill="#606060"/><path d="M303.00 317.88V322.23" stroke="#606060" stroke-width="0.7"/>
<rect x="319.37" y="323.10" width="2.55" height="2.55" fill="#606060"/><path d="M320.64 322.20V326.55" stroke="#606060" stroke-width="0.7"/>
<rect x="337.00" y="327.31" width="2.55" height="2.55" fill="#606060"/><path d="M338.28 326.41V330.76" stroke="#606060" stroke-width="0.7"/>
<rect x="354.65" y="330.77" width="2.55" height="2.55" fill="#606060"/><path d="M355.92 329.87V334.22" stroke="#606060" stroke-width="0.7"/>
<rect x="372.29" y="333.37" width="2.55" height="2.55" fill="#606060"/><path d="M373.56 332.47V336.82" stroke="#606060" stroke-width="0.7"/>
<rect x="389.93" y="335.74" width="2.55" height="2.55" fill="#606060"/><path d="M391.20 334.84V339.19" stroke="#606060" stroke-width="0.7"/>
<rect x="407.57" y="338.01" width="2.55" height="2.55" fill="#606060"/><path d="M408.84 337.11V341.46" stroke="#606060" stroke-width="0.7"/>
<rect x="425.21" y="342.77" width="2.55" height="2.55" fill="#606060"/><path d="M426.48 341.87V346.22" stroke="#606060" stroke-width="0.7"/>
<rect x="442.85" y="345.58" width="2.55" height="2.55" fill="#606060"/><path d="M444.12 344.68V349.03" stroke="#606060" stroke-width="0.7"/>
<rect x="460.49" y="347.20" width="2.55" height="2.55" fill="#606060"/><path d="M461.76 346.30V350.65" stroke="#606060" stroke-width="0.7"/>
<rect x="478.12" y="347.96" width="2.55" height="2.55" fill="#606060"/><path d="M479.40 347.06V351.41" stroke="#606060" stroke-width="0.7"/>
<rect x="495.76" y="348.17" width="2.55" height="2.55" fill="#606060"/><path d="M497.04 347.27V351.62" stroke="#606060" stroke-width="0.7"/>
<rect x="513.41" y="348.28" width="2.55" height="2.55" fill="#606060"/><path d="M514.68 347.38V351.73" stroke="#606060" stroke-width="0.7"/>
<polygon points="304.95,315.08 302.02,316.77 302.02,313.39" fill="#ff6868"/><path d="M302.80 312.90V317.25" stroke="#ff6868" stroke-width="0.7"/>
<polygon points="322.59,320.05 319.66,321.74 319.66,318.36" fill="#ff6868"/><path d="M320.44 317.88V322.23" stroke="#ff6868" stroke-width="0.7"/>
<polygon points="340.23,324.37 337.30,326.06 337.30,322.69" fill="#ff6868"/><path d="M338.08 322.20V326.55" stroke="#ff6868" stroke-width="0.7"/>
<polygon points="357.87,327.62 354.94,329.30 354.94,325.93" fill="#ff6868"/><path d="M355.72 325.44V329.79" stroke="#ff6868" stroke-width="0.7"/>
<polygon points="375.51,330.43 372.58,332.11 372.58,328.74" fill="#ff6868"/><path d="M373.36 328.25V332.60" stroke="#ff6868" stroke-width="0.7"/>
<polygon points="393.15,332.37 390.22,334.06 390.22,330.68" fill="#ff6868"/><path d="M391.00 330.20V334.55" stroke="#ff6868" stroke-width="0.7"/>
<polygon points="410.79,334.53 407.87,336.22 407.87,332.84" fill="#ff6868"/><path d="M408.64 332.36V336.71" stroke="#ff6868" stroke-width="0.7"/>
<polygon points="428.43,339.07 425.50,340.76 425.50,337.38" fill="#ff6868"/><path d="M426.28 336.90V341.25" stroke="#ff6868" stroke-width="0.7"/>
<polygon points="446.07,341.88 443.14,343.57 443.14,340.19" fill="#ff6868"/><path d="M443.92 339.71V344.06" stroke="#ff6868" stroke-width="0.7"/>
<polygon points="463.71,343.50 460.78,345.19 460.78,341.81" fill="#ff6868"/><path d="M461.56 341.33V345.68" stroke="#ff6868" stroke-width="0.7"/>
<polygon points="481.35,346.20 478.42,347.89 478.42,344.52" fill="#ff6868"/><path d="M479.20 344.03V348.38" stroke="#ff6868" stroke-width="0.7"/>
<polygon points="498.99,347.07 496.06,348.76 496.06,345.38" fill="#ff6868"/><path d="M496.84 344.89V349.24" stroke="#ff6868" stroke-width="0.7"/>
<polygon points="516.63,347.50 513.71,349.19 513.71,345.81" fill="#ff6868"/><path d="M514.48 345.33V349.68" stroke="#ff6868" stroke-width="0.7"/>
<polygon points="303.00,285.46 304.69,288.39 301.31,288.39" fill="#4a8af5"/><path d="M302.80 285.24V289.59" stroke="#4a8af5" stroke-width="0.7"/>
<polygon points="320.64,293.46 322.33,296.39 318.95,296.39" fill="#4a8af5"/><path d="M320.44 293.24V297.59" stroke="#4a8af5" stroke-width="0.7"/>
<polygon points="338.28,300.05 339.97,302.98 336.59,302.98" fill="#4a8af5"/><path d="M338.08 299.83V304.18" stroke="#4a8af5" stroke-width="0.7"/>
<polygon points="355.92,305.46 357.61,308.38 354.23,308.38" fill="#4a8af5"/><path d="M355.72 305.23V309.58" stroke="#4a8af5" stroke-width="0.7"/>
<polygon points="373.56,309.24 375.25,312.16 371.87,312.16" fill="#4a8af5"/><path d="M373.36 309.01V313.36" stroke="#4a8af5" stroke-width="0.7"/>
<polygon points="391.20,313.56 392.89,316.49 389.51,316.49" fill="#4a8af5"/><path d="M391.00 313.34V317.69" stroke="#4a8af5" stroke-width="0.7"/>
<polygon points="408.84,318.64 410.53,321.57 407.15,321.57" fill="#4a8af5"/><path d="M408.64 318.42V322.77" stroke="#4a8af5" stroke-width="0.7"/>
<polygon points="426.48,327.61 428.17,330.54 424.79,330.54" fill="#4a8af5"/><path d="M426.28 327.39V331.74" stroke="#4a8af5" stroke-width="0.7"/>
<polygon points="444.12,337.23 445.81,340.15 442.43,340.15" fill="#4a8af5"/><path d="M443.92 337.00V341.35" stroke="#4a8af5" stroke-width="0.7"/>
<polygon points="461.76,342.42 463.45,345.34 460.07,345.34" fill="#4a8af5"/><path d="M461.56 342.19V346.54" stroke="#4a8af5" stroke-width="0.7"/>
<polygon points="479.40,345.98 481.09,348.91 477.71,348.91" fill="#4a8af5"/><path d="M479.20 345.76V350.11" stroke="#4a8af5" stroke-width="0.7"/>
<polygon points="497.04,346.74 498.73,349.67 495.35,349.67" fill="#4a8af5"/><path d="M496.84 346.52V350.87" stroke="#4a8af5" stroke-width="0.7"/>
<polygon points="514.68,347.17 516.37,350.10 512.99,350.10" fill="#4a8af5"/><path d="M514.48 346.95V351.30" stroke="#4a8af5" stroke-width="0.7"/>
<polygon points="303.00,267.53 301.31,264.61 304.69,264.61" fill="#30b078"/><path d="M302.80 263.41V267.76" stroke="#30b078" stroke-width="0.7"/>
<polygon points="320.64,276.29 318.95,273.36 322.33,273.36" fill="#30b078"/><path d="M320.44 272.16V276.51" stroke="#30b078" stroke-width="0.7"/>
<polygon points="338.28,283.53 336.59,280.60 339.97,280.60" fill="#30b078"/><path d="M338.08 279.40V283.75" stroke="#30b078" stroke-width="0.7"/>
<polygon points="355.92,288.61 354.23,285.68 357.61,285.68" fill="#30b078"/><path d="M355.72 284.48V288.83" stroke="#30b078" stroke-width="0.7"/>
<polygon points="373.56,291.96 371.87,289.03 375.25,289.03" fill="#30b078"/><path d="M373.36 287.83V292.18" stroke="#30b078" stroke-width="0.7"/>
<polygon points="391.20,295.09 389.51,292.17 392.89,292.17" fill="#30b078"/><path d="M391.00 290.97V295.32" stroke="#30b078" stroke-width="0.7"/>
<polygon points="408.84,300.50 407.15,297.57 410.53,297.57" fill="#30b078"/><path d="M408.64 296.37V300.72" stroke="#30b078" stroke-width="0.7"/>
<polygon points="426.48,309.79 424.79,306.86 428.17,306.86" fill="#30b078"/><path d="M426.28 305.66V310.01" stroke="#30b078" stroke-width="0.7"/>
<polygon points="444.12,324.27 442.43,321.35 445.81,321.35" fill="#30b078"/><path d="M443.92 320.15V324.50" stroke="#30b078" stroke-width="0.7"/>
<polygon points="461.76,335.51 460.07,332.59 463.45,332.59" fill="#30b078"/><path d="M461.56 331.39V335.74" stroke="#30b078" stroke-width="0.7"/>
<polygon points="479.40,339.40 477.71,336.48 481.09,336.48" fill="#30b078"/><path d="M479.20 335.28V339.63" stroke="#30b078" stroke-width="0.7"/>
<polygon points="497.04,341.02 495.35,338.10 498.73,338.10" fill="#30b078"/><path d="M496.84 336.90V341.25" stroke="#30b078" stroke-width="0.7"/>
<polygon points="514.68,341.56 512.99,338.64 516.37,338.64" fill="#30b078"/><path d="M514.48 337.44V341.79" stroke="#30b078" stroke-width="0.7"/>
<polygon points="304.95,268.61 302.02,270.30 302.02,266.92" fill="#bc80f5"/><path d="M302.80 266.43V270.78" stroke="#bc80f5" stroke-width="0.7"/>
<polygon points="322.59,277.80 319.66,279.48 319.66,276.11" fill="#bc80f5"/><path d="M320.44 275.62V279.97" stroke="#bc80f5" stroke-width="0.7"/>
<polygon points="340.23,285.14 337.30,286.83 337.30,283.46" fill="#bc80f5"/><path d="M338.08 282.97V287.32" stroke="#bc80f5" stroke-width="0.7"/>
<polygon points="357.87,290.12 354.94,291.80 354.94,288.43" fill="#bc80f5"/><path d="M355.72 287.94V292.29" stroke="#bc80f5" stroke-width="0.7"/>
<polygon points="375.51,294.11 372.58,295.80 372.58,292.43" fill="#bc80f5"/><path d="M373.36 291.94V296.29" stroke="#bc80f5" stroke-width="0.7"/>
<polygon points="393.15,297.46 390.22,299.15 390.22,295.78" fill="#bc80f5"/><path d="M391.00 295.29V299.64" stroke="#bc80f5" stroke-width="0.7"/>
<polygon points="410.79,302.11 407.87,303.80 407.87,300.42" fill="#bc80f5"/><path d="M408.64 299.94V304.29" stroke="#bc80f5" stroke-width="0.7"/>
<polygon points="428.43,310.43 425.50,312.12 425.50,308.74" fill="#bc80f5"/><path d="M426.28 308.26V312.61" stroke="#bc80f5" stroke-width="0.7"/>
<polygon points="446.07,324.48 443.14,326.17 443.14,322.79" fill="#bc80f5"/><path d="M443.92 322.31V326.66" stroke="#bc80f5" stroke-width="0.7"/>
<polygon points="463.71,335.83 460.78,337.52 460.78,334.14" fill="#bc80f5"/><path d="M461.56 333.65V338.00" stroke="#bc80f5" stroke-width="0.7"/>
<polygon points="481.35,342.96 478.42,344.65 478.42,341.27" fill="#bc80f5"/><path d="M479.20 340.79V345.14" stroke="#bc80f5" stroke-width="0.7"/>
<polygon points="498.99,345.23 496.06,346.92 496.06,343.54" fill="#bc80f5"/><path d="M496.84 343.06V347.41" stroke="#bc80f5" stroke-width="0.7"/>
<polygon points="516.63,346.10 513.71,347.79 513.71,344.41" fill="#bc80f5"/><path d="M514.48 343.92V348.27" stroke="#bc80f5" stroke-width="0.7"/>
<path d="M301.80 260.85H304.20M303.00 260.85V265.35M301.80 265.35H304.20" stroke="#e6ad3a" stroke-width="0.8" fill="none"/><rect x="302.15" y="261.75" width="1.7" height="2.70" fill="#e6ad3a"/>
<path d="M319.44 270.14H321.84M320.64 270.14V274.64M319.44 274.64H321.84" stroke="#e6ad3a" stroke-width="0.8" fill="none"/><rect x="319.79" y="271.04" width="1.7" height="2.70" fill="#e6ad3a"/>
<path d="M337.08 277.17H339.48M338.28 277.17V281.67M337.08 281.67H339.48" stroke="#e6ad3a" stroke-width="0.8" fill="none"/><rect x="337.43" y="278.07" width="1.7" height="2.70" fill="#e6ad3a"/>
<path d="M354.72 282.89H357.12M355.92 282.89V287.39M354.72 287.39H357.12" stroke="#e6ad3a" stroke-width="0.8" fill="none"/><rect x="355.07" y="283.79" width="1.7" height="2.70" fill="#e6ad3a"/>
<path d="M372.36 286.03H374.76M373.56 286.03V290.53M372.36 290.53H374.76" stroke="#e6ad3a" stroke-width="0.8" fill="none"/><rect x="372.71" y="286.93" width="1.7" height="2.70" fill="#e6ad3a"/>
<path d="M390.00 289.38H392.40M391.20 289.38V293.88M390.00 293.88H392.40" stroke="#e6ad3a" stroke-width="0.8" fill="none"/><rect x="390.35" y="290.28" width="1.7" height="2.70" fill="#e6ad3a"/>
<path d="M407.64 295.21H410.04M408.84 295.21V299.71M407.64 299.71H410.04" stroke="#e6ad3a" stroke-width="0.8" fill="none"/><rect x="407.99" y="296.11" width="1.7" height="2.70" fill="#e6ad3a"/>
<path d="M425.28 306.24H427.68M426.48 306.24V310.74M425.28 310.74H427.68" stroke="#e6ad3a" stroke-width="0.8" fill="none"/><rect x="425.63" y="307.14" width="1.7" height="2.70" fill="#e6ad3a"/>
<path d="M442.92 320.61H445.32M444.12 320.61V325.11M442.92 325.11H445.32" stroke="#e6ad3a" stroke-width="0.8" fill="none"/><rect x="443.27" y="321.51" width="1.7" height="2.70" fill="#e6ad3a"/>
<path d="M460.56 333.04H462.96M461.76 333.04V337.54M460.56 337.54H462.96" stroke="#e6ad3a" stroke-width="0.8" fill="none"/><rect x="460.91" y="333.94" width="1.7" height="2.70" fill="#e6ad3a"/>
<path d="M478.20 340.71H480.60M479.40 340.71V345.21M478.20 345.21H480.60" stroke="#e6ad3a" stroke-width="0.8" fill="none"/><rect x="478.55" y="341.61" width="1.7" height="2.70" fill="#e6ad3a"/>
<path d="M495.84 342.66H498.24M497.04 342.66V347.16M495.84 347.16H498.24" stroke="#e6ad3a" stroke-width="0.8" fill="none"/><rect x="496.19" y="343.56" width="1.7" height="2.70" fill="#e6ad3a"/>
<path d="M513.48 343.31H515.88M514.68 343.31V347.81M513.48 347.81H515.88" stroke="#e6ad3a" stroke-width="0.8" fill="none"/><rect x="513.83" y="344.21" width="1.7" height="2.70" fill="#e6ad3a"/>
<rect x="478.20" y="335.20" width="37.40" height="11.60" fill="#ff8a8a" fill-opacity="0.45" stroke="#f79090" stroke-width="0.8"/>
<polyline points="303.00,351.50 320.64,351.05 338.28,349.99 355.92,348.47 373.56,346.20 391.20,339.40 408.84,315.94 426.48,275.85 444.12,253.16 461.76,244.83 479.40,241.50 497.04,240.45 514.68,239.54" fill="none" stroke="#ff4646" stroke-width="1"/>
<path d="M301.50 350.00L304.50 353.00M301.50 353.00L304.50 350.00" stroke="#ff4646" stroke-width="0.6" fill="none"/>
<path d="M319.14 349.55L322.14 352.55M319.14 352.55L322.14 349.55" stroke="#ff4646" stroke-width="0.6" fill="none"/>
<path d="M336.78 348.49L339.78 351.49M336.78 351.49L339.78 348.49" stroke="#ff4646" stroke-width="0.6" fill="none"/>
<path d="M354.42 346.97L357.42 349.97M354.42 349.97L357.42 346.97" stroke="#ff4646" stroke-width="0.6" fill="none"/>
<path d="M372.06 344.70L375.06 347.70M372.06 347.70L375.06 344.70" stroke="#ff4646" stroke-width="0.6" fill="none"/>
<path d="M389.70 337.90L392.70 340.90M389.70 340.90L392.70 337.90" stroke="#ff4646" stroke-width="0.6" fill="none"/>
<path d="M407.34 314.44L410.34 317.44M407.34 317.44L410.34 314.44" stroke="#ff4646" stroke-width="0.6" fill="none"/>
<path d="M424.98 274.35L427.98 277.35M424.98 277.35L427.98 274.35" stroke="#ff4646" stroke-width="0.6" fill="none"/>
<path d="M442.62 251.66L445.62 254.66M442.62 254.66L445.62 251.66" stroke="#ff4646" stroke-width="0.6" fill="none"/>
<path d="M460.26 243.33L463.26 246.33M460.26 246.33L463.26 243.33" stroke="#ff4646" stroke-width="0.6" fill="none"/>
<path d="M477.90 240.00L480.90 243.00M477.90 243.00L480.90 240.00" stroke="#ff4646" stroke-width="0.6" fill="none"/>
<path d="M495.54 238.95L498.54 241.95M495.54 241.95L498.54 238.95" stroke="#ff4646" stroke-width="0.6" fill="none"/>
<path d="M513.18 238.04L516.18 241.04M513.18 241.04L516.18 238.04" stroke="#ff4646" stroke-width="0.6" fill="none"/>
</g>
<rect x="329.70" y="204.10" width="99.80" height="55.80" fill="#fff" stroke="#6a6a6a" stroke-width="0.85"/>
<path d="M329.70 259.90V261.90" stroke="#666" stroke-width="0.6"/>
<text transform="translate(329.70 266.00) scale(0.900 1)" font-size="6.00" text-anchor="middle" fill="#444" stroke="#444">60</text>
<path d="M336.83 259.90V261.00" stroke="#666" stroke-width="0.6"/>
<path d="M343.96 259.90V261.90" stroke="#666" stroke-width="0.6"/>
<text transform="translate(343.96 266.00) scale(0.900 1)" font-size="6.00" text-anchor="middle" fill="#444" stroke="#444">62</text>
<path d="M351.09 259.90V261.00" stroke="#666" stroke-width="0.6"/>
<path d="M358.21 259.90V261.90" stroke="#666" stroke-width="0.6"/>
<text transform="translate(358.21 266.00) scale(0.900 1)" font-size="6.00" text-anchor="middle" fill="#444" stroke="#444">64</text>
<path d="M365.34 259.90V261.00" stroke="#666" stroke-width="0.6"/>
<path d="M372.47 259.90V261.90" stroke="#666" stroke-width="0.6"/>
<text transform="translate(372.47 266.00) scale(0.900 1)" font-size="6.00" text-anchor="middle" fill="#444" stroke="#444">66</text>
<path d="M379.60 259.90V261.00" stroke="#666" stroke-width="0.6"/>
<path d="M386.73 259.90V261.90" stroke="#666" stroke-width="0.6"/>
<text transform="translate(386.73 266.00) scale(0.900 1)" font-size="6.00" text-anchor="middle" fill="#444" stroke="#444">68</text>
<path d="M393.86 259.90V261.00" stroke="#666" stroke-width="0.6"/>
<path d="M400.99 259.90V261.90" stroke="#666" stroke-width="0.6"/>
<text transform="translate(400.99 266.00) scale(0.900 1)" font-size="6.00" text-anchor="middle" fill="#444" stroke="#444">70</text>
<path d="M408.11 259.90V261.00" stroke="#666" stroke-width="0.6"/>
<path d="M415.24 259.90V261.90" stroke="#666" stroke-width="0.6"/>
<text transform="translate(415.24 266.00) scale(0.900 1)" font-size="6.00" text-anchor="middle" fill="#444" stroke="#444">72</text>
<path d="M422.37 259.90V261.00" stroke="#666" stroke-width="0.6"/>
<path d="M429.50 259.90V261.90" stroke="#666" stroke-width="0.6"/>
<text transform="translate(429.50 266.00) scale(0.900 1)" font-size="6.00" text-anchor="middle" fill="#444" stroke="#444">74</text>
<path d="M329.70 254.54H327.70" stroke="#666" stroke-width="0.6"/>
<text transform="translate(327.10 256.54) scale(0.850 1)" font-size="6.00" text-anchor="end" fill="#444" stroke="#444">2</text>
<path d="M329.70 250.36H328.60" stroke="#666" stroke-width="0.6"/>
<path d="M329.70 246.17H327.70" stroke="#666" stroke-width="0.6"/>
<text transform="translate(327.10 248.17) scale(0.850 1)" font-size="6.00" text-anchor="end" fill="#444" stroke="#444">4</text>
<path d="M329.70 241.98H328.60" stroke="#666" stroke-width="0.6"/>
<path d="M329.70 237.80H327.70" stroke="#666" stroke-width="0.6"/>
<text transform="translate(327.10 239.80) scale(0.850 1)" font-size="6.00" text-anchor="end" fill="#444" stroke="#444">6</text>
<path d="M329.70 233.61H328.60" stroke="#666" stroke-width="0.6"/>
<path d="M329.70 229.43H327.70" stroke="#666" stroke-width="0.6"/>
<text transform="translate(327.10 231.43) scale(0.850 1)" font-size="6.00" text-anchor="end" fill="#444" stroke="#444">8</text>
<path d="M329.70 225.24H328.60" stroke="#666" stroke-width="0.6"/>
<path d="M329.70 221.05H327.70" stroke="#666" stroke-width="0.6"/>
<text transform="translate(327.10 223.05) scale(0.850 1)" font-size="6.00" text-anchor="end" fill="#444" stroke="#444">10</text>
<path d="M329.70 216.87H328.60" stroke="#666" stroke-width="0.6"/>
<path d="M329.70 212.68H327.70" stroke="#666" stroke-width="0.6"/>
<text transform="translate(327.10 214.68) scale(0.850 1)" font-size="6.00" text-anchor="end" fill="#444" stroke="#444">12</text>
<path d="M329.70 208.50H328.60" stroke="#666" stroke-width="0.6"/>
<path d="M329.70 204.31H327.70" stroke="#666" stroke-width="0.6"/>
<text transform="translate(327.10 206.31) scale(0.850 1)" font-size="6.00" text-anchor="end" fill="#444" stroke="#444">14</text>
<polyline points="329.70,217.29 372.47,221.89 415.24,225.66" fill="none" stroke="#505050" stroke-width="0.70" />
<rect x="328.50" y="216.09" width="2.39" height="2.39" fill="#1e1e1e"/>
<rect x="371.28" y="220.69" width="2.39" height="2.39" fill="#1e1e1e"/>
<rect x="414.05" y="224.46" width="2.39" height="2.39" fill="#1e1e1e"/>
<polyline points="329.70,254.12 372.47,254.96 415.24,255.38" fill="none" stroke="#606060" stroke-width="0.85" stroke-dasharray="2 1.2 0.8 1.2"/>
<rect x="328.43" y="252.85" width="2.55" height="2.55" fill="#606060"/><path d="M329.70 251.95V256.30" stroke="#606060" stroke-width="0.7"/>
<rect x="371.20" y="253.69" width="2.55" height="2.55" fill="#606060"/><path d="M372.47 252.79V257.14" stroke="#606060" stroke-width="0.7"/>
<rect x="413.97" y="254.10" width="2.55" height="2.55" fill="#606060"/><path d="M415.24 253.20V257.55" stroke="#606060" stroke-width="0.7"/>
<polyline points="329.70,242.40 372.47,245.75 415.24,247.43" fill="none" stroke="#ff6868" stroke-width="0.85" stroke-dasharray="2 1.2 0.8 1.2"/>
<polygon points="331.65,242.40 328.72,244.09 328.72,240.71" fill="#ff6868"/><path d="M329.50 240.23V244.58" stroke="#ff6868" stroke-width="0.7"/>
<polygon points="374.42,245.75 371.50,247.44 371.50,244.06" fill="#ff6868"/><path d="M372.27 243.58V247.93" stroke="#ff6868" stroke-width="0.7"/>
<polygon points="417.19,247.43 414.27,249.11 414.27,245.74" fill="#ff6868"/><path d="M415.04 245.25V249.60" stroke="#ff6868" stroke-width="0.7"/>
<polyline points="329.70,249.10 372.47,252.03 415.24,253.70" fill="none" stroke="#4a8af5" stroke-width="0.85" stroke-dasharray="2 1.2 0.8 1.2"/>
<polygon points="329.70,247.15 331.39,250.07 328.01,250.07" fill="#4a8af5"/><path d="M329.50 246.92V251.27" stroke="#4a8af5" stroke-width="0.7"/>
<polygon points="372.47,250.08 374.16,253.01 370.78,253.01" fill="#4a8af5"/><path d="M372.27 249.86V254.21" stroke="#4a8af5" stroke-width="0.7"/>
<polygon points="415.24,251.75 416.93,254.68 413.55,254.68" fill="#4a8af5"/><path d="M415.04 251.53V255.88" stroke="#4a8af5" stroke-width="0.7"/>
<polyline points="329.70,208.50 372.47,214.77 415.24,216.87" fill="none" stroke="#30b078" stroke-width="0.85" stroke-dasharray="2 1.2 0.8 1.2"/>
<polygon points="329.70,210.45 328.01,207.52 331.39,207.52" fill="#30b078"/><path d="M329.50 206.32V210.67" stroke="#30b078" stroke-width="0.7"/>
<polygon points="372.47,216.72 370.78,213.80 374.16,213.80" fill="#30b078"/><path d="M372.27 212.60V216.95" stroke="#30b078" stroke-width="0.7"/>
<polygon points="415.24,218.82 413.55,215.89 416.93,215.89" fill="#30b078"/><path d="M415.04 214.69V219.04" stroke="#30b078" stroke-width="0.7"/>
<polyline points="329.70,229.84 372.47,238.63 415.24,241.98" fill="none" stroke="#bc80f5" stroke-width="0.85" stroke-dasharray="2 1.2 0.8 1.2"/>
<polygon points="331.65,229.84 328.72,231.53 328.72,228.16" fill="#bc80f5"/><path d="M329.50 227.67V232.02" stroke="#bc80f5" stroke-width="0.7"/>
<polygon points="374.42,238.63 371.50,240.32 371.50,236.95" fill="#bc80f5"/><path d="M372.27 236.46V240.81" stroke="#bc80f5" stroke-width="0.7"/>
<polygon points="417.19,241.98 414.27,243.67 414.27,240.29" fill="#bc80f5"/><path d="M415.04 239.81V244.16" stroke="#bc80f5" stroke-width="0.7"/>
<polyline points="329.70,229.84 372.47,237.38 415.24,239.89" fill="none" stroke="#e6ad3a" stroke-width="0.85" stroke-dasharray="2 1.2 0.8 1.2"/>
<path d="M328.50 227.59H330.90M329.70 227.59V232.09M328.50 232.09H330.90" stroke="#e6ad3a" stroke-width="0.8" fill="none"/><rect x="328.85" y="228.49" width="1.7" height="2.70" fill="#e6ad3a"/>
<path d="M371.27 235.13H373.67M372.47 235.13V239.63M371.27 239.63H373.67" stroke="#e6ad3a" stroke-width="0.8" fill="none"/><rect x="371.62" y="236.03" width="1.7" height="2.70" fill="#e6ad3a"/>
<path d="M414.04 237.64H416.44M415.24 237.64V242.14M414.04 242.14H416.44" stroke="#e6ad3a" stroke-width="0.8" fill="none"/><rect x="414.39" y="238.54" width="1.7" height="2.70" fill="#e6ad3a"/>
<text transform="translate(310.39 231.50) rotate(-90)" font-size="7.30" text-anchor="middle" fill="#222" stroke="#222">Conductivity</text>
<text transform="translate(320.10 231.50) rotate(-90)" font-size="7.60" text-anchor="middle" fill="#222" stroke="#222">/(μm<tspan dy="-2.66" font-size="4.71">2</tspan><tspan dy="2.66">·cm)</tspan></text>
<text transform="translate(351.00 276.10) scale(0.87 1)" font-size="8.2" fill="#222" stroke="#222">Compaction time/h</text>
<path d="M465.40 249.90H481.30" stroke="#777" stroke-width="1.40" stroke-opacity="0.8" />
<circle cx="473.35" cy="249.90" r="1.6" fill="#1e1e1e"/>
<text x="483.00" y="252.40" font-size="7.20" text-anchor="start" fill="#333" stroke="#333" font-weight="normal" >1:1:1</text>
<path d="M465.40 258.90H481.30" stroke="#606060" stroke-width="1.40" stroke-opacity="0.8" stroke-dasharray="3.9 2.0 1.2 2.0"/>
<rect x="471.99" y="257.54" width="2.72" height="2.72" fill="#606060"/><path d="M473.35 256.58V261.22" stroke="#606060" stroke-width="0.7"/>
<text x="483.00" y="261.40" font-size="7.20" text-anchor="start" fill="#333" stroke="#333" font-weight="normal" >1:3:5</text>
<path d="M465.40 267.90H481.30" stroke="#ff6868" stroke-width="1.40" stroke-opacity="0.8" stroke-dasharray="3.9 2.0 1.2 2.0"/>
<polygon points="475.43,267.90 472.31,269.70 472.31,266.10" fill="#ff6868"/><path d="M473.15 265.58V270.22" stroke="#ff6868" stroke-width="0.7"/>
<text x="483.00" y="270.40" font-size="7.20" text-anchor="start" fill="#333" stroke="#333" font-weight="normal" >1:5:3</text>
<path d="M465.40 276.90H481.30" stroke="#4a8af5" stroke-width="1.40" stroke-opacity="0.8" stroke-dasharray="3.9 2.0 1.2 2.0"/>
<polygon points="473.35,274.82 475.15,277.94 471.55,277.94" fill="#4a8af5"/><path d="M473.15 274.58V279.22" stroke="#4a8af5" stroke-width="0.7"/>
<text x="483.00" y="279.40" font-size="7.20" text-anchor="start" fill="#333" stroke="#333" font-weight="normal" >3:1:5</text>
<path d="M465.40 285.90H481.30" stroke="#30b078" stroke-width="1.40" stroke-opacity="0.8" stroke-dasharray="3.9 2.0 1.2 2.0"/>
<polygon points="473.35,287.98 471.55,284.86 475.15,284.86" fill="#30b078"/><path d="M473.15 283.58V288.22" stroke="#30b078" stroke-width="0.7"/>
<text x="483.00" y="288.40" font-size="7.20" text-anchor="start" fill="#333" stroke="#333" font-weight="normal" >5:1:3</text>
<path d="M465.40 294.90H481.30" stroke="#bc80f5" stroke-width="1.40" stroke-opacity="0.8" stroke-dasharray="3.9 2.0 1.2 2.0"/>
<polygon points="475.43,294.90 472.31,296.70 472.31,293.10" fill="#bc80f5"/><path d="M473.15 292.58V297.22" stroke="#bc80f5" stroke-width="0.7"/>
<text x="483.00" y="297.40" font-size="7.20" text-anchor="start" fill="#333" stroke="#333" font-weight="normal" >3:5:1</text>
<path d="M465.40 303.90H481.30" stroke="#e6ad3a" stroke-width="1.40" stroke-opacity="0.8" stroke-dasharray="3.9 2.0 1.2 2.0"/>
<path d="M472.15 301.50H474.55M473.35 301.50V306.30M472.15 306.30H474.55" stroke="#e6ad3a" stroke-width="0.8" fill="none"/><rect x="472.50" y="302.46" width="1.7" height="2.88" fill="#e6ad3a"/>
<text x="483.00" y="306.40" font-size="7.20" text-anchor="start" fill="#333" stroke="#333" font-weight="normal" >5:3:1</text>
<path d="M465.40 312.90H481.30" stroke="#ff4646" stroke-width="1.4" stroke-opacity="0.75"/>
<path d="M471.85 311.40L474.85 314.40M471.85 314.40L474.85 311.40" stroke="#ff4646" stroke-width="0.6" fill="none"/>
<text x="483.00" y="315.40" font-size="7.20" text-anchor="start" fill="#333" stroke="#333" font-weight="normal" >Coal fines</text>
<text x="479.00" y="324.40" font-size="7.20" text-anchor="start" fill="#333" stroke="#333" font-weight="normal" >content/%</text>
<path d="M478.10 332.70L419.64 276.58" stroke="#0a14ff" stroke-width="1.6"/><polygon points="415.60,272.70 422.74,276.23 420.53,277.44 419.42,279.69" fill="#0a14ff"/>
<text class="yt" transform="translate(12.82 83.00) rotate(-90) scale(0.967 1)" font-size="8.00" text-anchor="middle" fill="#2a2a2a" stroke="#2a2a2a" letter-spacing="0.15">Conductivity/(μm<tspan dy="-2.88" font-size="5.60">2</tspan><tspan dy="2.88">·cm)</tspan></text>
<text class="ct" transform="translate(271.12 83.00) rotate(-90) scale(1.000 1)" font-size="8.10" text-anchor="middle" fill="#333" stroke="#333">Coal fines content/%</text>
<text class="yt" transform="translate(285.82 83.00) rotate(-90) scale(0.967 1)" font-size="8.00" text-anchor="middle" fill="#2a2a2a" stroke="#2a2a2a" letter-spacing="0.15">Conductivity/(μm<tspan dy="-2.88" font-size="5.60">2</tspan><tspan dy="2.88">·cm)</tspan></text>
<text class="ct" transform="translate(544.12 83.00) rotate(-90) scale(1.000 1)" font-size="8.10" text-anchor="middle" fill="#333" stroke="#333">Coal fines content/%</text>
<text class="yt" transform="translate(12.82 276.00) rotate(-90) scale(0.967 1)" font-size="8.00" text-anchor="middle" fill="#2a2a2a" stroke="#2a2a2a" letter-spacing="0.15">Conductivity/(μm<tspan dy="-2.88" font-size="5.60">2</tspan><tspan dy="2.88">·cm)</tspan></text>
<text class="ct" transform="translate(271.12 276.00) rotate(-90) scale(1.000 1)" font-size="8.10" text-anchor="middle" fill="#333" stroke="#333">Coal fines content/%</text>
<text class="yt" transform="translate(285.82 276.00) rotate(-90) scale(0.967 1)" font-size="8.00" text-anchor="middle" fill="#2a2a2a" stroke="#2a2a2a" letter-spacing="0.15">Conductivity/(μm<tspan dy="-2.88" font-size="5.60">2</tspan><tspan dy="2.88">·cm)</tspan></text>
<text class="ct" transform="translate(544.12 276.00) rotate(-90) scale(1.000 1)" font-size="8.10" text-anchor="middle" fill="#333" stroke="#333">Coal fines content/%</text>
<text x="140.20" y="181.00" font-size="7.80" text-anchor="middle" fill="#333" stroke="#333" font-weight="normal" >Compaction time/h</text>
<text x="140.20" y="192.30" font-size="9.10" text-anchor="middle" fill="#111" stroke="#111" font-weight="bold" >(a) Overall experiment</text>
<text x="412.50" y="181.00" font-size="7.80" text-anchor="middle" fill="#333" stroke="#333" font-weight="normal" >Compaction time/h</text>
<text x="412.50" y="192.30" font-size="9.10" text-anchor="middle" fill="#111" stroke="#111" font-weight="bold" >(b) Experiment 1</text>
<text x="140.20" y="374.00" font-size="7.80" text-anchor="middle" fill="#333" stroke="#333" font-weight="normal" >Compaction time/h</text>
<text x="140.20" y="385.30" font-size="9.10" text-anchor="middle" fill="#111" stroke="#111" font-weight="bold" >(c) Experiment 2</text>
<text x="412.50" y="374.00" font-size="7.80" text-anchor="middle" fill="#333" stroke="#333" font-weight="normal" >Compaction time/h</text>
<text x="412.50" y="385.30" font-size="9.10" text-anchor="middle" fill="#111" stroke="#111" font-weight="bold" >(d) Experiment 3</text>
</svg>
</body></html>
